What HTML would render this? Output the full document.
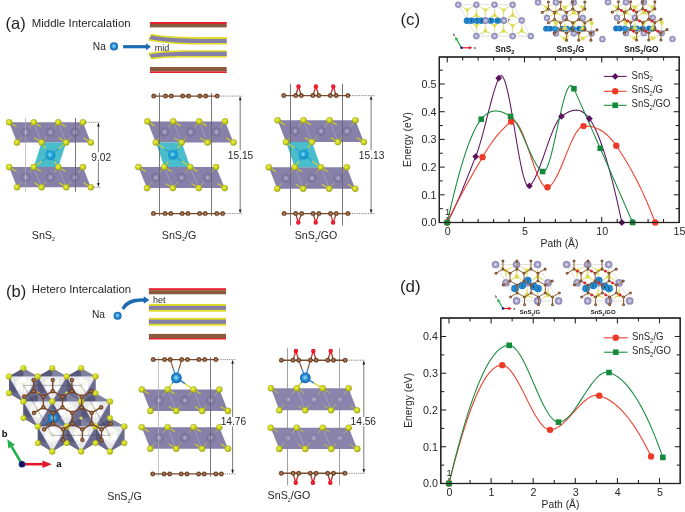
<!DOCTYPE html>
<html><head><meta charset="utf-8"><title>Na intercalation in SnS2 heterostructures</title>
<style>
html,body{margin:0;padding:0;background:#fff;}
svg{display:block;font-family:"Liberation Sans", sans-serif;}
</style></head>
<body>
<svg width="685" height="512" viewBox="0 0 685 512">
<rect x="0" y="0" width="685" height="512" fill="#ffffff"/>

<defs>
<radialGradient id="gS" cx="40%" cy="38%" r="65%"><stop offset="0" stop-color="#e8ee48"/><stop offset="0.55" stop-color="#d0d81e"/><stop offset="1" stop-color="#98a010"/></radialGradient>
<radialGradient id="gSn" cx="50%" cy="50%" r="50%"><stop offset="0" stop-color="#cdcadf"/><stop offset="0.22" stop-color="#a09bbd"/><stop offset="0.75" stop-color="#7a749c"/><stop offset="1" stop-color="#757097"/></radialGradient>
<radialGradient id="gSn2" cx="50%" cy="50%" r="50%"><stop offset="0" stop-color="#d2cfe2"/><stop offset="0.22" stop-color="#a5a0c2"/><stop offset="0.75" stop-color="#857fa8"/><stop offset="1" stop-color="#827ca5"/></radialGradient>
<radialGradient id="gNa" cx="48%" cy="48%" r="55%"><stop offset="0" stop-color="#a5e4f6"/><stop offset="0.22" stop-color="#62bfe8"/><stop offset="0.55" stop-color="#2385cc"/><stop offset="1" stop-color="#155fae"/></radialGradient>
<radialGradient id="gNaC" cx="45%" cy="45%" r="60%"><stop offset="0" stop-color="#9fe6f7"/><stop offset="0.4" stop-color="#22a6d8"/><stop offset="1" stop-color="#1489c4"/></radialGradient>
<radialGradient id="gC" cx="50%" cy="50%" r="50%"><stop offset="0" stop-color="#c9a080"/><stop offset="0.4" stop-color="#9a6844"/><stop offset="0.75" stop-color="#6e4022"/><stop offset="1" stop-color="#683a1e"/></radialGradient>
<radialGradient id="gO" cx="50%" cy="50%" r="50%"><stop offset="0" stop-color="#ff6a72"/><stop offset="0.35" stop-color="#f01c2c"/><stop offset="1" stop-color="#d80a1c"/></radialGradient>
<radialGradient id="gSnT" cx="50%" cy="50%" r="50%"><stop offset="0" stop-color="#ececf6"/><stop offset="0.5" stop-color="#aaa7cc"/><stop offset="1" stop-color="#8481b0"/></radialGradient>
</defs>

<text x="5.5" y="29.4" font-size="16.5" text-anchor="start" font-weight="normal" fill="#231f20" >(a)</text>
<text x="31.8" y="27.4" font-size="11.4" text-anchor="start" font-weight="normal" fill="#231f20" >Middle Intercalation</text>
<text x="92.8" y="49.7" font-size="10.2" text-anchor="start" font-weight="normal" fill="#231f20" >Na</text>
<text x="154.8" y="50.8" font-size="9" text-anchor="start" font-weight="normal" fill="#231f20" >mid</text>
<text x="6" y="296.8" font-size="16.5" text-anchor="start" font-weight="normal" fill="#231f20" >(b)</text>
<text x="31.8" y="293.2" font-size="11.4" text-anchor="start" font-weight="normal" fill="#231f20" >Hetero Intercalation</text>
<text x="91.9" y="318" font-size="10.2" text-anchor="start" font-weight="normal" fill="#231f20" >Na</text>
<text x="152.9" y="302.7" font-size="9" text-anchor="start" font-weight="normal" fill="#231f20" >het</text>
<text x="400.4" y="25.4" font-size="16.9" text-anchor="start" font-weight="normal" fill="#231f20" >(c)</text>
<text x="399.9" y="292.3" font-size="16.9" text-anchor="start" font-weight="normal" fill="#231f20" >(d)</text>
<text x="31.8" y="238.7" font-size="10.7" text-anchor="start" font-weight="normal" fill="#231f20" >SnS<tspan font-size="5.35" dy="2.67">2</tspan><tspan dy="-2.67"></tspan></text>
<text x="161.8" y="238.8" font-size="10.7" text-anchor="start" font-weight="normal" fill="#231f20" >SnS<tspan font-size="5.35" dy="2.67">2</tspan><tspan dy="-2.67">/G</tspan></text>
<text x="294.8" y="239" font-size="10.6" text-anchor="start" font-weight="normal" fill="#231f20" >SnS<tspan font-size="5.3" dy="2.65">2</tspan><tspan dy="-2.65">/GO</tspan></text>
<text x="107.3" y="499.9" font-size="10.7" text-anchor="start" font-weight="normal" fill="#231f20" >SnS<tspan font-size="5.35" dy="2.67">2</tspan><tspan dy="-2.67">/G</tspan></text>
<text x="267.6" y="499.3" font-size="10.7" text-anchor="start" font-weight="normal" fill="#231f20" >SnS<tspan font-size="5.35" dy="2.67">2</tspan><tspan dy="-2.67">/GO</tspan></text>
<rect x="149.9" y="22" width="76.8" height="2" fill="#e8202e" />
<rect x="149.9" y="23.9" width="76.8" height="3.5" fill="#8a5a3c" />
<rect x="149.9" y="67" width="76.8" height="4.5" fill="#8a5a3c" />
<rect x="149.9" y="71.4" width="76.8" height="1.6" fill="#e8202e" />
<path d="M226.7,37.1 L197.5,37.1 C179.5,37.1 161.5,36 150.9,33.8 L148.3,40.5 C161.5,43.1 179.5,44.6 197.5,44.6 L226.7,44.6 Z" fill="#e0dc28"/>
<path d="M226.7,38.9 L198.3,38.9 C180.3,38.9 162.3,37.8 151.7,35.6 L149.1,38.9 C162.3,41.5 180.3,43 198.3,43 L226.7,43 Z" fill="#8480aa"/>
<path d="M226.7,50.2 L197.5,50.2 C179.5,50.2 161.5,50.3 148.3,52.9 L150.9,59.6 C161.5,57.4 179.5,57.5 197.5,57.5 L226.7,57.5 Z" fill="#e0dc28"/>
<path d="M226.7,51.8 L198.3,51.8 C180.3,51.8 162.3,51.9 149.1,54.5 L151.7,57.8 C162.3,55.6 180.3,55.9 198.3,55.9 L226.7,55.9 Z" fill="#8480aa"/>
<line x1="123.1" y1="46.7" x2="147" y2="46.7" stroke="#1b6ab3" stroke-width="3.2" />
<polygon points="146,43.2 151,46.7 146,50.2" fill="#1b6ab3" />
<circle cx="114" cy="46.4" r="4.1" fill="url(#gNa)" />
<rect x="148.9" y="288.2" width="77.1" height="2.1" fill="#e8202e" />
<rect x="148.9" y="290.2" width="77.1" height="4.1" fill="#8a5a3c" />
<rect x="148.9" y="303.9" width="77.1" height="7.8" fill="#e0dc28" />
<rect x="148.9" y="305.9" width="77.1" height="3.9" fill="#8480aa" />
<rect x="148.9" y="317.8" width="77.1" height="7.9" fill="#e0dc28" />
<rect x="148.9" y="319.7" width="77.1" height="4.1" fill="#8480aa" />
<rect x="148.9" y="333.9" width="77.1" height="4.2" fill="#8a5a3c" />
<rect x="148.9" y="338" width="77.1" height="1.5" fill="#e8202e" />
<path d="M121.6,308.0 C125,300.6 132.5,297.8 144.5,298.2 L144.5,301.8 C134.5,301.5 128,303.8 124.0,310.0 Z" fill="#1b6ab3"/>
<polygon points="143.8,296.2 149.4,299.9 143.8,303.7" fill="#1b6ab3" />
<circle cx="117.6" cy="315.7" r="4" fill="url(#gNa)" />
<line x1="25.5" y1="117.9" x2="25.5" y2="191.7" stroke="#b5b5b5" stroke-width="0.55" />
<line x1="75.5" y1="117.9" x2="75.5" y2="191.7" stroke="#555" stroke-width="0.55" />
<polygon points="9.1,122.3 82.9,122.3 90.8,142.5 17,142.5" fill="#8780a8" />
<line x1="33.7" y1="122.3" x2="41.6" y2="142.5" stroke="#b9b6d2" stroke-width="0.5" />
<line x1="58.3" y1="122.3" x2="66.2" y2="142.5" stroke="#b9b6d2" stroke-width="0.5" />
<line x1="17" y1="142.5" x2="21.4" y2="137.4" stroke="#c9cc3a" stroke-width="0.7" />
<line x1="21.4" y1="137.4" x2="25.8" y2="132.3" stroke="#9d99bb" stroke-width="0.7" />
<line x1="33.7" y1="122.3" x2="29.75" y2="127.3" stroke="#c9cc3a" stroke-width="0.7" />
<line x1="29.75" y1="127.3" x2="25.8" y2="132.3" stroke="#9d99bb" stroke-width="0.7" />
<line x1="41.6" y1="142.5" x2="46" y2="137.4" stroke="#c9cc3a" stroke-width="0.7" />
<line x1="46" y1="137.4" x2="50.4" y2="132.3" stroke="#9d99bb" stroke-width="0.7" />
<line x1="58.3" y1="122.3" x2="54.35" y2="127.3" stroke="#c9cc3a" stroke-width="0.7" />
<line x1="54.35" y1="127.3" x2="50.4" y2="132.3" stroke="#9d99bb" stroke-width="0.7" />
<line x1="66.2" y1="142.5" x2="70.6" y2="137.4" stroke="#c9cc3a" stroke-width="0.7" />
<line x1="70.6" y1="137.4" x2="75" y2="132.3" stroke="#9d99bb" stroke-width="0.7" />
<line x1="82.9" y1="122.3" x2="78.95" y2="127.3" stroke="#c9cc3a" stroke-width="0.7" />
<line x1="78.95" y1="127.3" x2="75" y2="132.3" stroke="#9d99bb" stroke-width="0.7" />
<line x1="9.1" y1="122.3" x2="16.48" y2="126.72" stroke="#cccc30" stroke-width="1.2" />
<line x1="41.6" y1="142.5" x2="34.37" y2="137.84" stroke="#cccc30" stroke-width="1.2" />
<line x1="33.7" y1="122.3" x2="41.08" y2="126.72" stroke="#cccc30" stroke-width="1.2" />
<line x1="66.2" y1="142.5" x2="58.97" y2="137.84" stroke="#cccc30" stroke-width="1.2" />
<line x1="58.3" y1="122.3" x2="65.68" y2="126.72" stroke="#cccc30" stroke-width="1.2" />
<line x1="90.8" y1="142.5" x2="83.57" y2="137.84" stroke="#cccc30" stroke-width="1.2" />
<circle cx="25.8" cy="132.3" r="4.6" fill="url(#gSn)" opacity="0.95"/>
<circle cx="50.4" cy="132.3" r="4.6" fill="url(#gSn)" opacity="0.95"/>
<circle cx="75" cy="132.3" r="4.6" fill="url(#gSn)" opacity="0.95"/>
<polygon points="9.1,167.1 82.9,167.1 90.8,187.3 17,187.3" fill="#8780a8" />
<line x1="33.7" y1="167.1" x2="41.6" y2="187.3" stroke="#b9b6d2" stroke-width="0.5" />
<line x1="58.3" y1="167.1" x2="66.2" y2="187.3" stroke="#b9b6d2" stroke-width="0.5" />
<line x1="17" y1="187.3" x2="21.4" y2="182.3" stroke="#c9cc3a" stroke-width="0.7" />
<line x1="21.4" y1="182.3" x2="25.8" y2="177.3" stroke="#9d99bb" stroke-width="0.7" />
<line x1="33.7" y1="167.1" x2="29.75" y2="172.2" stroke="#c9cc3a" stroke-width="0.7" />
<line x1="29.75" y1="172.2" x2="25.8" y2="177.3" stroke="#9d99bb" stroke-width="0.7" />
<line x1="41.6" y1="187.3" x2="46" y2="182.3" stroke="#c9cc3a" stroke-width="0.7" />
<line x1="46" y1="182.3" x2="50.4" y2="177.3" stroke="#9d99bb" stroke-width="0.7" />
<line x1="58.3" y1="167.1" x2="54.35" y2="172.2" stroke="#c9cc3a" stroke-width="0.7" />
<line x1="54.35" y1="172.2" x2="50.4" y2="177.3" stroke="#9d99bb" stroke-width="0.7" />
<line x1="66.2" y1="187.3" x2="70.6" y2="182.3" stroke="#c9cc3a" stroke-width="0.7" />
<line x1="70.6" y1="182.3" x2="75" y2="177.3" stroke="#9d99bb" stroke-width="0.7" />
<line x1="82.9" y1="167.1" x2="78.95" y2="172.2" stroke="#c9cc3a" stroke-width="0.7" />
<line x1="78.95" y1="172.2" x2="75" y2="177.3" stroke="#9d99bb" stroke-width="0.7" />
<line x1="9.1" y1="167.1" x2="16.44" y2="171.58" stroke="#cccc30" stroke-width="1.2" />
<line x1="41.6" y1="187.3" x2="34.33" y2="182.7" stroke="#cccc30" stroke-width="1.2" />
<line x1="33.7" y1="167.1" x2="41.04" y2="171.58" stroke="#cccc30" stroke-width="1.2" />
<line x1="66.2" y1="187.3" x2="58.93" y2="182.7" stroke="#cccc30" stroke-width="1.2" />
<line x1="58.3" y1="167.1" x2="65.64" y2="171.58" stroke="#cccc30" stroke-width="1.2" />
<line x1="90.8" y1="187.3" x2="83.53" y2="182.7" stroke="#cccc30" stroke-width="1.2" />
<circle cx="25.8" cy="177.3" r="4.6" fill="url(#gSn)" opacity="0.95"/>
<circle cx="50.4" cy="177.3" r="4.6" fill="url(#gSn)" opacity="0.95"/>
<circle cx="75" cy="177.3" r="4.6" fill="url(#gSn)" opacity="0.95"/>
<polygon points="41.6,142.5 66.2,142.5 58.3,167.1 33.7,167.1" fill="#3fb9c9" opacity="0.95"/>
<line x1="25.5" y1="117.9" x2="25.5" y2="191.7" stroke="#b5b5b5" stroke-width="0.55" />
<line x1="75.5" y1="117.9" x2="75.5" y2="191.7" stroke="#555" stroke-width="0.55" />
<line x1="41.6" y1="142.5" x2="46" y2="148.85" stroke="#c9d040" stroke-width="1.2" />
<line x1="46" y1="148.85" x2="50.4" y2="155.2" stroke="#2aa0d0" stroke-width="1.2" />
<line x1="66.2" y1="142.5" x2="58.3" y2="148.85" stroke="#c9d040" stroke-width="1.2" />
<line x1="58.3" y1="148.85" x2="50.4" y2="155.2" stroke="#2aa0d0" stroke-width="1.2" />
<line x1="33.7" y1="167.1" x2="42.05" y2="161.15" stroke="#c9d040" stroke-width="1.2" />
<line x1="42.05" y1="161.15" x2="50.4" y2="155.2" stroke="#2aa0d0" stroke-width="1.2" />
<line x1="58.3" y1="167.1" x2="54.35" y2="161.15" stroke="#c9d040" stroke-width="1.2" />
<line x1="54.35" y1="161.15" x2="50.4" y2="155.2" stroke="#2aa0d0" stroke-width="1.2" />
<circle cx="50.4" cy="155.2" r="5" fill="url(#gNaC)" />
<circle cx="9.1" cy="122.3" r="3.05" fill="url(#gS)" stroke="#8f9310" stroke-width="0.4" />
<circle cx="33.7" cy="122.3" r="3.05" fill="url(#gS)" stroke="#8f9310" stroke-width="0.4" />
<circle cx="58.3" cy="122.3" r="3.05" fill="url(#gS)" stroke="#8f9310" stroke-width="0.4" />
<circle cx="82.9" cy="122.3" r="3.05" fill="url(#gS)" stroke="#8f9310" stroke-width="0.4" />
<circle cx="17" cy="142.5" r="3.05" fill="url(#gS)" stroke="#8f9310" stroke-width="0.4" />
<circle cx="41.6" cy="142.5" r="3.05" fill="url(#gS)" stroke="#8f9310" stroke-width="0.4" />
<circle cx="66.2" cy="142.5" r="3.05" fill="url(#gS)" stroke="#8f9310" stroke-width="0.4" />
<circle cx="90.8" cy="142.5" r="3.05" fill="url(#gS)" stroke="#8f9310" stroke-width="0.4" />
<circle cx="9.1" cy="167.1" r="3.05" fill="url(#gS)" stroke="#8f9310" stroke-width="0.4" />
<circle cx="33.7" cy="167.1" r="3.05" fill="url(#gS)" stroke="#8f9310" stroke-width="0.4" />
<circle cx="58.3" cy="167.1" r="3.05" fill="url(#gS)" stroke="#8f9310" stroke-width="0.4" />
<circle cx="82.9" cy="167.1" r="3.05" fill="url(#gS)" stroke="#8f9310" stroke-width="0.4" />
<circle cx="17" cy="187.3" r="3.05" fill="url(#gS)" stroke="#8f9310" stroke-width="0.4" />
<circle cx="41.6" cy="187.3" r="3.05" fill="url(#gS)" stroke="#8f9310" stroke-width="0.4" />
<circle cx="66.2" cy="187.3" r="3.05" fill="url(#gS)" stroke="#8f9310" stroke-width="0.4" />
<circle cx="90.8" cy="187.3" r="3.05" fill="url(#gS)" stroke="#8f9310" stroke-width="0.4" />
<line x1="85.9" y1="122.3" x2="100.4" y2="122.3" stroke="#231f20" stroke-width="0.6" stroke-dasharray="0.9 0.9"/>
<line x1="93.8" y1="187.3" x2="100.4" y2="187.3" stroke="#231f20" stroke-width="0.6" stroke-dasharray="0.9 0.9"/>
<line x1="98.4" y1="123.8" x2="98.4" y2="185.8" stroke="#231f20" stroke-width="0.6" />
<polygon points="98.4,122.5 97.1,126.5 99.7,126.5" fill="#231f20" />
<polygon points="98.4,187.1 97.1,183.1 99.7,183.1" fill="#231f20" />
<rect x="88.9" y="152.2" width="24.6" height="9.4" fill="#fff" />
<text x="101.2" y="160.6" font-size="10.2" text-anchor="middle" font-weight="normal" fill="#231f20" >9.02</text>
<line x1="159.5" y1="92.9" x2="159.5" y2="215.9" stroke="#555" stroke-width="0.55" />
<line x1="211.5" y1="92.9" x2="211.5" y2="215.9" stroke="#555" stroke-width="0.55" />
<polygon points="147.4,121.4 225.1,121.4 233.5,142.5 155.8,142.5" fill="#8780a8" />
<line x1="173.3" y1="121.4" x2="181.7" y2="142.5" stroke="#b9b6d2" stroke-width="0.5" />
<line x1="199.2" y1="121.4" x2="207.6" y2="142.5" stroke="#b9b6d2" stroke-width="0.5" />
<line x1="155.8" y1="142.5" x2="160.2" y2="137.2" stroke="#c9cc3a" stroke-width="0.7" />
<line x1="160.2" y1="137.2" x2="164.6" y2="131.9" stroke="#9d99bb" stroke-width="0.7" />
<line x1="173.3" y1="121.4" x2="168.95" y2="126.65" stroke="#c9cc3a" stroke-width="0.7" />
<line x1="168.95" y1="126.65" x2="164.6" y2="131.9" stroke="#9d99bb" stroke-width="0.7" />
<line x1="181.7" y1="142.5" x2="186.1" y2="137.2" stroke="#c9cc3a" stroke-width="0.7" />
<line x1="186.1" y1="137.2" x2="190.5" y2="131.9" stroke="#9d99bb" stroke-width="0.7" />
<line x1="199.2" y1="121.4" x2="194.85" y2="126.65" stroke="#c9cc3a" stroke-width="0.7" />
<line x1="194.85" y1="126.65" x2="190.5" y2="131.9" stroke="#9d99bb" stroke-width="0.7" />
<line x1="207.6" y1="142.5" x2="212" y2="137.2" stroke="#c9cc3a" stroke-width="0.7" />
<line x1="212" y1="137.2" x2="216.4" y2="131.9" stroke="#9d99bb" stroke-width="0.7" />
<line x1="225.1" y1="121.4" x2="220.75" y2="126.65" stroke="#c9cc3a" stroke-width="0.7" />
<line x1="220.75" y1="126.65" x2="216.4" y2="131.9" stroke="#9d99bb" stroke-width="0.7" />
<line x1="147.4" y1="121.4" x2="154.74" y2="125.88" stroke="#cccc30" stroke-width="1.2" />
<line x1="181.7" y1="142.5" x2="174.39" y2="137.97" stroke="#cccc30" stroke-width="1.2" />
<line x1="173.3" y1="121.4" x2="180.64" y2="125.88" stroke="#cccc30" stroke-width="1.2" />
<line x1="207.6" y1="142.5" x2="200.29" y2="137.97" stroke="#cccc30" stroke-width="1.2" />
<line x1="199.2" y1="121.4" x2="206.54" y2="125.88" stroke="#cccc30" stroke-width="1.2" />
<line x1="233.5" y1="142.5" x2="226.19" y2="137.97" stroke="#cccc30" stroke-width="1.2" />
<circle cx="164.6" cy="131.9" r="4.6" fill="url(#gSn)" opacity="0.95"/>
<circle cx="190.5" cy="131.9" r="4.6" fill="url(#gSn)" opacity="0.95"/>
<circle cx="216.4" cy="131.9" r="4.6" fill="url(#gSn)" opacity="0.95"/>
<polygon points="138.4,167 216.1,167 224.7,188.1 147,188.1" fill="#8780a8" />
<line x1="164.3" y1="167" x2="172.9" y2="188.1" stroke="#b9b6d2" stroke-width="0.5" />
<line x1="190.2" y1="167" x2="198.8" y2="188.1" stroke="#b9b6d2" stroke-width="0.5" />
<line x1="147" y1="188.1" x2="151.4" y2="182.85" stroke="#c9cc3a" stroke-width="0.7" />
<line x1="151.4" y1="182.85" x2="155.8" y2="177.6" stroke="#9d99bb" stroke-width="0.7" />
<line x1="164.3" y1="167" x2="160.05" y2="172.3" stroke="#c9cc3a" stroke-width="0.7" />
<line x1="160.05" y1="172.3" x2="155.8" y2="177.6" stroke="#9d99bb" stroke-width="0.7" />
<line x1="172.9" y1="188.1" x2="177.3" y2="182.85" stroke="#c9cc3a" stroke-width="0.7" />
<line x1="177.3" y1="182.85" x2="181.7" y2="177.6" stroke="#9d99bb" stroke-width="0.7" />
<line x1="190.2" y1="167" x2="185.95" y2="172.3" stroke="#c9cc3a" stroke-width="0.7" />
<line x1="185.95" y1="172.3" x2="181.7" y2="177.6" stroke="#9d99bb" stroke-width="0.7" />
<line x1="198.8" y1="188.1" x2="203.2" y2="182.85" stroke="#c9cc3a" stroke-width="0.7" />
<line x1="203.2" y1="182.85" x2="207.6" y2="177.6" stroke="#9d99bb" stroke-width="0.7" />
<line x1="216.1" y1="167" x2="211.85" y2="172.3" stroke="#c9cc3a" stroke-width="0.7" />
<line x1="211.85" y1="172.3" x2="207.6" y2="177.6" stroke="#9d99bb" stroke-width="0.7" />
<line x1="138.4" y1="167" x2="145.74" y2="171.47" stroke="#cccc30" stroke-width="1.2" />
<line x1="172.9" y1="188.1" x2="165.57" y2="183.6" stroke="#cccc30" stroke-width="1.2" />
<line x1="164.3" y1="167" x2="171.64" y2="171.47" stroke="#cccc30" stroke-width="1.2" />
<line x1="198.8" y1="188.1" x2="191.47" y2="183.6" stroke="#cccc30" stroke-width="1.2" />
<line x1="190.2" y1="167" x2="197.54" y2="171.47" stroke="#cccc30" stroke-width="1.2" />
<line x1="224.7" y1="188.1" x2="217.37" y2="183.6" stroke="#cccc30" stroke-width="1.2" />
<circle cx="155.8" cy="177.6" r="4.6" fill="url(#gSn)" opacity="0.95"/>
<circle cx="181.7" cy="177.6" r="4.6" fill="url(#gSn)" opacity="0.95"/>
<circle cx="207.6" cy="177.6" r="4.6" fill="url(#gSn)" opacity="0.95"/>
<polygon points="155.8,142.5 181.7,142.5 190.2,167 164.3,167" fill="#3fb9c9" opacity="0.95"/>
<line x1="159.5" y1="92.9" x2="159.5" y2="215.9" stroke="#555" stroke-width="0.55" />
<line x1="211.5" y1="92.9" x2="211.5" y2="215.9" stroke="#555" stroke-width="0.55" />
<line x1="155.8" y1="142.5" x2="164.4" y2="148.65" stroke="#c9d040" stroke-width="1.2" />
<line x1="164.4" y1="148.65" x2="173" y2="154.8" stroke="#2aa0d0" stroke-width="1.2" />
<line x1="181.7" y1="142.5" x2="177.35" y2="148.65" stroke="#c9d040" stroke-width="1.2" />
<line x1="177.35" y1="148.65" x2="173" y2="154.8" stroke="#2aa0d0" stroke-width="1.2" />
<line x1="164.3" y1="167" x2="168.65" y2="160.9" stroke="#c9d040" stroke-width="1.2" />
<line x1="168.65" y1="160.9" x2="173" y2="154.8" stroke="#2aa0d0" stroke-width="1.2" />
<line x1="190.2" y1="167" x2="181.6" y2="160.9" stroke="#c9d040" stroke-width="1.2" />
<line x1="181.6" y1="160.9" x2="173" y2="154.8" stroke="#2aa0d0" stroke-width="1.2" />
<circle cx="173" cy="154.8" r="5" fill="url(#gNaC)" />
<circle cx="147.4" cy="121.4" r="3.05" fill="url(#gS)" stroke="#8f9310" stroke-width="0.4" />
<circle cx="173.3" cy="121.4" r="3.05" fill="url(#gS)" stroke="#8f9310" stroke-width="0.4" />
<circle cx="199.2" cy="121.4" r="3.05" fill="url(#gS)" stroke="#8f9310" stroke-width="0.4" />
<circle cx="225.1" cy="121.4" r="3.05" fill="url(#gS)" stroke="#8f9310" stroke-width="0.4" />
<circle cx="155.8" cy="142.5" r="3.05" fill="url(#gS)" stroke="#8f9310" stroke-width="0.4" />
<circle cx="181.7" cy="142.5" r="3.05" fill="url(#gS)" stroke="#8f9310" stroke-width="0.4" />
<circle cx="207.6" cy="142.5" r="3.05" fill="url(#gS)" stroke="#8f9310" stroke-width="0.4" />
<circle cx="233.5" cy="142.5" r="3.05" fill="url(#gS)" stroke="#8f9310" stroke-width="0.4" />
<circle cx="138.4" cy="167" r="3.05" fill="url(#gS)" stroke="#8f9310" stroke-width="0.4" />
<circle cx="164.3" cy="167" r="3.05" fill="url(#gS)" stroke="#8f9310" stroke-width="0.4" />
<circle cx="190.2" cy="167" r="3.05" fill="url(#gS)" stroke="#8f9310" stroke-width="0.4" />
<circle cx="216.1" cy="167" r="3.05" fill="url(#gS)" stroke="#8f9310" stroke-width="0.4" />
<circle cx="147" cy="188.1" r="3.05" fill="url(#gS)" stroke="#8f9310" stroke-width="0.4" />
<circle cx="172.9" cy="188.1" r="3.05" fill="url(#gS)" stroke="#8f9310" stroke-width="0.4" />
<circle cx="198.8" cy="188.1" r="3.05" fill="url(#gS)" stroke="#8f9310" stroke-width="0.4" />
<circle cx="224.7" cy="188.1" r="3.05" fill="url(#gS)" stroke="#8f9310" stroke-width="0.4" />
<line x1="153.7" y1="96.1" x2="217.2" y2="96.1" stroke="#7a4a2c" stroke-width="1.4" />
<circle cx="153.7" cy="96.1" r="2.25" fill="url(#gC)" stroke="#5e3418" stroke-width="0.35" />
<circle cx="165.5" cy="96.1" r="2.25" fill="url(#gC)" stroke="#5e3418" stroke-width="0.35" />
<circle cx="171.3" cy="96.1" r="2.25" fill="url(#gC)" stroke="#5e3418" stroke-width="0.35" />
<circle cx="182.7" cy="96.1" r="2.25" fill="url(#gC)" stroke="#5e3418" stroke-width="0.35" />
<circle cx="188.5" cy="96.1" r="2.25" fill="url(#gC)" stroke="#5e3418" stroke-width="0.35" />
<circle cx="199.9" cy="96.1" r="2.25" fill="url(#gC)" stroke="#5e3418" stroke-width="0.35" />
<circle cx="205.7" cy="96.1" r="2.25" fill="url(#gC)" stroke="#5e3418" stroke-width="0.35" />
<circle cx="217.2" cy="96.1" r="2.25" fill="url(#gC)" stroke="#5e3418" stroke-width="0.35" />
<line x1="153.4" y1="213.6" x2="222.6" y2="213.6" stroke="#7a4a2c" stroke-width="1.4" />
<circle cx="153.4" cy="213.6" r="2.25" fill="url(#gC)" stroke="#5e3418" stroke-width="0.35" />
<circle cx="165.1" cy="213.6" r="2.25" fill="url(#gC)" stroke="#5e3418" stroke-width="0.35" />
<circle cx="170.8" cy="213.6" r="2.25" fill="url(#gC)" stroke="#5e3418" stroke-width="0.35" />
<circle cx="182.2" cy="213.6" r="2.25" fill="url(#gC)" stroke="#5e3418" stroke-width="0.35" />
<circle cx="188" cy="213.6" r="2.25" fill="url(#gC)" stroke="#5e3418" stroke-width="0.35" />
<circle cx="199.6" cy="213.6" r="2.25" fill="url(#gC)" stroke="#5e3418" stroke-width="0.35" />
<circle cx="205.2" cy="213.6" r="2.25" fill="url(#gC)" stroke="#5e3418" stroke-width="0.35" />
<circle cx="216.8" cy="213.6" r="2.25" fill="url(#gC)" stroke="#5e3418" stroke-width="0.35" />
<circle cx="222.6" cy="213.6" r="2.25" fill="url(#gC)" stroke="#5e3418" stroke-width="0.35" />
<line x1="219.4" y1="96.1" x2="241.8" y2="96.1" stroke="#231f20" stroke-width="0.6" stroke-dasharray="0.9 0.9"/>
<line x1="224.8" y1="213.6" x2="241.8" y2="213.6" stroke="#231f20" stroke-width="0.6" stroke-dasharray="0.9 0.9"/>
<line x1="240.2" y1="97.6" x2="240.2" y2="212.1" stroke="#231f20" stroke-width="0.6" />
<polygon points="240.2,96.3 238.9,100.3 241.5,100.3" fill="#231f20" />
<polygon points="240.2,213.4 238.9,209.4 241.5,209.4" fill="#231f20" />
<rect x="228.2" y="150.2" width="24.6" height="9.4" fill="#fff" />
<text x="240.5" y="158.6" font-size="10.2" text-anchor="middle" font-weight="normal" fill="#231f20" >15.15</text>
<line x1="290.5" y1="83.8" x2="290.5" y2="225.6" stroke="#555" stroke-width="0.55" />
<line x1="342.5" y1="83.8" x2="342.5" y2="225.6" stroke="#555" stroke-width="0.55" />
<polygon points="277.6,120.3 355.45,120.3 363.85,142.1 286,142.1" fill="#8780a8" />
<line x1="303.55" y1="120.3" x2="311.95" y2="142.1" stroke="#b9b6d2" stroke-width="0.5" />
<line x1="329.5" y1="120.3" x2="337.9" y2="142.1" stroke="#b9b6d2" stroke-width="0.5" />
<line x1="286" y1="142.1" x2="290.5" y2="136.65" stroke="#c9cc3a" stroke-width="0.7" />
<line x1="290.5" y1="136.65" x2="295" y2="131.2" stroke="#9d99bb" stroke-width="0.7" />
<line x1="303.55" y1="120.3" x2="299.27" y2="125.75" stroke="#c9cc3a" stroke-width="0.7" />
<line x1="299.27" y1="125.75" x2="295" y2="131.2" stroke="#9d99bb" stroke-width="0.7" />
<line x1="311.95" y1="142.1" x2="316.45" y2="136.65" stroke="#c9cc3a" stroke-width="0.7" />
<line x1="316.45" y1="136.65" x2="320.95" y2="131.2" stroke="#9d99bb" stroke-width="0.7" />
<line x1="329.5" y1="120.3" x2="325.23" y2="125.75" stroke="#c9cc3a" stroke-width="0.7" />
<line x1="325.23" y1="125.75" x2="320.95" y2="131.2" stroke="#9d99bb" stroke-width="0.7" />
<line x1="337.9" y1="142.1" x2="342.4" y2="136.65" stroke="#c9cc3a" stroke-width="0.7" />
<line x1="342.4" y1="136.65" x2="346.9" y2="131.2" stroke="#9d99bb" stroke-width="0.7" />
<line x1="355.45" y1="120.3" x2="351.18" y2="125.75" stroke="#c9cc3a" stroke-width="0.7" />
<line x1="351.18" y1="125.75" x2="346.9" y2="131.2" stroke="#9d99bb" stroke-width="0.7" />
<line x1="277.6" y1="120.3" x2="284.89" y2="124.87" stroke="#cccc30" stroke-width="1.2" />
<line x1="311.95" y1="142.1" x2="304.72" y2="137.45" stroke="#cccc30" stroke-width="1.2" />
<line x1="303.55" y1="120.3" x2="310.84" y2="124.87" stroke="#cccc30" stroke-width="1.2" />
<line x1="337.9" y1="142.1" x2="330.67" y2="137.45" stroke="#cccc30" stroke-width="1.2" />
<line x1="329.5" y1="120.3" x2="336.79" y2="124.87" stroke="#cccc30" stroke-width="1.2" />
<line x1="363.85" y1="142.1" x2="356.62" y2="137.45" stroke="#cccc30" stroke-width="1.2" />
<circle cx="295" cy="131.2" r="4.6" fill="url(#gSn)" opacity="0.95"/>
<circle cx="320.95" cy="131.2" r="4.6" fill="url(#gSn)" opacity="0.95"/>
<circle cx="346.9" cy="131.2" r="4.6" fill="url(#gSn)" opacity="0.95"/>
<polygon points="268.8,167.2 346.8,167.2 355.2,188.7 277.2,188.7" fill="#8780a8" />
<line x1="294.8" y1="167.2" x2="303.2" y2="188.7" stroke="#b9b6d2" stroke-width="0.5" />
<line x1="320.8" y1="167.2" x2="329.2" y2="188.7" stroke="#b9b6d2" stroke-width="0.5" />
<line x1="277.2" y1="188.7" x2="281.6" y2="183.4" stroke="#c9cc3a" stroke-width="0.7" />
<line x1="281.6" y1="183.4" x2="286" y2="178.1" stroke="#9d99bb" stroke-width="0.7" />
<line x1="294.8" y1="167.2" x2="290.4" y2="172.65" stroke="#c9cc3a" stroke-width="0.7" />
<line x1="290.4" y1="172.65" x2="286" y2="178.1" stroke="#9d99bb" stroke-width="0.7" />
<line x1="303.2" y1="188.7" x2="307.6" y2="183.4" stroke="#c9cc3a" stroke-width="0.7" />
<line x1="307.6" y1="183.4" x2="312" y2="178.1" stroke="#9d99bb" stroke-width="0.7" />
<line x1="320.8" y1="167.2" x2="316.4" y2="172.65" stroke="#c9cc3a" stroke-width="0.7" />
<line x1="316.4" y1="172.65" x2="312" y2="178.1" stroke="#9d99bb" stroke-width="0.7" />
<line x1="329.2" y1="188.7" x2="333.6" y2="183.4" stroke="#c9cc3a" stroke-width="0.7" />
<line x1="333.6" y1="183.4" x2="338" y2="178.1" stroke="#9d99bb" stroke-width="0.7" />
<line x1="346.8" y1="167.2" x2="342.4" y2="172.65" stroke="#c9cc3a" stroke-width="0.7" />
<line x1="342.4" y1="172.65" x2="338" y2="178.1" stroke="#9d99bb" stroke-width="0.7" />
<line x1="268.8" y1="167.2" x2="276.06" y2="171.8" stroke="#cccc30" stroke-width="1.2" />
<line x1="303.2" y1="188.7" x2="295.88" y2="184.19" stroke="#cccc30" stroke-width="1.2" />
<line x1="294.8" y1="167.2" x2="302.06" y2="171.8" stroke="#cccc30" stroke-width="1.2" />
<line x1="329.2" y1="188.7" x2="321.88" y2="184.19" stroke="#cccc30" stroke-width="1.2" />
<line x1="320.8" y1="167.2" x2="328.06" y2="171.8" stroke="#cccc30" stroke-width="1.2" />
<line x1="355.2" y1="188.7" x2="347.88" y2="184.19" stroke="#cccc30" stroke-width="1.2" />
<circle cx="286" cy="178.1" r="4.6" fill="url(#gSn)" opacity="0.95"/>
<circle cx="312" cy="178.1" r="4.6" fill="url(#gSn)" opacity="0.95"/>
<circle cx="338" cy="178.1" r="4.6" fill="url(#gSn)" opacity="0.95"/>
<polygon points="286,142.1 311.95,142.1 320.8,167.2 294.8,167.2" fill="#3fb9c9" opacity="0.95"/>
<line x1="290.5" y1="83.8" x2="290.5" y2="225.6" stroke="#555" stroke-width="0.55" />
<line x1="342.5" y1="83.8" x2="342.5" y2="225.6" stroke="#555" stroke-width="0.55" />
<line x1="286" y1="142.1" x2="294.8" y2="148.35" stroke="#c9d040" stroke-width="1.2" />
<line x1="294.8" y1="148.35" x2="303.6" y2="154.6" stroke="#2aa0d0" stroke-width="1.2" />
<line x1="311.95" y1="142.1" x2="307.77" y2="148.35" stroke="#c9d040" stroke-width="1.2" />
<line x1="307.77" y1="148.35" x2="303.6" y2="154.6" stroke="#2aa0d0" stroke-width="1.2" />
<line x1="294.8" y1="167.2" x2="299.2" y2="160.9" stroke="#c9d040" stroke-width="1.2" />
<line x1="299.2" y1="160.9" x2="303.6" y2="154.6" stroke="#2aa0d0" stroke-width="1.2" />
<line x1="320.8" y1="167.2" x2="312.2" y2="160.9" stroke="#c9d040" stroke-width="1.2" />
<line x1="312.2" y1="160.9" x2="303.6" y2="154.6" stroke="#2aa0d0" stroke-width="1.2" />
<circle cx="303.6" cy="154.6" r="5" fill="url(#gNaC)" />
<circle cx="277.6" cy="120.3" r="3.05" fill="url(#gS)" stroke="#8f9310" stroke-width="0.4" />
<circle cx="303.55" cy="120.3" r="3.05" fill="url(#gS)" stroke="#8f9310" stroke-width="0.4" />
<circle cx="329.5" cy="120.3" r="3.05" fill="url(#gS)" stroke="#8f9310" stroke-width="0.4" />
<circle cx="355.45" cy="120.3" r="3.05" fill="url(#gS)" stroke="#8f9310" stroke-width="0.4" />
<circle cx="286" cy="142.1" r="3.05" fill="url(#gS)" stroke="#8f9310" stroke-width="0.4" />
<circle cx="311.95" cy="142.1" r="3.05" fill="url(#gS)" stroke="#8f9310" stroke-width="0.4" />
<circle cx="337.9" cy="142.1" r="3.05" fill="url(#gS)" stroke="#8f9310" stroke-width="0.4" />
<circle cx="363.85" cy="142.1" r="3.05" fill="url(#gS)" stroke="#8f9310" stroke-width="0.4" />
<circle cx="268.8" cy="167.2" r="3.05" fill="url(#gS)" stroke="#8f9310" stroke-width="0.4" />
<circle cx="294.8" cy="167.2" r="3.05" fill="url(#gS)" stroke="#8f9310" stroke-width="0.4" />
<circle cx="320.8" cy="167.2" r="3.05" fill="url(#gS)" stroke="#8f9310" stroke-width="0.4" />
<circle cx="346.8" cy="167.2" r="3.05" fill="url(#gS)" stroke="#8f9310" stroke-width="0.4" />
<circle cx="277.2" cy="188.7" r="3.05" fill="url(#gS)" stroke="#8f9310" stroke-width="0.4" />
<circle cx="303.2" cy="188.7" r="3.05" fill="url(#gS)" stroke="#8f9310" stroke-width="0.4" />
<circle cx="329.2" cy="188.7" r="3.05" fill="url(#gS)" stroke="#8f9310" stroke-width="0.4" />
<circle cx="355.2" cy="188.7" r="3.05" fill="url(#gS)" stroke="#8f9310" stroke-width="0.4" />
<line x1="283.7" y1="95.6" x2="347.9" y2="95.6" stroke="#7a4a2c" stroke-width="1.4" />
<line x1="295.7" y1="95.6" x2="297.1" y2="91" stroke="#7a4a2c" stroke-width="1.3" />
<line x1="297.1" y1="91" x2="298.5" y2="86.4" stroke="#e81828" stroke-width="1.3" />
<line x1="301.3" y1="95.6" x2="299.9" y2="91" stroke="#7a4a2c" stroke-width="1.3" />
<line x1="299.9" y1="91" x2="298.5" y2="86.4" stroke="#e81828" stroke-width="1.3" />
<line x1="312.9" y1="95.6" x2="314.4" y2="91" stroke="#7a4a2c" stroke-width="1.3" />
<line x1="314.4" y1="91" x2="315.9" y2="86.4" stroke="#e81828" stroke-width="1.3" />
<line x1="318.7" y1="95.6" x2="317.3" y2="91" stroke="#7a4a2c" stroke-width="1.3" />
<line x1="317.3" y1="91" x2="315.9" y2="86.4" stroke="#e81828" stroke-width="1.3" />
<line x1="330.3" y1="95.6" x2="331.8" y2="91" stroke="#7a4a2c" stroke-width="1.3" />
<line x1="331.8" y1="91" x2="333.3" y2="86.4" stroke="#e81828" stroke-width="1.3" />
<line x1="336.1" y1="95.6" x2="334.7" y2="91" stroke="#7a4a2c" stroke-width="1.3" />
<line x1="334.7" y1="91" x2="333.3" y2="86.4" stroke="#e81828" stroke-width="1.3" />
<circle cx="283.7" cy="95.6" r="2.25" fill="url(#gC)" stroke="#5e3418" stroke-width="0.35" />
<circle cx="295.7" cy="95.6" r="2.25" fill="url(#gC)" stroke="#5e3418" stroke-width="0.35" />
<circle cx="301.3" cy="95.6" r="2.25" fill="url(#gC)" stroke="#5e3418" stroke-width="0.35" />
<circle cx="312.9" cy="95.6" r="2.25" fill="url(#gC)" stroke="#5e3418" stroke-width="0.35" />
<circle cx="318.7" cy="95.6" r="2.25" fill="url(#gC)" stroke="#5e3418" stroke-width="0.35" />
<circle cx="330.3" cy="95.6" r="2.25" fill="url(#gC)" stroke="#5e3418" stroke-width="0.35" />
<circle cx="336.1" cy="95.6" r="2.25" fill="url(#gC)" stroke="#5e3418" stroke-width="0.35" />
<circle cx="347.9" cy="95.6" r="2.25" fill="url(#gC)" stroke="#5e3418" stroke-width="0.35" />
<circle cx="298.5" cy="86.4" r="2.2" fill="url(#gO)" />
<circle cx="315.9" cy="86.4" r="2.2" fill="url(#gO)" />
<circle cx="333.3" cy="86.4" r="2.2" fill="url(#gO)" />
<line x1="284.1" y1="213.6" x2="347.9" y2="213.6" stroke="#7a4a2c" stroke-width="1.4" />
<line x1="295.7" y1="213.6" x2="297" y2="218.1" stroke="#7a4a2c" stroke-width="1.3" />
<line x1="297" y1="218.1" x2="298.3" y2="222.6" stroke="#e81828" stroke-width="1.3" />
<line x1="301.7" y1="213.6" x2="300" y2="218.1" stroke="#7a4a2c" stroke-width="1.3" />
<line x1="300" y1="218.1" x2="298.3" y2="222.6" stroke="#e81828" stroke-width="1.3" />
<line x1="313.1" y1="213.6" x2="314.4" y2="218.1" stroke="#7a4a2c" stroke-width="1.3" />
<line x1="314.4" y1="218.1" x2="315.7" y2="222.6" stroke="#e81828" stroke-width="1.3" />
<line x1="318.9" y1="213.6" x2="317.3" y2="218.1" stroke="#7a4a2c" stroke-width="1.3" />
<line x1="317.3" y1="218.1" x2="315.7" y2="222.6" stroke="#e81828" stroke-width="1.3" />
<line x1="330.5" y1="213.6" x2="331.8" y2="218.1" stroke="#7a4a2c" stroke-width="1.3" />
<line x1="331.8" y1="218.1" x2="333.1" y2="222.6" stroke="#e81828" stroke-width="1.3" />
<line x1="336.3" y1="213.6" x2="334.7" y2="218.1" stroke="#7a4a2c" stroke-width="1.3" />
<line x1="334.7" y1="218.1" x2="333.1" y2="222.6" stroke="#e81828" stroke-width="1.3" />
<circle cx="284.1" cy="213.6" r="2.25" fill="url(#gC)" stroke="#5e3418" stroke-width="0.35" />
<circle cx="295.7" cy="213.6" r="2.25" fill="url(#gC)" stroke="#5e3418" stroke-width="0.35" />
<circle cx="301.7" cy="213.6" r="2.25" fill="url(#gC)" stroke="#5e3418" stroke-width="0.35" />
<circle cx="313.1" cy="213.6" r="2.25" fill="url(#gC)" stroke="#5e3418" stroke-width="0.35" />
<circle cx="318.9" cy="213.6" r="2.25" fill="url(#gC)" stroke="#5e3418" stroke-width="0.35" />
<circle cx="330.5" cy="213.6" r="2.25" fill="url(#gC)" stroke="#5e3418" stroke-width="0.35" />
<circle cx="336.3" cy="213.6" r="2.25" fill="url(#gC)" stroke="#5e3418" stroke-width="0.35" />
<circle cx="347.9" cy="213.6" r="2.25" fill="url(#gC)" stroke="#5e3418" stroke-width="0.35" />
<circle cx="298.3" cy="222.6" r="2.2" fill="url(#gO)" />
<circle cx="315.7" cy="222.6" r="2.2" fill="url(#gO)" />
<circle cx="333.1" cy="222.6" r="2.2" fill="url(#gO)" />
<line x1="350.1" y1="95.6" x2="375.1" y2="95.6" stroke="#231f20" stroke-width="0.6" stroke-dasharray="0.9 0.9"/>
<line x1="350.1" y1="213.6" x2="375.1" y2="213.6" stroke="#231f20" stroke-width="0.6" stroke-dasharray="0.9 0.9"/>
<line x1="371.1" y1="97.1" x2="371.1" y2="212.1" stroke="#231f20" stroke-width="0.6" />
<polygon points="371.1,95.8 369.8,99.8 372.4,99.8" fill="#231f20" />
<polygon points="371.1,213.4 369.8,209.4 372.4,209.4" fill="#231f20" />
<rect x="359.3" y="150.4" width="24.6" height="9.4" fill="#fff" />
<text x="371.6" y="158.8" font-size="10.2" text-anchor="middle" font-weight="normal" fill="#231f20" >15.13</text>
<line x1="158.5" y1="357" x2="158.5" y2="476.5" stroke="#b5b5b5" stroke-width="0.55" />
<line x1="210.5" y1="357" x2="210.5" y2="476.5" stroke="#555" stroke-width="0.55" />
<polygon points="141.8,389.5 219.35,389.5 227.95,410.9 150.4,410.9" fill="#8780a8" />
<line x1="167.65" y1="389.5" x2="176.25" y2="410.9" stroke="#b9b6d2" stroke-width="0.5" />
<line x1="193.5" y1="389.5" x2="202.1" y2="410.9" stroke="#b9b6d2" stroke-width="0.5" />
<line x1="150.4" y1="410.9" x2="154.7" y2="405.65" stroke="#c9cc3a" stroke-width="0.7" />
<line x1="154.7" y1="405.65" x2="159" y2="400.4" stroke="#9d99bb" stroke-width="0.7" />
<line x1="167.65" y1="389.5" x2="163.32" y2="394.95" stroke="#c9cc3a" stroke-width="0.7" />
<line x1="163.32" y1="394.95" x2="159" y2="400.4" stroke="#9d99bb" stroke-width="0.7" />
<line x1="176.25" y1="410.9" x2="180.55" y2="405.65" stroke="#c9cc3a" stroke-width="0.7" />
<line x1="180.55" y1="405.65" x2="184.85" y2="400.4" stroke="#9d99bb" stroke-width="0.7" />
<line x1="193.5" y1="389.5" x2="189.18" y2="394.95" stroke="#c9cc3a" stroke-width="0.7" />
<line x1="189.18" y1="394.95" x2="184.85" y2="400.4" stroke="#9d99bb" stroke-width="0.7" />
<line x1="202.1" y1="410.9" x2="206.4" y2="405.65" stroke="#c9cc3a" stroke-width="0.7" />
<line x1="206.4" y1="405.65" x2="210.7" y2="400.4" stroke="#9d99bb" stroke-width="0.7" />
<line x1="219.35" y1="389.5" x2="215.03" y2="394.95" stroke="#c9cc3a" stroke-width="0.7" />
<line x1="215.03" y1="394.95" x2="210.7" y2="400.4" stroke="#9d99bb" stroke-width="0.7" />
<line x1="141.8" y1="389.5" x2="149.06" y2="394.1" stroke="#cccc30" stroke-width="1.2" />
<line x1="176.25" y1="410.9" x2="168.9" y2="406.43" stroke="#cccc30" stroke-width="1.2" />
<line x1="167.65" y1="389.5" x2="174.91" y2="394.1" stroke="#cccc30" stroke-width="1.2" />
<line x1="202.1" y1="410.9" x2="194.75" y2="406.43" stroke="#cccc30" stroke-width="1.2" />
<line x1="193.5" y1="389.5" x2="200.76" y2="394.1" stroke="#cccc30" stroke-width="1.2" />
<line x1="227.95" y1="410.9" x2="220.6" y2="406.43" stroke="#cccc30" stroke-width="1.2" />
<circle cx="159" cy="400.4" r="4.6" fill="url(#gSn)" opacity="0.95"/>
<circle cx="184.85" cy="400.4" r="4.6" fill="url(#gSn)" opacity="0.95"/>
<circle cx="210.7" cy="400.4" r="4.6" fill="url(#gSn)" opacity="0.95"/>
<polygon points="141.7,427.2 219.4,427.2 228,448.7 150.3,448.7" fill="#8780a8" />
<line x1="167.6" y1="427.2" x2="176.2" y2="448.7" stroke="#b9b6d2" stroke-width="0.5" />
<line x1="193.5" y1="427.2" x2="202.1" y2="448.7" stroke="#b9b6d2" stroke-width="0.5" />
<line x1="150.3" y1="448.7" x2="154.65" y2="443.25" stroke="#c9cc3a" stroke-width="0.7" />
<line x1="154.65" y1="443.25" x2="159" y2="437.8" stroke="#9d99bb" stroke-width="0.7" />
<line x1="167.6" y1="427.2" x2="163.3" y2="432.5" stroke="#c9cc3a" stroke-width="0.7" />
<line x1="163.3" y1="432.5" x2="159" y2="437.8" stroke="#9d99bb" stroke-width="0.7" />
<line x1="176.2" y1="448.7" x2="180.55" y2="443.25" stroke="#c9cc3a" stroke-width="0.7" />
<line x1="180.55" y1="443.25" x2="184.9" y2="437.8" stroke="#9d99bb" stroke-width="0.7" />
<line x1="193.5" y1="427.2" x2="189.2" y2="432.5" stroke="#c9cc3a" stroke-width="0.7" />
<line x1="189.2" y1="432.5" x2="184.9" y2="437.8" stroke="#9d99bb" stroke-width="0.7" />
<line x1="202.1" y1="448.7" x2="206.45" y2="443.25" stroke="#c9cc3a" stroke-width="0.7" />
<line x1="206.45" y1="443.25" x2="210.8" y2="437.8" stroke="#9d99bb" stroke-width="0.7" />
<line x1="219.4" y1="427.2" x2="215.1" y2="432.5" stroke="#c9cc3a" stroke-width="0.7" />
<line x1="215.1" y1="432.5" x2="210.8" y2="437.8" stroke="#9d99bb" stroke-width="0.7" />
<line x1="141.7" y1="427.2" x2="149.03" y2="431.69" stroke="#cccc30" stroke-width="1.2" />
<line x1="176.2" y1="448.7" x2="168.94" y2="444.1" stroke="#cccc30" stroke-width="1.2" />
<line x1="167.6" y1="427.2" x2="174.93" y2="431.69" stroke="#cccc30" stroke-width="1.2" />
<line x1="202.1" y1="448.7" x2="194.84" y2="444.1" stroke="#cccc30" stroke-width="1.2" />
<line x1="193.5" y1="427.2" x2="200.83" y2="431.69" stroke="#cccc30" stroke-width="1.2" />
<line x1="228" y1="448.7" x2="220.74" y2="444.1" stroke="#cccc30" stroke-width="1.2" />
<circle cx="159" cy="437.8" r="4.6" fill="url(#gSn)" opacity="0.95"/>
<circle cx="184.9" cy="437.8" r="4.6" fill="url(#gSn)" opacity="0.95"/>
<circle cx="210.8" cy="437.8" r="4.6" fill="url(#gSn)" opacity="0.95"/>
<line x1="158.5" y1="357" x2="158.5" y2="476.5" stroke="#b5b5b5" stroke-width="0.55" />
<line x1="210.5" y1="357" x2="210.5" y2="476.5" stroke="#555" stroke-width="0.55" />
<line x1="170.2" y1="359.6" x2="173.3" y2="368.75" stroke="#8a5a3c" stroke-width="1.2" />
<line x1="173.3" y1="368.75" x2="176.4" y2="377.9" stroke="#2a7fc4" stroke-width="1.2" />
<line x1="181.7" y1="359.6" x2="179.05" y2="368.75" stroke="#8a5a3c" stroke-width="1.2" />
<line x1="179.05" y1="368.75" x2="176.4" y2="377.9" stroke="#2a7fc4" stroke-width="1.2" />
<line x1="167.65" y1="389.5" x2="172.03" y2="383.7" stroke="#d6d92a" stroke-width="1.4" />
<line x1="172.03" y1="383.7" x2="176.4" y2="377.9" stroke="#2a7fc4" stroke-width="1.4" />
<line x1="193.5" y1="389.5" x2="184.95" y2="383.7" stroke="#d6d92a" stroke-width="1.4" />
<line x1="184.95" y1="383.7" x2="176.4" y2="377.9" stroke="#2a7fc4" stroke-width="1.4" />
<circle cx="176.4" cy="377.9" r="5.4" fill="url(#gNa)" />
<line x1="153.2" y1="359.6" x2="215.9" y2="359.6" stroke="#7a4a2c" stroke-width="1.4" />
<circle cx="153.2" cy="359.6" r="2.25" fill="url(#gC)" stroke="#5e3418" stroke-width="0.35" />
<circle cx="164.6" cy="359.6" r="2.25" fill="url(#gC)" stroke="#5e3418" stroke-width="0.35" />
<circle cx="170.2" cy="359.6" r="2.25" fill="url(#gC)" stroke="#5e3418" stroke-width="0.35" />
<circle cx="181.7" cy="359.6" r="2.25" fill="url(#gC)" stroke="#5e3418" stroke-width="0.35" />
<circle cx="187.5" cy="359.6" r="2.25" fill="url(#gC)" stroke="#5e3418" stroke-width="0.35" />
<circle cx="198.9" cy="359.6" r="2.25" fill="url(#gC)" stroke="#5e3418" stroke-width="0.35" />
<circle cx="204.7" cy="359.6" r="2.25" fill="url(#gC)" stroke="#5e3418" stroke-width="0.35" />
<circle cx="215.9" cy="359.6" r="2.25" fill="url(#gC)" stroke="#5e3418" stroke-width="0.35" />
<circle cx="141.8" cy="389.5" r="3.05" fill="url(#gS)" stroke="#8f9310" stroke-width="0.4" />
<circle cx="167.65" cy="389.5" r="3.05" fill="url(#gS)" stroke="#8f9310" stroke-width="0.4" />
<circle cx="193.5" cy="389.5" r="3.05" fill="url(#gS)" stroke="#8f9310" stroke-width="0.4" />
<circle cx="219.35" cy="389.5" r="3.05" fill="url(#gS)" stroke="#8f9310" stroke-width="0.4" />
<circle cx="150.4" cy="410.9" r="3.05" fill="url(#gS)" stroke="#8f9310" stroke-width="0.4" />
<circle cx="176.25" cy="410.9" r="3.05" fill="url(#gS)" stroke="#8f9310" stroke-width="0.4" />
<circle cx="202.1" cy="410.9" r="3.05" fill="url(#gS)" stroke="#8f9310" stroke-width="0.4" />
<circle cx="227.95" cy="410.9" r="3.05" fill="url(#gS)" stroke="#8f9310" stroke-width="0.4" />
<circle cx="141.7" cy="427.2" r="3.05" fill="url(#gS)" stroke="#8f9310" stroke-width="0.4" />
<circle cx="167.6" cy="427.2" r="3.05" fill="url(#gS)" stroke="#8f9310" stroke-width="0.4" />
<circle cx="193.5" cy="427.2" r="3.05" fill="url(#gS)" stroke="#8f9310" stroke-width="0.4" />
<circle cx="219.4" cy="427.2" r="3.05" fill="url(#gS)" stroke="#8f9310" stroke-width="0.4" />
<circle cx="150.3" cy="448.7" r="3.05" fill="url(#gS)" stroke="#8f9310" stroke-width="0.4" />
<circle cx="176.2" cy="448.7" r="3.05" fill="url(#gS)" stroke="#8f9310" stroke-width="0.4" />
<circle cx="202.1" cy="448.7" r="3.05" fill="url(#gS)" stroke="#8f9310" stroke-width="0.4" />
<circle cx="228" cy="448.7" r="3.05" fill="url(#gS)" stroke="#8f9310" stroke-width="0.4" />
<line x1="152.7" y1="473.9" x2="221.4" y2="473.9" stroke="#7a4a2c" stroke-width="1.4" />
<circle cx="152.7" cy="473.9" r="2.25" fill="url(#gC)" stroke="#5e3418" stroke-width="0.35" />
<circle cx="164.1" cy="473.9" r="2.25" fill="url(#gC)" stroke="#5e3418" stroke-width="0.35" />
<circle cx="169.7" cy="473.9" r="2.25" fill="url(#gC)" stroke="#5e3418" stroke-width="0.35" />
<circle cx="181.2" cy="473.9" r="2.25" fill="url(#gC)" stroke="#5e3418" stroke-width="0.35" />
<circle cx="187" cy="473.9" r="2.25" fill="url(#gC)" stroke="#5e3418" stroke-width="0.35" />
<circle cx="198.6" cy="473.9" r="2.25" fill="url(#gC)" stroke="#5e3418" stroke-width="0.35" />
<circle cx="204.2" cy="473.9" r="2.25" fill="url(#gC)" stroke="#5e3418" stroke-width="0.35" />
<circle cx="215.8" cy="473.9" r="2.25" fill="url(#gC)" stroke="#5e3418" stroke-width="0.35" />
<circle cx="221.4" cy="473.9" r="2.25" fill="url(#gC)" stroke="#5e3418" stroke-width="0.35" />
<line x1="218.1" y1="359.6" x2="236" y2="359.6" stroke="#231f20" stroke-width="0.6" stroke-dasharray="0.9 0.9"/>
<line x1="223.6" y1="473.9" x2="236" y2="473.9" stroke="#231f20" stroke-width="0.6" stroke-dasharray="0.9 0.9"/>
<line x1="232.6" y1="361.1" x2="232.6" y2="472.4" stroke="#231f20" stroke-width="0.6" />
<polygon points="232.6,359.8 231.3,363.8 233.9,363.8" fill="#231f20" />
<polygon points="232.6,473.7 231.3,469.7 233.9,469.7" fill="#231f20" />
<rect x="221.1" y="417" width="24.6" height="9.4" fill="#fff" />
<text x="233.4" y="425.4" font-size="10.2" text-anchor="middle" font-weight="normal" fill="#231f20" >14.76</text>
<line x1="287.5" y1="347.9" x2="287.5" y2="485.3" stroke="#8a8a8a" stroke-width="0.55" />
<line x1="339.5" y1="347.9" x2="339.5" y2="485.3" stroke="#8a8a8a" stroke-width="0.55" />
<polygon points="270.9,388.3 348.6,388.3 357,410.3 279.3,410.3" fill="#8a84ac" />
<line x1="296.8" y1="388.3" x2="305.2" y2="410.3" stroke="#b9b6d2" stroke-width="0.5" />
<line x1="322.7" y1="388.3" x2="331.1" y2="410.3" stroke="#b9b6d2" stroke-width="0.5" />
<line x1="279.3" y1="410.3" x2="283.7" y2="404.85" stroke="#c9cc3a" stroke-width="0.7" />
<line x1="283.7" y1="404.85" x2="288.1" y2="399.4" stroke="#9d99bb" stroke-width="0.7" />
<line x1="296.8" y1="388.3" x2="292.45" y2="393.85" stroke="#c9cc3a" stroke-width="0.7" />
<line x1="292.45" y1="393.85" x2="288.1" y2="399.4" stroke="#9d99bb" stroke-width="0.7" />
<line x1="305.2" y1="410.3" x2="309.6" y2="404.85" stroke="#c9cc3a" stroke-width="0.7" />
<line x1="309.6" y1="404.85" x2="314" y2="399.4" stroke="#9d99bb" stroke-width="0.7" />
<line x1="322.7" y1="388.3" x2="318.35" y2="393.85" stroke="#c9cc3a" stroke-width="0.7" />
<line x1="318.35" y1="393.85" x2="314" y2="399.4" stroke="#9d99bb" stroke-width="0.7" />
<line x1="331.1" y1="410.3" x2="335.5" y2="404.85" stroke="#c9cc3a" stroke-width="0.7" />
<line x1="335.5" y1="404.85" x2="339.9" y2="399.4" stroke="#9d99bb" stroke-width="0.7" />
<line x1="348.6" y1="388.3" x2="344.25" y2="393.85" stroke="#c9cc3a" stroke-width="0.7" />
<line x1="344.25" y1="393.85" x2="339.9" y2="399.4" stroke="#9d99bb" stroke-width="0.7" />
<line x1="270.9" y1="388.3" x2="278.13" y2="392.96" stroke="#cccc30" stroke-width="0.8" />
<line x1="305.2" y1="410.3" x2="297.95" y2="405.68" stroke="#cccc30" stroke-width="0.8" />
<line x1="296.8" y1="388.3" x2="304.03" y2="392.96" stroke="#cccc30" stroke-width="0.8" />
<line x1="331.1" y1="410.3" x2="323.85" y2="405.68" stroke="#cccc30" stroke-width="0.8" />
<line x1="322.7" y1="388.3" x2="329.93" y2="392.96" stroke="#cccc30" stroke-width="0.8" />
<line x1="357" y1="410.3" x2="349.75" y2="405.68" stroke="#cccc30" stroke-width="0.8" />
<circle cx="288.1" cy="399.4" r="4.6" fill="url(#gSn2)" opacity="0.95"/>
<circle cx="314" cy="399.4" r="4.6" fill="url(#gSn2)" opacity="0.95"/>
<circle cx="339.9" cy="399.4" r="4.6" fill="url(#gSn2)" opacity="0.95"/>
<polygon points="270.7,427.7 348.7,427.7 357.3,448.9 279.3,448.9" fill="#8a84ac" />
<line x1="296.7" y1="427.7" x2="305.3" y2="448.9" stroke="#b9b6d2" stroke-width="0.5" />
<line x1="322.7" y1="427.7" x2="331.3" y2="448.9" stroke="#b9b6d2" stroke-width="0.5" />
<line x1="279.3" y1="448.9" x2="283.55" y2="443.55" stroke="#c9cc3a" stroke-width="0.7" />
<line x1="283.55" y1="443.55" x2="287.8" y2="438.2" stroke="#9d99bb" stroke-width="0.7" />
<line x1="296.7" y1="427.7" x2="292.25" y2="432.95" stroke="#c9cc3a" stroke-width="0.7" />
<line x1="292.25" y1="432.95" x2="287.8" y2="438.2" stroke="#9d99bb" stroke-width="0.7" />
<line x1="305.3" y1="448.9" x2="309.55" y2="443.55" stroke="#c9cc3a" stroke-width="0.7" />
<line x1="309.55" y1="443.55" x2="313.8" y2="438.2" stroke="#9d99bb" stroke-width="0.7" />
<line x1="322.7" y1="427.7" x2="318.25" y2="432.95" stroke="#c9cc3a" stroke-width="0.7" />
<line x1="318.25" y1="432.95" x2="313.8" y2="438.2" stroke="#9d99bb" stroke-width="0.7" />
<line x1="331.3" y1="448.9" x2="335.55" y2="443.55" stroke="#c9cc3a" stroke-width="0.7" />
<line x1="335.55" y1="443.55" x2="339.8" y2="438.2" stroke="#9d99bb" stroke-width="0.7" />
<line x1="348.7" y1="427.7" x2="344.25" y2="432.95" stroke="#c9cc3a" stroke-width="0.7" />
<line x1="344.25" y1="432.95" x2="339.8" y2="438.2" stroke="#9d99bb" stroke-width="0.7" />
<line x1="270.7" y1="427.7" x2="278.03" y2="432.2" stroke="#cccc30" stroke-width="0.8" />
<line x1="305.3" y1="448.9" x2="297.96" y2="444.41" stroke="#cccc30" stroke-width="0.8" />
<line x1="296.7" y1="427.7" x2="304.03" y2="432.2" stroke="#cccc30" stroke-width="0.8" />
<line x1="331.3" y1="448.9" x2="323.96" y2="444.41" stroke="#cccc30" stroke-width="0.8" />
<line x1="322.7" y1="427.7" x2="330.03" y2="432.2" stroke="#cccc30" stroke-width="0.8" />
<line x1="357.3" y1="448.9" x2="349.96" y2="444.41" stroke="#cccc30" stroke-width="0.8" />
<circle cx="287.8" cy="438.2" r="4.6" fill="url(#gSn2)" opacity="0.95"/>
<circle cx="313.8" cy="438.2" r="4.6" fill="url(#gSn2)" opacity="0.95"/>
<circle cx="339.8" cy="438.2" r="4.6" fill="url(#gSn2)" opacity="0.95"/>
<line x1="287.5" y1="347.9" x2="287.5" y2="485.3" stroke="#8a8a8a" stroke-width="0.55" />
<line x1="339.5" y1="347.9" x2="339.5" y2="485.3" stroke="#8a8a8a" stroke-width="0.55" />
<line x1="298.7" y1="360.2" x2="302" y2="369" stroke="#8a5a3c" stroke-width="1.2" />
<line x1="302" y1="369" x2="305.3" y2="377.8" stroke="#2a7fc4" stroke-width="1.2" />
<line x1="310.4" y1="360.2" x2="307.85" y2="369" stroke="#8a5a3c" stroke-width="1.2" />
<line x1="307.85" y1="369" x2="305.3" y2="377.8" stroke="#2a7fc4" stroke-width="1.2" />
<line x1="296.8" y1="388.3" x2="301.05" y2="383.05" stroke="#d6d92a" stroke-width="1.4" />
<line x1="301.05" y1="383.05" x2="305.3" y2="377.8" stroke="#2a7fc4" stroke-width="1.4" />
<line x1="322.7" y1="388.3" x2="314" y2="383.05" stroke="#d6d92a" stroke-width="1.4" />
<line x1="314" y1="383.05" x2="305.3" y2="377.8" stroke="#2a7fc4" stroke-width="1.4" />
<circle cx="305.3" cy="377.8" r="5.4" fill="url(#gNa)" />
<line x1="281.4" y1="360.2" x2="345.2" y2="360.2" stroke="#7a4a2c" stroke-width="1.4" />
<line x1="293" y1="360.2" x2="294.45" y2="355.55" stroke="#7a4a2c" stroke-width="1.3" />
<line x1="294.45" y1="355.55" x2="295.9" y2="350.9" stroke="#e81828" stroke-width="1.3" />
<line x1="298.7" y1="360.2" x2="297.3" y2="355.55" stroke="#7a4a2c" stroke-width="1.3" />
<line x1="297.3" y1="355.55" x2="295.9" y2="350.9" stroke="#e81828" stroke-width="1.3" />
<line x1="310.4" y1="360.2" x2="311.85" y2="355.55" stroke="#7a4a2c" stroke-width="1.3" />
<line x1="311.85" y1="355.55" x2="313.3" y2="350.9" stroke="#e81828" stroke-width="1.3" />
<line x1="316.2" y1="360.2" x2="314.75" y2="355.55" stroke="#7a4a2c" stroke-width="1.3" />
<line x1="314.75" y1="355.55" x2="313.3" y2="350.9" stroke="#e81828" stroke-width="1.3" />
<line x1="327.8" y1="360.2" x2="329.25" y2="355.55" stroke="#7a4a2c" stroke-width="1.3" />
<line x1="329.25" y1="355.55" x2="330.7" y2="350.9" stroke="#e81828" stroke-width="1.3" />
<line x1="333.5" y1="360.2" x2="332.1" y2="355.55" stroke="#7a4a2c" stroke-width="1.3" />
<line x1="332.1" y1="355.55" x2="330.7" y2="350.9" stroke="#e81828" stroke-width="1.3" />
<circle cx="281.4" cy="360.2" r="2.25" fill="url(#gC)" stroke="#5e3418" stroke-width="0.35" />
<circle cx="293" cy="360.2" r="2.25" fill="url(#gC)" stroke="#5e3418" stroke-width="0.35" />
<circle cx="298.7" cy="360.2" r="2.25" fill="url(#gC)" stroke="#5e3418" stroke-width="0.35" />
<circle cx="310.4" cy="360.2" r="2.25" fill="url(#gC)" stroke="#5e3418" stroke-width="0.35" />
<circle cx="316.2" cy="360.2" r="2.25" fill="url(#gC)" stroke="#5e3418" stroke-width="0.35" />
<circle cx="327.8" cy="360.2" r="2.25" fill="url(#gC)" stroke="#5e3418" stroke-width="0.35" />
<circle cx="333.5" cy="360.2" r="2.25" fill="url(#gC)" stroke="#5e3418" stroke-width="0.35" />
<circle cx="345.2" cy="360.2" r="2.25" fill="url(#gC)" stroke="#5e3418" stroke-width="0.35" />
<circle cx="295.9" cy="350.9" r="2.2" fill="url(#gO)" />
<circle cx="313.3" cy="350.9" r="2.2" fill="url(#gO)" />
<circle cx="330.7" cy="350.9" r="2.2" fill="url(#gO)" />
<circle cx="270.9" cy="388.3" r="3.05" fill="url(#gS)" stroke="#8f9310" stroke-width="0.4" />
<circle cx="296.8" cy="388.3" r="3.05" fill="url(#gS)" stroke="#8f9310" stroke-width="0.4" />
<circle cx="322.7" cy="388.3" r="3.05" fill="url(#gS)" stroke="#8f9310" stroke-width="0.4" />
<circle cx="348.6" cy="388.3" r="3.05" fill="url(#gS)" stroke="#8f9310" stroke-width="0.4" />
<circle cx="279.3" cy="410.3" r="3.05" fill="url(#gS)" stroke="#8f9310" stroke-width="0.4" />
<circle cx="305.2" cy="410.3" r="3.05" fill="url(#gS)" stroke="#8f9310" stroke-width="0.4" />
<circle cx="331.1" cy="410.3" r="3.05" fill="url(#gS)" stroke="#8f9310" stroke-width="0.4" />
<circle cx="357" cy="410.3" r="3.05" fill="url(#gS)" stroke="#8f9310" stroke-width="0.4" />
<circle cx="270.7" cy="427.7" r="3.05" fill="url(#gS)" stroke="#8f9310" stroke-width="0.4" />
<circle cx="296.7" cy="427.7" r="3.05" fill="url(#gS)" stroke="#8f9310" stroke-width="0.4" />
<circle cx="322.7" cy="427.7" r="3.05" fill="url(#gS)" stroke="#8f9310" stroke-width="0.4" />
<circle cx="348.7" cy="427.7" r="3.05" fill="url(#gS)" stroke="#8f9310" stroke-width="0.4" />
<circle cx="279.3" cy="448.9" r="3.05" fill="url(#gS)" stroke="#8f9310" stroke-width="0.4" />
<circle cx="305.3" cy="448.9" r="3.05" fill="url(#gS)" stroke="#8f9310" stroke-width="0.4" />
<circle cx="331.3" cy="448.9" r="3.05" fill="url(#gS)" stroke="#8f9310" stroke-width="0.4" />
<circle cx="357.3" cy="448.9" r="3.05" fill="url(#gS)" stroke="#8f9310" stroke-width="0.4" />
<line x1="281.3" y1="473.3" x2="344.9" y2="473.3" stroke="#7a4a2c" stroke-width="1.4" />
<line x1="293.1" y1="473.3" x2="294.4" y2="478" stroke="#7a4a2c" stroke-width="1.3" />
<line x1="294.4" y1="478" x2="295.7" y2="482.7" stroke="#e81828" stroke-width="1.3" />
<line x1="298.7" y1="473.3" x2="297.2" y2="478" stroke="#7a4a2c" stroke-width="1.3" />
<line x1="297.2" y1="478" x2="295.7" y2="482.7" stroke="#e81828" stroke-width="1.3" />
<line x1="310.3" y1="473.3" x2="311.6" y2="478" stroke="#7a4a2c" stroke-width="1.3" />
<line x1="311.6" y1="478" x2="312.9" y2="482.7" stroke="#e81828" stroke-width="1.3" />
<line x1="316.1" y1="473.3" x2="314.5" y2="478" stroke="#7a4a2c" stroke-width="1.3" />
<line x1="314.5" y1="478" x2="312.9" y2="482.7" stroke="#e81828" stroke-width="1.3" />
<line x1="327.7" y1="473.3" x2="329" y2="478" stroke="#7a4a2c" stroke-width="1.3" />
<line x1="329" y1="478" x2="330.3" y2="482.7" stroke="#e81828" stroke-width="1.3" />
<line x1="333.5" y1="473.3" x2="331.9" y2="478" stroke="#7a4a2c" stroke-width="1.3" />
<line x1="331.9" y1="478" x2="330.3" y2="482.7" stroke="#e81828" stroke-width="1.3" />
<circle cx="281.3" cy="473.3" r="2.25" fill="url(#gC)" stroke="#5e3418" stroke-width="0.35" />
<circle cx="293.1" cy="473.3" r="2.25" fill="url(#gC)" stroke="#5e3418" stroke-width="0.35" />
<circle cx="298.7" cy="473.3" r="2.25" fill="url(#gC)" stroke="#5e3418" stroke-width="0.35" />
<circle cx="310.3" cy="473.3" r="2.25" fill="url(#gC)" stroke="#5e3418" stroke-width="0.35" />
<circle cx="316.1" cy="473.3" r="2.25" fill="url(#gC)" stroke="#5e3418" stroke-width="0.35" />
<circle cx="327.7" cy="473.3" r="2.25" fill="url(#gC)" stroke="#5e3418" stroke-width="0.35" />
<circle cx="333.5" cy="473.3" r="2.25" fill="url(#gC)" stroke="#5e3418" stroke-width="0.35" />
<circle cx="344.9" cy="473.3" r="2.25" fill="url(#gC)" stroke="#5e3418" stroke-width="0.35" />
<circle cx="295.7" cy="482.7" r="2.2" fill="url(#gO)" />
<circle cx="312.9" cy="482.7" r="2.2" fill="url(#gO)" />
<circle cx="330.3" cy="482.7" r="2.2" fill="url(#gO)" />
<line x1="347.4" y1="360.2" x2="365.4" y2="360.2" stroke="#231f20" stroke-width="0.6" stroke-dasharray="0.9 0.9"/>
<line x1="347.2" y1="473.3" x2="365.4" y2="473.3" stroke="#231f20" stroke-width="0.6" stroke-dasharray="0.9 0.9"/>
<line x1="363.8" y1="361.7" x2="363.8" y2="471.8" stroke="#231f20" stroke-width="0.6" />
<polygon points="363.8,360.4 362.5,364.4 365.1,364.4" fill="#231f20" />
<polygon points="363.8,473.1 362.5,469.1 365.1,469.1" fill="#231f20" />
<rect x="351" y="416.9" width="24.6" height="9.4" fill="#fff" />
<text x="363.3" y="425.3" font-size="10.2" text-anchor="middle" font-weight="normal" fill="#231f20" >14.56</text>
<g>
<polygon points="23.4,368.14 37.83,376.47 37.83,393.13 23.4,401.46 8.98,393.13 8.97,376.47" fill="#6c6c8f" />
<polygon points="52.25,368.14 66.67,376.47 66.67,393.13 52.25,401.46 37.83,393.13 37.83,376.47" fill="#6c6c8f" />
<polygon points="81.1,368.14 95.52,376.47 95.52,393.13 81.1,401.46 66.67,393.13 66.67,376.47" fill="#6c6c8f" />
<polygon points="37.83,393.13 52.25,401.46 52.25,418.11 37.83,426.44 23.4,418.11 23.4,401.46" fill="#6c6c8f" />
<polygon points="66.67,393.13 81.1,401.46 81.1,418.11 66.67,426.44 52.25,418.11 52.25,401.46" fill="#6c6c8f" />
<polygon points="95.52,393.13 109.95,401.46 109.95,418.11 95.52,426.44 81.1,418.11 81.1,401.46" fill="#6c6c8f" />
<polygon points="52.25,418.11 66.67,426.44 66.67,443.1 52.25,451.43 37.83,443.1 37.83,426.44" fill="#6c6c8f" />
<polygon points="81.1,418.11 95.52,426.44 95.52,443.1 81.1,451.43 66.67,443.1 66.67,426.44" fill="#6c6c8f" />
<polygon points="109.95,418.11 124.37,426.44 124.37,443.1 109.95,451.43 95.52,443.1 95.52,426.44" fill="#6c6c8f" />
<polygon points="8.97,376.47 23.4,368.14 23.4,384.8" fill="#58587a" />
<polygon points="23.4,368.14 37.83,376.47 23.4,384.8" fill="#8080a0" />
<polygon points="37.83,376.47 37.83,393.13 23.4,401.46" fill="#6c6c8f" />
<polygon points="8.97,376.47 8.98,393.13 23.4,401.46" fill="#58587a" />
<polygon points="8.98,393.13 23.4,401.46 18.19,392.29" fill="#6c6c8f" />
<polygon points="37.83,376.47 52.25,368.14 52.25,384.8" fill="#58587a" />
<polygon points="52.25,368.14 66.67,376.47 52.25,384.8" fill="#8080a0" />
<polygon points="66.67,376.47 66.67,393.13 52.25,401.46" fill="#6c6c8f" />
<polygon points="37.83,376.47 37.83,393.13 52.25,401.46" fill="#58587a" />
<polygon points="37.83,393.13 52.25,401.46 47.04,392.29" fill="#6c6c8f" />
<polygon points="66.67,376.47 81.1,368.14 81.1,384.8" fill="#58587a" />
<polygon points="81.1,368.14 95.52,376.47 81.1,384.8" fill="#8080a0" />
<polygon points="95.52,376.47 95.52,393.13 81.1,401.46" fill="#6c6c8f" />
<polygon points="66.67,376.47 66.67,393.13 81.1,401.46" fill="#58587a" />
<polygon points="66.67,393.13 81.1,401.46 75.89,392.29" fill="#6c6c8f" />
<polygon points="23.4,401.46 37.83,393.13 37.83,409.78" fill="#58587a" />
<polygon points="37.83,393.13 52.25,401.46 37.83,409.78" fill="#8080a0" />
<polygon points="52.25,401.46 52.25,418.11 37.83,426.44" fill="#6c6c8f" />
<polygon points="23.4,401.46 23.4,418.11 37.83,426.44" fill="#58587a" />
<polygon points="23.4,418.11 37.83,426.44 32.61,417.28" fill="#6c6c8f" />
<polygon points="52.25,401.46 66.67,393.13 66.67,409.78" fill="#58587a" />
<polygon points="66.67,393.13 81.1,401.46 66.67,409.78" fill="#8080a0" />
<polygon points="81.1,401.46 81.1,418.11 66.67,426.44" fill="#6c6c8f" />
<polygon points="52.25,401.46 52.25,418.11 66.67,426.44" fill="#58587a" />
<polygon points="52.25,418.11 66.67,426.44 61.46,417.28" fill="#6c6c8f" />
<polygon points="81.1,401.46 95.52,393.13 95.52,409.78" fill="#58587a" />
<polygon points="95.52,393.13 109.95,401.46 95.52,409.78" fill="#8080a0" />
<polygon points="109.95,401.46 109.95,418.11 95.52,426.44" fill="#6c6c8f" />
<polygon points="81.1,401.46 81.1,418.11 95.52,426.44" fill="#58587a" />
<polygon points="81.1,418.11 95.52,426.44 90.31,417.28" fill="#6c6c8f" />
<polygon points="37.83,426.44 52.25,418.11 52.25,434.77" fill="#58587a" />
<polygon points="52.25,418.11 66.67,426.44 52.25,434.77" fill="#8080a0" />
<polygon points="66.67,426.44 66.67,443.1 52.25,451.43" fill="#6c6c8f" />
<polygon points="37.83,426.44 37.83,443.1 52.25,451.43" fill="#58587a" />
<polygon points="37.83,443.1 52.25,451.43 47.04,442.26" fill="#6c6c8f" />
<polygon points="66.67,426.44 81.1,418.11 81.1,434.77" fill="#58587a" />
<polygon points="81.1,418.11 95.52,426.44 81.1,434.77" fill="#8080a0" />
<polygon points="95.52,426.44 95.52,443.1 81.1,451.43" fill="#6c6c8f" />
<polygon points="66.67,426.44 66.67,443.1 81.1,451.43" fill="#58587a" />
<polygon points="66.67,443.1 81.1,451.43 75.89,442.26" fill="#6c6c8f" />
<polygon points="95.52,426.44 109.95,418.11 109.95,434.77" fill="#58587a" />
<polygon points="109.95,418.11 124.37,426.44 109.95,434.77" fill="#8080a0" />
<polygon points="124.37,426.44 124.37,443.1 109.95,451.43" fill="#6c6c8f" />
<polygon points="95.52,426.44 95.52,443.1 109.95,451.43" fill="#58587a" />
<polygon points="95.52,443.1 109.95,451.43 104.74,442.26" fill="#6c6c8f" />
<polygon points="8.97,376.47 37.83,376.47 23.4,401.46" fill="#e9e9f2" stroke="#c8c8dc" stroke-width="0.3" />
<circle cx="27.73" cy="387.3" r="2.9" fill="#ffffff" opacity="0.9"/>
<circle cx="23.4" cy="389.8" r="2.9" fill="#ffffff" opacity="0.9"/>
<circle cx="19.07" cy="387.3" r="2.9" fill="#ffffff" opacity="0.9"/>
<circle cx="19.07" cy="382.3" r="2.9" fill="#ffffff" opacity="0.9"/>
<circle cx="23.4" cy="379.8" r="2.9" fill="#ffffff" opacity="0.9"/>
<circle cx="27.73" cy="382.3" r="2.9" fill="#ffffff" opacity="0.9"/>
<circle cx="23.4" cy="384.8" r="2.6" fill="#f4f4fa" />
<line x1="23.4" y1="384.8" x2="34.94" y2="378.14" stroke="#e8eab0" stroke-width="0.7" />
<line x1="23.4" y1="384.8" x2="23.4" y2="398.13" stroke="#e8eab0" stroke-width="0.7" />
<line x1="23.4" y1="384.8" x2="11.86" y2="378.14" stroke="#e8eab0" stroke-width="0.7" />
<polygon points="37.83,376.47 66.67,376.47 52.25,401.46" fill="#e9e9f2" stroke="#c8c8dc" stroke-width="0.3" />
<circle cx="56.58" cy="387.3" r="2.9" fill="#ffffff" opacity="0.9"/>
<circle cx="52.25" cy="389.8" r="2.9" fill="#ffffff" opacity="0.9"/>
<circle cx="47.92" cy="387.3" r="2.9" fill="#ffffff" opacity="0.9"/>
<circle cx="47.92" cy="382.3" r="2.9" fill="#ffffff" opacity="0.9"/>
<circle cx="52.25" cy="379.8" r="2.9" fill="#ffffff" opacity="0.9"/>
<circle cx="56.58" cy="382.3" r="2.9" fill="#ffffff" opacity="0.9"/>
<circle cx="52.25" cy="384.8" r="2.6" fill="#f4f4fa" />
<line x1="52.25" y1="384.8" x2="63.79" y2="378.14" stroke="#e8eab0" stroke-width="0.7" />
<line x1="52.25" y1="384.8" x2="52.25" y2="398.13" stroke="#e8eab0" stroke-width="0.7" />
<line x1="52.25" y1="384.8" x2="40.71" y2="378.14" stroke="#e8eab0" stroke-width="0.7" />
<polygon points="66.67,376.47 95.52,376.47 81.1,401.46" fill="#e9e9f2" stroke="#c8c8dc" stroke-width="0.3" />
<circle cx="85.43" cy="387.3" r="2.9" fill="#ffffff" opacity="0.9"/>
<circle cx="81.1" cy="389.8" r="2.9" fill="#ffffff" opacity="0.9"/>
<circle cx="76.77" cy="387.3" r="2.9" fill="#ffffff" opacity="0.9"/>
<circle cx="76.77" cy="382.3" r="2.9" fill="#ffffff" opacity="0.9"/>
<circle cx="81.1" cy="379.8" r="2.9" fill="#ffffff" opacity="0.9"/>
<circle cx="85.43" cy="382.3" r="2.9" fill="#ffffff" opacity="0.9"/>
<circle cx="81.1" cy="384.8" r="2.6" fill="#f4f4fa" />
<line x1="81.1" y1="384.8" x2="92.64" y2="378.14" stroke="#e8eab0" stroke-width="0.7" />
<line x1="81.1" y1="384.8" x2="81.1" y2="398.13" stroke="#e8eab0" stroke-width="0.7" />
<line x1="81.1" y1="384.8" x2="69.56" y2="378.14" stroke="#e8eab0" stroke-width="0.7" />
<polygon points="23.4,401.46 52.25,401.46 37.83,426.44" fill="#e9e9f2" stroke="#c8c8dc" stroke-width="0.3" />
<circle cx="42.16" cy="412.28" r="2.9" fill="#ffffff" opacity="0.9"/>
<circle cx="37.83" cy="414.78" r="2.9" fill="#ffffff" opacity="0.9"/>
<circle cx="33.49" cy="412.28" r="2.9" fill="#ffffff" opacity="0.9"/>
<circle cx="33.49" cy="407.28" r="2.9" fill="#ffffff" opacity="0.9"/>
<circle cx="37.83" cy="404.78" r="2.9" fill="#ffffff" opacity="0.9"/>
<circle cx="42.16" cy="407.28" r="2.9" fill="#ffffff" opacity="0.9"/>
<circle cx="37.83" cy="409.78" r="2.6" fill="#f4f4fa" />
<line x1="37.83" y1="409.78" x2="49.37" y2="403.12" stroke="#e8eab0" stroke-width="0.7" />
<line x1="37.83" y1="409.78" x2="37.83" y2="423.11" stroke="#e8eab0" stroke-width="0.7" />
<line x1="37.83" y1="409.78" x2="26.29" y2="403.12" stroke="#e8eab0" stroke-width="0.7" />
<polygon points="52.25,401.46 81.1,401.46 66.67,426.44" fill="#e9e9f2" stroke="#c8c8dc" stroke-width="0.3" />
<circle cx="71.01" cy="412.28" r="2.9" fill="#ffffff" opacity="0.9"/>
<circle cx="66.67" cy="414.78" r="2.9" fill="#ffffff" opacity="0.9"/>
<circle cx="62.34" cy="412.28" r="2.9" fill="#ffffff" opacity="0.9"/>
<circle cx="62.34" cy="407.28" r="2.9" fill="#ffffff" opacity="0.9"/>
<circle cx="66.67" cy="404.78" r="2.9" fill="#ffffff" opacity="0.9"/>
<circle cx="71.01" cy="407.28" r="2.9" fill="#ffffff" opacity="0.9"/>
<circle cx="66.67" cy="409.78" r="2.6" fill="#f4f4fa" />
<line x1="66.67" y1="409.78" x2="78.22" y2="403.12" stroke="#e8eab0" stroke-width="0.7" />
<line x1="66.67" y1="409.78" x2="66.67" y2="423.11" stroke="#e8eab0" stroke-width="0.7" />
<line x1="66.67" y1="409.78" x2="55.13" y2="403.12" stroke="#e8eab0" stroke-width="0.7" />
<polygon points="81.1,401.46 109.95,401.46 95.52,426.44" fill="#e9e9f2" stroke="#c8c8dc" stroke-width="0.3" />
<circle cx="99.86" cy="412.28" r="2.9" fill="#ffffff" opacity="0.9"/>
<circle cx="95.52" cy="414.78" r="2.9" fill="#ffffff" opacity="0.9"/>
<circle cx="91.19" cy="412.28" r="2.9" fill="#ffffff" opacity="0.9"/>
<circle cx="91.19" cy="407.28" r="2.9" fill="#ffffff" opacity="0.9"/>
<circle cx="95.52" cy="404.78" r="2.9" fill="#ffffff" opacity="0.9"/>
<circle cx="99.86" cy="407.28" r="2.9" fill="#ffffff" opacity="0.9"/>
<circle cx="95.52" cy="409.78" r="2.6" fill="#f4f4fa" />
<line x1="95.52" y1="409.78" x2="107.06" y2="403.12" stroke="#e8eab0" stroke-width="0.7" />
<line x1="95.52" y1="409.78" x2="95.52" y2="423.11" stroke="#e8eab0" stroke-width="0.7" />
<line x1="95.52" y1="409.78" x2="83.98" y2="403.12" stroke="#e8eab0" stroke-width="0.7" />
<polygon points="37.83,426.44 66.67,426.44 52.25,451.43" fill="#e9e9f2" stroke="#c8c8dc" stroke-width="0.3" />
<circle cx="56.58" cy="437.27" r="2.9" fill="#ffffff" opacity="0.9"/>
<circle cx="52.25" cy="439.77" r="2.9" fill="#ffffff" opacity="0.9"/>
<circle cx="47.92" cy="437.27" r="2.9" fill="#ffffff" opacity="0.9"/>
<circle cx="47.92" cy="432.27" r="2.9" fill="#ffffff" opacity="0.9"/>
<circle cx="52.25" cy="429.77" r="2.9" fill="#ffffff" opacity="0.9"/>
<circle cx="56.58" cy="432.27" r="2.9" fill="#ffffff" opacity="0.9"/>
<circle cx="52.25" cy="434.77" r="2.6" fill="#f4f4fa" />
<line x1="52.25" y1="434.77" x2="63.79" y2="428.11" stroke="#e8eab0" stroke-width="0.7" />
<line x1="52.25" y1="434.77" x2="52.25" y2="448.09" stroke="#e8eab0" stroke-width="0.7" />
<line x1="52.25" y1="434.77" x2="40.71" y2="428.11" stroke="#e8eab0" stroke-width="0.7" />
<polygon points="66.67,426.44 95.52,426.44 81.1,451.43" fill="#e9e9f2" stroke="#c8c8dc" stroke-width="0.3" />
<circle cx="85.43" cy="437.27" r="2.9" fill="#ffffff" opacity="0.9"/>
<circle cx="81.1" cy="439.77" r="2.9" fill="#ffffff" opacity="0.9"/>
<circle cx="76.77" cy="437.27" r="2.9" fill="#ffffff" opacity="0.9"/>
<circle cx="76.77" cy="432.27" r="2.9" fill="#ffffff" opacity="0.9"/>
<circle cx="81.1" cy="429.77" r="2.9" fill="#ffffff" opacity="0.9"/>
<circle cx="85.43" cy="432.27" r="2.9" fill="#ffffff" opacity="0.9"/>
<circle cx="81.1" cy="434.77" r="2.6" fill="#f4f4fa" />
<line x1="81.1" y1="434.77" x2="92.64" y2="428.11" stroke="#e8eab0" stroke-width="0.7" />
<line x1="81.1" y1="434.77" x2="81.1" y2="448.09" stroke="#e8eab0" stroke-width="0.7" />
<line x1="81.1" y1="434.77" x2="69.56" y2="428.11" stroke="#e8eab0" stroke-width="0.7" />
<polygon points="95.52,426.44 124.37,426.44 109.95,451.43" fill="#e9e9f2" stroke="#c8c8dc" stroke-width="0.3" />
<circle cx="114.28" cy="437.27" r="2.9" fill="#ffffff" opacity="0.9"/>
<circle cx="109.95" cy="439.77" r="2.9" fill="#ffffff" opacity="0.9"/>
<circle cx="105.62" cy="437.27" r="2.9" fill="#ffffff" opacity="0.9"/>
<circle cx="105.62" cy="432.27" r="2.9" fill="#ffffff" opacity="0.9"/>
<circle cx="109.95" cy="429.77" r="2.9" fill="#ffffff" opacity="0.9"/>
<circle cx="114.28" cy="432.27" r="2.9" fill="#ffffff" opacity="0.9"/>
<circle cx="109.95" cy="434.77" r="2.6" fill="#f4f4fa" />
<line x1="109.95" y1="434.77" x2="121.49" y2="428.11" stroke="#e8eab0" stroke-width="0.7" />
<line x1="109.95" y1="434.77" x2="109.95" y2="448.09" stroke="#e8eab0" stroke-width="0.7" />
<line x1="109.95" y1="434.77" x2="98.41" y2="428.11" stroke="#e8eab0" stroke-width="0.7" />
<circle cx="23.4" cy="368.14" r="2.8" fill="url(#gS)" stroke="#a8ac18" stroke-width="0.3" />
<circle cx="37.83" cy="393.13" r="1.7" fill="#dfe26a" opacity="0.9"/>
<circle cx="8.98" cy="393.13" r="2.8" fill="url(#gS)" stroke="#a8ac18" stroke-width="0.3" />
<circle cx="52.25" cy="368.14" r="2.8" fill="url(#gS)" stroke="#a8ac18" stroke-width="0.3" />
<circle cx="66.67" cy="393.13" r="1.7" fill="#dfe26a" opacity="0.9"/>
<circle cx="81.1" cy="368.14" r="2.8" fill="url(#gS)" stroke="#a8ac18" stroke-width="0.3" />
<circle cx="95.52" cy="393.13" r="2.8" fill="url(#gS)" stroke="#a8ac18" stroke-width="0.3" />
<circle cx="52.25" cy="418.11" r="1.7" fill="#dfe26a" opacity="0.9"/>
<circle cx="23.4" cy="418.11" r="2.8" fill="url(#gS)" stroke="#a8ac18" stroke-width="0.3" />
<circle cx="81.1" cy="418.11" r="1.7" fill="#dfe26a" opacity="0.9"/>
<circle cx="109.95" cy="418.11" r="2.8" fill="url(#gS)" stroke="#a8ac18" stroke-width="0.3" />
<circle cx="66.67" cy="443.1" r="2.8" fill="url(#gS)" stroke="#a8ac18" stroke-width="0.3" />
<circle cx="37.83" cy="443.1" r="2.8" fill="url(#gS)" stroke="#a8ac18" stroke-width="0.3" />
<circle cx="95.52" cy="443.1" r="2.8" fill="url(#gS)" stroke="#a8ac18" stroke-width="0.3" />
<circle cx="124.37" cy="443.1" r="2.8" fill="url(#gS)" stroke="#a8ac18" stroke-width="0.3" />
<circle cx="37.83" cy="376.47" r="3" fill="url(#gS)" stroke="#a8ac18" stroke-width="0.3" />
<circle cx="23.4" cy="401.46" r="3" fill="url(#gS)" stroke="#a8ac18" stroke-width="0.3" />
<circle cx="8.97" cy="376.47" r="3" fill="url(#gS)" stroke="#a8ac18" stroke-width="0.3" />
<circle cx="66.67" cy="376.47" r="3" fill="url(#gS)" stroke="#a8ac18" stroke-width="0.3" />
<circle cx="52.25" cy="401.46" r="3" fill="url(#gS)" stroke="#a8ac18" stroke-width="0.3" />
<circle cx="95.52" cy="376.47" r="3" fill="url(#gS)" stroke="#a8ac18" stroke-width="0.3" />
<circle cx="81.1" cy="401.46" r="3" fill="url(#gS)" stroke="#a8ac18" stroke-width="0.3" />
<circle cx="37.83" cy="426.44" r="3" fill="url(#gS)" stroke="#a8ac18" stroke-width="0.3" />
<circle cx="66.67" cy="426.44" r="3" fill="url(#gS)" stroke="#a8ac18" stroke-width="0.3" />
<circle cx="109.95" cy="401.46" r="3" fill="url(#gS)" stroke="#a8ac18" stroke-width="0.3" />
<circle cx="95.52" cy="426.44" r="3" fill="url(#gS)" stroke="#a8ac18" stroke-width="0.3" />
<circle cx="52.25" cy="451.43" r="3" fill="url(#gS)" stroke="#a8ac18" stroke-width="0.3" />
<circle cx="81.1" cy="451.43" r="3" fill="url(#gS)" stroke="#a8ac18" stroke-width="0.3" />
<circle cx="124.37" cy="426.44" r="3" fill="url(#gS)" stroke="#a8ac18" stroke-width="0.3" />
<circle cx="109.95" cy="451.43" r="3" fill="url(#gS)" stroke="#a8ac18" stroke-width="0.3" />
<polygon points="23.4,385.4 81.1,385.4 109.95,435.37 52.25,435.37" fill="none" stroke="#333" stroke-width="0.35" />
<line x1="33.6" y1="380.1" x2="33.6" y2="391.2" stroke="#7a4526" stroke-width="1.35" />
<line x1="52.75" y1="380.1" x2="52.75" y2="391.2" stroke="#7a4526" stroke-width="1.35" />
<line x1="71.9" y1="380.1" x2="71.9" y2="391.2" stroke="#7a4526" stroke-width="1.35" />
<line x1="33.6" y1="391.2" x2="24.2" y2="396.7" stroke="#7a4526" stroke-width="1.35" />
<line x1="33.6" y1="391.2" x2="43.3" y2="396.7" stroke="#7a4526" stroke-width="1.35" />
<line x1="52.75" y1="391.2" x2="43.3" y2="396.7" stroke="#7a4526" stroke-width="1.35" />
<line x1="52.75" y1="391.2" x2="62.5" y2="396.7" stroke="#7a4526" stroke-width="1.35" />
<line x1="71.9" y1="391.2" x2="62.5" y2="396.7" stroke="#7a4526" stroke-width="1.35" />
<line x1="71.9" y1="391.2" x2="81.6" y2="396.7" stroke="#7a4526" stroke-width="1.35" />
<line x1="91.4" y1="391.2" x2="81.6" y2="396.7" stroke="#7a4526" stroke-width="1.35" />
<line x1="43.3" y1="396.7" x2="43.3" y2="407.4" stroke="#7a4526" stroke-width="1.35" />
<line x1="62.5" y1="396.7" x2="62.5" y2="407.4" stroke="#7a4526" stroke-width="1.35" />
<line x1="81.6" y1="396.7" x2="81.6" y2="407.4" stroke="#7a4526" stroke-width="1.35" />
<line x1="43.3" y1="407.4" x2="34" y2="412.9" stroke="#7a4526" stroke-width="1.35" />
<line x1="43.3" y1="407.4" x2="53.1" y2="412.9" stroke="#7a4526" stroke-width="1.35" />
<line x1="62.5" y1="407.4" x2="53.1" y2="412.9" stroke="#7a4526" stroke-width="1.35" />
<line x1="62.5" y1="407.4" x2="72.2" y2="412.9" stroke="#7a4526" stroke-width="1.35" />
<line x1="81.6" y1="407.4" x2="72.2" y2="412.9" stroke="#7a4526" stroke-width="1.35" />
<line x1="81.6" y1="407.4" x2="91.7" y2="412.9" stroke="#7a4526" stroke-width="1.35" />
<line x1="101.1" y1="407.4" x2="91.7" y2="412.9" stroke="#7a4526" stroke-width="1.35" />
<line x1="53.1" y1="412.9" x2="53.1" y2="423.8" stroke="#7a4526" stroke-width="1.35" />
<line x1="72.2" y1="412.9" x2="72.2" y2="423.8" stroke="#7a4526" stroke-width="1.35" />
<line x1="91.7" y1="412.9" x2="91.7" y2="423.8" stroke="#7a4526" stroke-width="1.35" />
<line x1="53.1" y1="423.8" x2="44.1" y2="429.3" stroke="#7a4526" stroke-width="1.35" />
<line x1="53.1" y1="423.8" x2="63.2" y2="429.3" stroke="#7a4526" stroke-width="1.35" />
<line x1="72.2" y1="423.8" x2="63.2" y2="429.3" stroke="#7a4526" stroke-width="1.35" />
<line x1="72.2" y1="423.8" x2="82.4" y2="429.3" stroke="#7a4526" stroke-width="1.35" />
<line x1="91.7" y1="423.8" x2="82.4" y2="429.3" stroke="#7a4526" stroke-width="1.35" />
<line x1="91.7" y1="423.8" x2="101.5" y2="429.3" stroke="#7a4526" stroke-width="1.35" />
<line x1="110.9" y1="423.8" x2="101.5" y2="429.3" stroke="#7a4526" stroke-width="1.35" />
<line x1="63.2" y1="429.3" x2="63.2" y2="440" stroke="#7a4526" stroke-width="1.35" />
<line x1="82.4" y1="429.3" x2="82.4" y2="440" stroke="#7a4526" stroke-width="1.35" />
<line x1="101.5" y1="429.3" x2="101.5" y2="440" stroke="#7a4526" stroke-width="1.35" />
<line x1="53.4" y1="417.9" x2="43" y2="424.5" stroke="#2a7fc4" stroke-width="1.3" />
<line x1="53.4" y1="417.9" x2="63.5" y2="424.5" stroke="#2a7fc4" stroke-width="1.3" />
<line x1="53.4" y1="417.9" x2="53.4" y2="409" stroke="#2a9fd0" stroke-width="1.3" />
<ellipse cx="53.4" cy="417.9" rx="5.6" ry="5.0" fill="url(#gNa)"/>
<line x1="53.4" y1="411.5" x2="53.4" y2="424" stroke="#7a4526" stroke-width="1.35" />
<circle cx="33.6" cy="380.1" r="2.1" fill="url(#gC)" stroke="#5e3418" stroke-width="0.3" />
<circle cx="52.75" cy="380.1" r="2.1" fill="url(#gC)" stroke="#5e3418" stroke-width="0.3" />
<circle cx="71.9" cy="380.1" r="2.1" fill="url(#gC)" stroke="#5e3418" stroke-width="0.3" />
<circle cx="33.6" cy="391.2" r="2.1" fill="url(#gC)" stroke="#5e3418" stroke-width="0.3" />
<circle cx="52.75" cy="391.2" r="2.1" fill="url(#gC)" stroke="#5e3418" stroke-width="0.3" />
<circle cx="71.9" cy="391.2" r="2.1" fill="url(#gC)" stroke="#5e3418" stroke-width="0.3" />
<circle cx="91.4" cy="391.2" r="2.1" fill="url(#gC)" stroke="#5e3418" stroke-width="0.3" />
<circle cx="24.2" cy="396.7" r="2.1" fill="url(#gC)" stroke="#5e3418" stroke-width="0.3" />
<circle cx="43.3" cy="396.7" r="2.1" fill="url(#gC)" stroke="#5e3418" stroke-width="0.3" />
<circle cx="62.5" cy="396.7" r="2.1" fill="url(#gC)" stroke="#5e3418" stroke-width="0.3" />
<circle cx="81.6" cy="396.7" r="2.1" fill="url(#gC)" stroke="#5e3418" stroke-width="0.3" />
<circle cx="43.3" cy="407.4" r="2.1" fill="url(#gC)" stroke="#5e3418" stroke-width="0.3" />
<circle cx="62.5" cy="407.4" r="2.1" fill="url(#gC)" stroke="#5e3418" stroke-width="0.3" />
<circle cx="81.6" cy="407.4" r="2.1" fill="url(#gC)" stroke="#5e3418" stroke-width="0.3" />
<circle cx="101.1" cy="407.4" r="2.1" fill="url(#gC)" stroke="#5e3418" stroke-width="0.3" />
<circle cx="34" cy="412.9" r="2.1" fill="url(#gC)" stroke="#5e3418" stroke-width="0.3" />
<circle cx="53.1" cy="412.9" r="2.1" fill="url(#gC)" stroke="#5e3418" stroke-width="0.3" />
<circle cx="72.2" cy="412.9" r="2.1" fill="url(#gC)" stroke="#5e3418" stroke-width="0.3" />
<circle cx="91.7" cy="412.9" r="2.1" fill="url(#gC)" stroke="#5e3418" stroke-width="0.3" />
<circle cx="53.1" cy="423.8" r="2.1" fill="url(#gC)" stroke="#5e3418" stroke-width="0.3" />
<circle cx="72.2" cy="423.8" r="2.1" fill="url(#gC)" stroke="#5e3418" stroke-width="0.3" />
<circle cx="91.7" cy="423.8" r="2.1" fill="url(#gC)" stroke="#5e3418" stroke-width="0.3" />
<circle cx="110.9" cy="423.8" r="2.1" fill="url(#gC)" stroke="#5e3418" stroke-width="0.3" />
<circle cx="44.1" cy="429.3" r="2.1" fill="url(#gC)" stroke="#5e3418" stroke-width="0.3" />
<circle cx="63.2" cy="429.3" r="2.1" fill="url(#gC)" stroke="#5e3418" stroke-width="0.3" />
<circle cx="82.4" cy="429.3" r="2.1" fill="url(#gC)" stroke="#5e3418" stroke-width="0.3" />
<circle cx="101.5" cy="429.3" r="2.1" fill="url(#gC)" stroke="#5e3418" stroke-width="0.3" />
<circle cx="63.2" cy="440" r="2.1" fill="url(#gC)" stroke="#5e3418" stroke-width="0.3" />
<circle cx="82.4" cy="440" r="2.1" fill="url(#gC)" stroke="#5e3418" stroke-width="0.3" />
<circle cx="101.5" cy="440" r="2.1" fill="url(#gC)" stroke="#5e3418" stroke-width="0.3" />
</g>
<line x1="22" y1="464.2" x2="44.5" y2="464.2" stroke="#e0182a" stroke-width="2.6" />
<polygon points="42.5,460.4 51.8,464.2 42.5,468" fill="#e0182a" />
<line x1="22" y1="464.2" x2="11.62" y2="446.62" stroke="#22b04a" stroke-width="2.6" />
<polygon points="7.3,439.3 14.89,444.69 8.35,448.55" fill="#22b04a" />
<circle cx="22" cy="464.2" r="3.3" fill="#1a1a8c" />
<text x="22.1" y="466.4" font-size="6.5" text-anchor="middle" font-weight="bold" fill="#000" >c</text>
<text x="56.3" y="467.3" font-size="9.5" text-anchor="start" font-weight="bold" fill="#000" >a</text>
<text x="1.7" y="436.6" font-size="9.5" text-anchor="start" font-weight="bold" fill="#000" >b</text>
<rect x="439.3" y="57" width="239.9" height="165.5" fill="none" stroke="#231f20" stroke-width="1.15"/>
<line x1="447.25" y1="222.5" x2="447.25" y2="217.1" stroke="#231f20" stroke-width="1.05" />
<line x1="447.25" y1="57" x2="447.25" y2="62.4" stroke="#231f20" stroke-width="1.05" />
<line x1="524.5" y1="222.5" x2="524.5" y2="217.1" stroke="#231f20" stroke-width="1.05" />
<line x1="524.5" y1="57" x2="524.5" y2="62.4" stroke="#231f20" stroke-width="1.05" />
<line x1="601.75" y1="222.5" x2="601.75" y2="217.1" stroke="#231f20" stroke-width="1.05" />
<line x1="601.75" y1="57" x2="601.75" y2="62.4" stroke="#231f20" stroke-width="1.05" />
<line x1="462.7" y1="222.5" x2="462.7" y2="219" stroke="#231f20" stroke-width="1.05" />
<line x1="462.7" y1="57" x2="462.7" y2="60.5" stroke="#231f20" stroke-width="1.05" />
<line x1="478.15" y1="222.5" x2="478.15" y2="219" stroke="#231f20" stroke-width="1.05" />
<line x1="478.15" y1="57" x2="478.15" y2="60.5" stroke="#231f20" stroke-width="1.05" />
<line x1="493.6" y1="222.5" x2="493.6" y2="219" stroke="#231f20" stroke-width="1.05" />
<line x1="493.6" y1="57" x2="493.6" y2="60.5" stroke="#231f20" stroke-width="1.05" />
<line x1="509.05" y1="222.5" x2="509.05" y2="219" stroke="#231f20" stroke-width="1.05" />
<line x1="509.05" y1="57" x2="509.05" y2="60.5" stroke="#231f20" stroke-width="1.05" />
<line x1="539.95" y1="222.5" x2="539.95" y2="219" stroke="#231f20" stroke-width="1.05" />
<line x1="539.95" y1="57" x2="539.95" y2="60.5" stroke="#231f20" stroke-width="1.05" />
<line x1="555.4" y1="222.5" x2="555.4" y2="219" stroke="#231f20" stroke-width="1.05" />
<line x1="555.4" y1="57" x2="555.4" y2="60.5" stroke="#231f20" stroke-width="1.05" />
<line x1="570.85" y1="222.5" x2="570.85" y2="219" stroke="#231f20" stroke-width="1.05" />
<line x1="570.85" y1="57" x2="570.85" y2="60.5" stroke="#231f20" stroke-width="1.05" />
<line x1="586.3" y1="222.5" x2="586.3" y2="219" stroke="#231f20" stroke-width="1.05" />
<line x1="586.3" y1="57" x2="586.3" y2="60.5" stroke="#231f20" stroke-width="1.05" />
<line x1="617.2" y1="222.5" x2="617.2" y2="219" stroke="#231f20" stroke-width="1.05" />
<line x1="617.2" y1="57" x2="617.2" y2="60.5" stroke="#231f20" stroke-width="1.05" />
<line x1="632.65" y1="222.5" x2="632.65" y2="219" stroke="#231f20" stroke-width="1.05" />
<line x1="632.65" y1="57" x2="632.65" y2="60.5" stroke="#231f20" stroke-width="1.05" />
<line x1="648.1" y1="222.5" x2="648.1" y2="219" stroke="#231f20" stroke-width="1.05" />
<line x1="648.1" y1="57" x2="648.1" y2="60.5" stroke="#231f20" stroke-width="1.05" />
<line x1="663.55" y1="222.5" x2="663.55" y2="219" stroke="#231f20" stroke-width="1.05" />
<line x1="663.55" y1="57" x2="663.55" y2="60.5" stroke="#231f20" stroke-width="1.05" />
<line x1="439.3" y1="194.8" x2="444.7" y2="194.8" stroke="#231f20" stroke-width="1.05" />
<line x1="679.2" y1="194.8" x2="673.8" y2="194.8" stroke="#231f20" stroke-width="1.05" />
<line x1="439.3" y1="167.1" x2="444.7" y2="167.1" stroke="#231f20" stroke-width="1.05" />
<line x1="679.2" y1="167.1" x2="673.8" y2="167.1" stroke="#231f20" stroke-width="1.05" />
<line x1="439.3" y1="139.4" x2="444.7" y2="139.4" stroke="#231f20" stroke-width="1.05" />
<line x1="679.2" y1="139.4" x2="673.8" y2="139.4" stroke="#231f20" stroke-width="1.05" />
<line x1="439.3" y1="111.7" x2="444.7" y2="111.7" stroke="#231f20" stroke-width="1.05" />
<line x1="679.2" y1="111.7" x2="673.8" y2="111.7" stroke="#231f20" stroke-width="1.05" />
<line x1="439.3" y1="84" x2="444.7" y2="84" stroke="#231f20" stroke-width="1.05" />
<line x1="679.2" y1="84" x2="673.8" y2="84" stroke="#231f20" stroke-width="1.05" />
<line x1="439.3" y1="208.65" x2="442.8" y2="208.65" stroke="#231f20" stroke-width="1.05" />
<line x1="679.2" y1="208.65" x2="675.7" y2="208.65" stroke="#231f20" stroke-width="1.05" />
<line x1="439.3" y1="180.95" x2="442.8" y2="180.95" stroke="#231f20" stroke-width="1.05" />
<line x1="679.2" y1="180.95" x2="675.7" y2="180.95" stroke="#231f20" stroke-width="1.05" />
<line x1="439.3" y1="153.25" x2="442.8" y2="153.25" stroke="#231f20" stroke-width="1.05" />
<line x1="679.2" y1="153.25" x2="675.7" y2="153.25" stroke="#231f20" stroke-width="1.05" />
<line x1="439.3" y1="125.55" x2="442.8" y2="125.55" stroke="#231f20" stroke-width="1.05" />
<line x1="679.2" y1="125.55" x2="675.7" y2="125.55" stroke="#231f20" stroke-width="1.05" />
<line x1="439.3" y1="97.85" x2="442.8" y2="97.85" stroke="#231f20" stroke-width="1.05" />
<line x1="679.2" y1="97.85" x2="675.7" y2="97.85" stroke="#231f20" stroke-width="1.05" />
<line x1="439.3" y1="70.15" x2="442.8" y2="70.15" stroke="#231f20" stroke-width="1.05" />
<line x1="679.2" y1="70.15" x2="675.7" y2="70.15" stroke="#231f20" stroke-width="1.05" />
<text x="447.65" y="235.1" font-size="10.7" text-anchor="middle" font-weight="normal" fill="#2a2628" >0</text>
<text x="524.9" y="235.1" font-size="10.7" text-anchor="middle" font-weight="normal" fill="#2a2628" >5</text>
<text x="602.15" y="235.1" font-size="10.7" text-anchor="middle" font-weight="normal" fill="#2a2628" >10</text>
<text x="679.4" y="235.1" font-size="10.7" text-anchor="middle" font-weight="normal" fill="#2a2628" >15</text>
<text x="436.4" y="226.4" font-size="10.7" text-anchor="end" font-weight="normal" fill="#2a2628" >0.0</text>
<text x="436.4" y="198.7" font-size="10.7" text-anchor="end" font-weight="normal" fill="#2a2628" >0.1</text>
<text x="436.4" y="171" font-size="10.7" text-anchor="end" font-weight="normal" fill="#2a2628" >0.2</text>
<text x="436.4" y="143.3" font-size="10.7" text-anchor="end" font-weight="normal" fill="#2a2628" >0.3</text>
<text x="436.4" y="115.6" font-size="10.7" text-anchor="end" font-weight="normal" fill="#2a2628" >0.4</text>
<text x="436.4" y="87.9" font-size="10.7" text-anchor="end" font-weight="normal" fill="#2a2628" >0.5</text>
<path d="M447.25,222.5 L448.72,219.82 L450.18,217.02 L451.65,214.09 L453.12,211.04 L454.59,207.89 L456.05,204.64 L457.52,201.31 L458.99,197.9 L460.45,194.42 L461.92,190.88 L463.39,187.3 L464.86,183.67 L466.32,180.01 L467.79,176.33 L469.26,172.64 L470.72,168.95 L472.19,165.26 L473.66,161.59 L475.12,157.94 L476.59,154.21 L478.06,150.02 L479.53,145.38 L480.99,140.38 L482.46,135.08 L483.93,129.57 L485.39,123.9 L486.86,118.17 L488.33,112.43 L489.8,106.77 L491.26,101.25 L492.73,95.95 L494.2,90.94 L495.66,86.3 L497.13,82.1 L498.6,78.41 L500.07,75.98 L501.53,75.58 L503,77.02 L504.47,80.08 L505.93,84.58 L507.4,90.3 L508.87,97.05 L510.34,104.62 L511.8,112.81 L513.27,121.42 L514.74,130.24 L516.2,139.08 L517.67,147.74 L519.14,156 L520.61,163.67 L522.07,170.55 L523.54,176.43 L525.01,181.12 L526.47,184.4 L527.94,186.09 L529.41,185.96 L530.87,184.56 L532.34,182.64 L533.81,180.24 L535.28,177.44 L536.74,174.27 L538.21,170.79 L539.68,167.06 L541.14,163.12 L542.61,159.04 L544.08,154.85 L545.55,150.62 L547.01,146.4 L548.48,142.24 L549.95,138.19 L551.41,134.31 L552.88,130.65 L554.35,127.26 L555.82,124.19 L557.28,121.5 L558.75,119.25 L560.22,117.47 L561.68,116.22 L563.15,115.2 L564.62,114.24 L566.09,113.34 L567.55,112.54 L569.02,111.82 L570.49,111.22 L571.95,110.74 L573.42,110.39 L574.89,110.18 L576.35,110.14 L577.82,110.26 L579.29,110.57 L580.76,111.07 L582.22,111.78 L583.69,112.71 L585.16,113.87 L586.62,115.27 L588.09,116.93 L589.56,118.86 L591.03,121.06 L592.49,123.54 L593.96,126.28 L595.43,129.27 L596.89,132.53 L598.36,136.03 L599.83,139.78 L601.3,143.77 L602.76,148 L604.23,152.46 L605.7,157.15 L607.16,162.07 L608.63,167.2 L610.1,172.54 L611.57,178.1 L613.03,183.86 L614.5,189.83 L615.97,195.99 L617.43,202.34 L618.9,208.88 L620.37,215.6 L621.84,222.5" fill="none" stroke="#5c1460" stroke-width="1.05"/>
<path d="M447.25,222.5 L449,218.76 L450.75,215.11 L452.49,211.53 L454.24,208.03 L455.99,204.6 L457.74,201.22 L459.48,197.91 L461.23,194.64 L462.98,191.43 L464.73,188.25 L466.47,185.11 L468.22,182 L469.97,178.92 L471.72,175.86 L473.46,172.81 L475.21,169.77 L476.96,166.74 L478.71,163.7 L480.45,160.66 L482.2,157.61 L483.95,154.59 L485.7,151.69 L487.44,148.91 L489.19,146.24 L490.94,143.68 L492.69,141.24 L494.43,138.9 L496.18,136.67 L497.93,134.55 L499.68,132.52 L501.42,130.6 L503.17,128.77 L504.92,127.04 L506.67,125.4 L508.41,123.85 L510.16,122.39 L511.91,121.14 L513.66,120.9 L515.4,121.69 L517.15,123.4 L518.9,125.93 L520.65,129.17 L522.39,133 L524.14,137.32 L525.89,142.01 L527.64,146.96 L529.38,152.07 L531.13,157.22 L532.88,162.31 L534.63,167.22 L536.37,171.84 L538.12,176.07 L539.87,179.79 L541.62,182.88 L543.36,185.26 L545.11,186.79 L546.86,187.37 L548.61,186.96 L550.35,185.79 L552.1,183.95 L553.85,181.52 L555.6,178.59 L557.34,175.22 L559.09,171.5 L560.84,167.51 L562.59,163.32 L564.34,159.01 L566.08,154.66 L567.83,150.34 L569.58,146.15 L571.33,142.14 L573.07,138.41 L574.82,135.03 L576.57,132.07 L578.32,129.63 L580.06,127.76 L581.81,126.56 L583.56,126.1 L585.31,126.06 L587.05,126.11 L588.8,126.26 L590.55,126.5 L592.3,126.85 L594.04,127.31 L595.79,127.9 L597.54,128.61 L599.29,129.45 L601.03,130.42 L602.78,131.55 L604.53,132.82 L606.28,134.25 L608.02,135.85 L609.77,137.61 L611.52,139.55 L613.27,141.67 L615.01,143.98 L616.76,146.49 L618.51,149.08 L620.26,151.73 L622,154.44 L623.75,157.22 L625.5,160.06 L627.25,162.98 L628.99,165.97 L630.74,169.05 L632.49,172.2 L634.24,175.45 L635.98,178.78 L637.73,182.21 L639.48,185.74 L641.23,189.37 L642.97,193.1 L644.72,196.95 L646.47,200.9 L648.22,204.97 L649.96,209.17 L651.71,213.48 L653.46,217.93 L655.21,222.5" fill="none" stroke="#ee3a28" stroke-width="1.05"/>
<path d="M447.25,222.5 L448.81,215.55 L450.37,208.77 L451.92,202.16 L453.48,195.74 L455.04,189.5 L456.6,183.45 L458.16,177.61 L459.71,171.98 L461.27,166.56 L462.83,161.37 L464.39,156.4 L465.95,151.67 L467.5,147.18 L469.06,142.94 L470.62,138.96 L472.18,135.24 L473.74,131.79 L475.29,128.62 L476.85,125.73 L478.41,123.13 L479.97,120.83 L481.53,118.84 L483.08,117.11 L484.64,115.61 L486.2,114.35 L487.76,113.3 L489.32,112.47 L490.87,111.83 L492.43,111.37 L493.99,111.1 L495.55,110.98 L497.11,111.03 L498.66,111.22 L500.22,111.55 L501.78,112 L503.34,112.56 L504.9,113.23 L506.45,114 L508.01,114.85 L509.57,115.77 L511.13,116.78 L512.69,118.18 L514.24,120.02 L515.8,122.26 L517.36,124.83 L518.92,127.7 L520.48,130.81 L522.03,134.1 L523.59,137.54 L525.15,141.06 L526.71,144.62 L528.27,148.18 L529.82,151.67 L531.38,155.05 L532.94,158.27 L534.5,161.27 L536.06,164.02 L537.61,166.45 L539.17,168.52 L540.73,170.17 L542.29,171.37 L543.84,171.66 L545.4,170.39 L546.96,167.71 L548.52,163.81 L550.08,158.89 L551.63,153.11 L553.19,146.68 L554.75,139.77 L556.31,132.58 L557.87,125.28 L559.42,118.07 L560.98,111.13 L562.54,104.65 L564.1,98.81 L565.66,93.8 L567.21,89.8 L568.77,87.01 L570.33,85.6 L571.89,85.77 L573.45,87.7 L575,91.1 L576.56,94.6 L578.12,98.11 L579.68,101.62 L581.24,105.14 L582.79,108.66 L584.35,112.18 L585.91,115.71 L587.47,119.24 L589.03,122.78 L590.58,126.32 L592.14,129.86 L593.7,133.41 L595.26,136.96 L596.82,140.52 L598.37,144.08 L599.93,147.64 L601.49,151.2 L603.05,154.77 L604.61,158.33 L606.16,161.89 L607.72,165.45 L609.28,169.01 L610.84,172.57 L612.4,176.13 L613.95,179.69 L615.51,183.25 L617.07,186.81 L618.63,190.37 L620.19,193.93 L621.74,197.5 L623.3,201.06 L624.86,204.63 L626.42,208.2 L627.98,211.77 L629.53,215.34 L631.09,218.92 L632.65,222.5" fill="none" stroke="#148a3c" stroke-width="1.05"/>
<polygon points="447.25,219.1 450.65,222.5 447.25,225.9 443.85,222.5" fill="#5c1460" />
<polygon points="475.68,153.17 479.08,156.57 475.68,159.97 472.28,156.57" fill="#5c1460" />
<polygon points="498.7,74.78 502.1,78.18 498.7,81.58 495.3,78.18" fill="#5c1460" />
<polygon points="529.44,182.54 532.84,185.94 529.44,189.34 526.04,185.94" fill="#5c1460" />
<polygon points="561.43,113.01 564.83,116.41 561.43,119.81 558.03,116.41" fill="#5c1460" />
<polygon points="589.39,115.22 592.79,118.62 589.39,122.03 585.99,118.62" fill="#5c1460" />
<polygon points="621.84,219.1 625.24,222.5 621.84,225.9 618.44,222.5" fill="#5c1460" />
<circle cx="447.25" cy="222.5" r="3.2" fill="#ee3a28" />
<circle cx="482.48" cy="157.13" r="3.2" fill="#ee3a28" />
<circle cx="511.06" cy="121.67" r="3.2" fill="#ee3a28" />
<circle cx="547.52" cy="187.32" r="3.2" fill="#ee3a28" />
<circle cx="583.52" cy="126.1" r="3.2" fill="#ee3a28" />
<circle cx="616.27" cy="145.77" r="3.2" fill="#ee3a28" />
<circle cx="655.21" cy="222.5" r="3.2" fill="#ee3a28" />
<rect x="444.45" y="219.7" width="5.6" height="5.6" fill="#148a3c" />
<rect x="478.44" y="116.38" width="5.6" height="5.6" fill="#148a3c" />
<rect x="507.79" y="113.61" width="5.6" height="5.6" fill="#148a3c" />
<rect x="539.78" y="168.73" width="5.6" height="5.6" fill="#148a3c" />
<rect x="571.14" y="85.91" width="5.6" height="5.6" fill="#148a3c" />
<rect x="597.41" y="145.46" width="5.6" height="5.6" fill="#148a3c" />
<rect x="629.85" y="219.7" width="5.6" height="5.6" fill="#148a3c" />
<text x="444.9" y="214.7" font-size="9.3" text-anchor="start" font-weight="normal" fill="#2a2628" >1</text>
<rect x="439.3" y="57" width="239.9" height="165.5" fill="none" stroke="#231f20" stroke-width="1.15"/>
<line x1="603.8" y1="76.4" x2="626.6" y2="76.4" stroke="#5c1460" stroke-width="1.05" />
<polygon points="615.2,73 618.6,76.4 615.2,79.8 611.8,76.4" fill="#5c1460" />
<g transform="translate(631.5,78.5) scale(0.93,1)">
<text x="0" y="0" font-size="10.3" text-anchor="start" font-weight="normal" fill="#2a2628" >SnS<tspan font-size="6.39" dy="2.78">2</tspan><tspan dy="-2.78"></tspan></text>
</g>
<line x1="603.8" y1="91.3" x2="626.6" y2="91.3" stroke="#ee3a28" stroke-width="1.05" />
<circle cx="615.2" cy="91.3" r="3.2" fill="#ee3a28" />
<g transform="translate(631.5,93.4) scale(0.93,1)">
<text x="0" y="0" font-size="10.3" text-anchor="start" font-weight="normal" fill="#2a2628" >SnS<tspan font-size="6.39" dy="2.78">2</tspan><tspan dy="-2.78">/G</tspan></text>
</g>
<line x1="603.8" y1="105.3" x2="626.6" y2="105.3" stroke="#148a3c" stroke-width="1.05" />
<rect x="612.4" y="102.5" width="5.6" height="5.6" fill="#148a3c" />
<g transform="translate(631.5,107.4) scale(0.93,1)">
<text x="0" y="0" font-size="10.3" text-anchor="start" font-weight="normal" fill="#2a2628" >SnS<tspan font-size="6.39" dy="2.78">2</tspan><tspan dy="-2.78">/GO</tspan></text>
</g>
<text x="559.5" y="247" font-size="10.3" text-anchor="middle" font-weight="normal" fill="#2a2628" >Path (Å)</text>
<text transform="translate(411.2,139.5) rotate(-90)" font-size="10.3" text-anchor="middle" fill="#2a2628">Energy (eV)</text>
<rect x="440.8" y="318" width="239.4" height="165.5" fill="none" stroke="#231f20" stroke-width="1.15"/>
<line x1="449" y1="483.5" x2="449" y2="478.1" stroke="#231f20" stroke-width="1.05" />
<line x1="449" y1="318" x2="449" y2="323.4" stroke="#231f20" stroke-width="1.05" />
<line x1="491.1" y1="483.5" x2="491.1" y2="478.1" stroke="#231f20" stroke-width="1.05" />
<line x1="491.1" y1="318" x2="491.1" y2="323.4" stroke="#231f20" stroke-width="1.05" />
<line x1="533.2" y1="483.5" x2="533.2" y2="478.1" stroke="#231f20" stroke-width="1.05" />
<line x1="533.2" y1="318" x2="533.2" y2="323.4" stroke="#231f20" stroke-width="1.05" />
<line x1="575.3" y1="483.5" x2="575.3" y2="478.1" stroke="#231f20" stroke-width="1.05" />
<line x1="575.3" y1="318" x2="575.3" y2="323.4" stroke="#231f20" stroke-width="1.05" />
<line x1="617.4" y1="483.5" x2="617.4" y2="478.1" stroke="#231f20" stroke-width="1.05" />
<line x1="617.4" y1="318" x2="617.4" y2="323.4" stroke="#231f20" stroke-width="1.05" />
<line x1="659.5" y1="483.5" x2="659.5" y2="478.1" stroke="#231f20" stroke-width="1.05" />
<line x1="659.5" y1="318" x2="659.5" y2="323.4" stroke="#231f20" stroke-width="1.05" />
<line x1="470.05" y1="483.5" x2="470.05" y2="480" stroke="#231f20" stroke-width="1.05" />
<line x1="470.05" y1="318" x2="470.05" y2="321.5" stroke="#231f20" stroke-width="1.05" />
<line x1="512.15" y1="483.5" x2="512.15" y2="480" stroke="#231f20" stroke-width="1.05" />
<line x1="512.15" y1="318" x2="512.15" y2="321.5" stroke="#231f20" stroke-width="1.05" />
<line x1="554.25" y1="483.5" x2="554.25" y2="480" stroke="#231f20" stroke-width="1.05" />
<line x1="554.25" y1="318" x2="554.25" y2="321.5" stroke="#231f20" stroke-width="1.05" />
<line x1="596.35" y1="483.5" x2="596.35" y2="480" stroke="#231f20" stroke-width="1.05" />
<line x1="596.35" y1="318" x2="596.35" y2="321.5" stroke="#231f20" stroke-width="1.05" />
<line x1="638.45" y1="483.5" x2="638.45" y2="480" stroke="#231f20" stroke-width="1.05" />
<line x1="638.45" y1="318" x2="638.45" y2="321.5" stroke="#231f20" stroke-width="1.05" />
<line x1="440.8" y1="446.75" x2="446.2" y2="446.75" stroke="#231f20" stroke-width="1.05" />
<line x1="680.2" y1="446.75" x2="674.8" y2="446.75" stroke="#231f20" stroke-width="1.05" />
<line x1="440.8" y1="410" x2="446.2" y2="410" stroke="#231f20" stroke-width="1.05" />
<line x1="680.2" y1="410" x2="674.8" y2="410" stroke="#231f20" stroke-width="1.05" />
<line x1="440.8" y1="373.25" x2="446.2" y2="373.25" stroke="#231f20" stroke-width="1.05" />
<line x1="680.2" y1="373.25" x2="674.8" y2="373.25" stroke="#231f20" stroke-width="1.05" />
<line x1="440.8" y1="336.5" x2="446.2" y2="336.5" stroke="#231f20" stroke-width="1.05" />
<line x1="680.2" y1="336.5" x2="674.8" y2="336.5" stroke="#231f20" stroke-width="1.05" />
<line x1="440.8" y1="465.12" x2="444.3" y2="465.12" stroke="#231f20" stroke-width="1.05" />
<line x1="680.2" y1="465.12" x2="676.7" y2="465.12" stroke="#231f20" stroke-width="1.05" />
<line x1="440.8" y1="428.38" x2="444.3" y2="428.38" stroke="#231f20" stroke-width="1.05" />
<line x1="680.2" y1="428.38" x2="676.7" y2="428.38" stroke="#231f20" stroke-width="1.05" />
<line x1="440.8" y1="391.62" x2="444.3" y2="391.62" stroke="#231f20" stroke-width="1.05" />
<line x1="680.2" y1="391.62" x2="676.7" y2="391.62" stroke="#231f20" stroke-width="1.05" />
<line x1="440.8" y1="354.88" x2="444.3" y2="354.88" stroke="#231f20" stroke-width="1.05" />
<line x1="680.2" y1="354.88" x2="676.7" y2="354.88" stroke="#231f20" stroke-width="1.05" />
<text x="449.4" y="496.1" font-size="10.7" text-anchor="middle" font-weight="normal" fill="#2a2628" >0</text>
<text x="491.5" y="496.1" font-size="10.7" text-anchor="middle" font-weight="normal" fill="#2a2628" >1</text>
<text x="533.6" y="496.1" font-size="10.7" text-anchor="middle" font-weight="normal" fill="#2a2628" >2</text>
<text x="575.7" y="496.1" font-size="10.7" text-anchor="middle" font-weight="normal" fill="#2a2628" >3</text>
<text x="617.8" y="496.1" font-size="10.7" text-anchor="middle" font-weight="normal" fill="#2a2628" >4</text>
<text x="659.9" y="496.1" font-size="10.7" text-anchor="middle" font-weight="normal" fill="#2a2628" >5</text>
<text x="437.9" y="487.4" font-size="10.7" text-anchor="end" font-weight="normal" fill="#2a2628" >0.0</text>
<text x="437.9" y="450.65" font-size="10.7" text-anchor="end" font-weight="normal" fill="#2a2628" >0.1</text>
<text x="437.9" y="413.9" font-size="10.7" text-anchor="end" font-weight="normal" fill="#2a2628" >0.2</text>
<text x="437.9" y="377.15" font-size="10.7" text-anchor="end" font-weight="normal" fill="#2a2628" >0.3</text>
<text x="437.9" y="340.4" font-size="10.7" text-anchor="end" font-weight="normal" fill="#2a2628" >0.4</text>
<path d="M449,483.5 L450.7,476.76 L452.4,470.17 L454.09,463.73 L455.79,457.44 L457.49,451.32 L459.19,445.36 L460.89,439.58 L462.59,433.97 L464.28,428.54 L465.98,423.3 L467.68,418.25 L469.38,413.39 L471.08,408.74 L472.77,404.29 L474.47,400.05 L476.17,396.04 L477.87,392.24 L479.57,388.67 L481.26,385.33 L482.96,382.23 L484.66,379.36 L486.36,376.75 L488.06,374.39 L489.76,372.28 L491.45,370.44 L493.15,368.86 L494.85,367.56 L496.55,366.53 L498.25,365.78 L499.94,365.32 L501.64,365.15 L503.34,365.32 L505.04,365.92 L506.74,366.95 L508.44,368.37 L510.13,370.13 L511.83,372.22 L513.53,374.59 L515.23,377.21 L516.93,380.05 L518.62,383.07 L520.32,386.23 L522.02,389.52 L523.72,392.88 L525.42,396.29 L527.11,399.71 L528.81,403.11 L530.51,406.45 L532.21,409.7 L533.91,412.83 L535.61,415.8 L537.3,418.58 L539,421.13 L540.7,423.42 L542.4,425.42 L544.1,427.09 L545.79,428.39 L547.49,429.3 L549.19,429.78 L550.89,429.82 L552.59,429.57 L554.29,429.06 L555.98,428.33 L557.68,427.4 L559.38,426.27 L561.08,424.98 L562.78,423.54 L564.47,421.98 L566.17,420.31 L567.87,418.55 L569.57,416.73 L571.27,414.86 L572.97,412.97 L574.66,411.07 L576.36,409.19 L578.06,407.35 L579.76,405.56 L581.46,403.85 L583.15,402.24 L584.85,400.75 L586.55,399.39 L588.25,398.19 L589.95,397.17 L591.64,396.35 L593.34,395.75 L595.04,395.39 L596.74,395.28 L598.44,395.46 L600.14,395.92 L601.83,396.49 L603.53,397.16 L605.23,397.93 L606.93,398.79 L608.63,399.75 L610.32,400.8 L612.02,401.96 L613.72,403.21 L615.42,404.56 L617.12,406.01 L618.82,407.55 L620.51,409.2 L622.21,410.95 L623.91,412.8 L625.61,414.75 L627.31,416.8 L629,418.96 L630.7,421.22 L632.4,423.58 L634.1,426.04 L635.8,428.61 L637.49,431.28 L639.19,434.06 L640.89,436.94 L642.59,439.93 L644.29,443.03 L645.99,446.23 L647.68,449.54 L649.38,452.96 L651.08,456.49" fill="none" stroke="#ee3a28" stroke-width="1.05"/>
<path d="M449,483.5 L450.8,475.99 L452.59,468.66 L454.39,461.49 L456.19,454.5 L457.99,447.69 L459.78,441.06 L461.58,434.62 L463.38,428.37 L465.17,422.32 L466.97,416.46 L468.77,410.81 L470.57,405.36 L472.36,400.13 L474.16,395.1 L475.96,390.3 L477.76,385.71 L479.55,381.35 L481.35,377.22 L483.15,373.32 L484.94,369.66 L486.74,366.24 L488.54,363.07 L490.34,360.14 L492.13,357.46 L493.93,355.04 L495.73,352.88 L497.52,350.98 L499.32,349.35 L501.12,347.99 L502.92,346.9 L504.71,346.1 L506.51,345.57 L508.31,345.33 L510.11,345.42 L511.9,346.05 L513.7,347.21 L515.5,348.87 L517.29,350.98 L519.09,353.49 L520.89,356.36 L522.69,359.55 L524.48,363.01 L526.28,366.69 L528.08,370.57 L529.87,374.58 L531.67,378.69 L533.47,382.86 L535.27,387.03 L537.06,391.17 L538.86,395.23 L540.66,399.17 L542.45,402.94 L544.25,406.5 L546.05,409.8 L547.85,412.81 L549.64,415.47 L551.44,417.75 L553.24,419.6 L555.04,420.98 L556.83,421.83 L558.63,422.13 L560.43,421.94 L562.22,421.37 L564.02,420.44 L565.82,419.18 L567.62,417.63 L569.41,415.81 L571.21,413.76 L573.01,411.52 L574.8,409.1 L576.6,406.54 L578.4,403.88 L580.2,401.14 L581.99,398.36 L583.79,395.56 L585.59,392.78 L587.39,390.06 L589.18,387.41 L590.98,384.87 L592.78,382.48 L594.57,380.26 L596.37,378.24 L598.17,376.46 L599.97,374.95 L601.76,373.74 L603.56,372.86 L605.36,372.34 L607.15,372.21 L608.95,372.51 L610.75,373.11 L612.55,373.86 L614.34,374.77 L616.14,375.83 L617.94,377.05 L619.73,378.42 L621.53,379.95 L623.33,381.63 L625.13,383.46 L626.92,385.45 L628.72,387.59 L630.52,389.88 L632.32,392.33 L634.11,394.93 L635.91,397.69 L637.71,400.59 L639.5,403.66 L641.3,406.87 L643.1,410.24 L644.9,413.76 L646.69,417.44 L648.49,421.27 L650.29,425.25 L652.08,429.38 L653.88,433.67 L655.68,438.11 L657.48,442.71 L659.27,447.45 L661.07,452.35 L662.87,457.41" fill="none" stroke="#148a3c" stroke-width="1.05"/>
<circle cx="449" cy="483.5" r="3.2" fill="#ee3a28" />
<circle cx="502.26" cy="365.16" r="3.2" fill="#ee3a28" />
<circle cx="550.04" cy="429.85" r="3.2" fill="#ee3a28" />
<circle cx="599.3" cy="395.67" r="3.2" fill="#ee3a28" />
<circle cx="651.08" cy="456.49" r="3.2" fill="#ee3a28" />
<rect x="446.2" y="480.7" width="5.6" height="5.6" fill="#148a3c" />
<rect x="506.4" y="342.52" width="5.6" height="5.6" fill="#148a3c" />
<rect x="555.66" y="419.33" width="5.6" height="5.6" fill="#148a3c" />
<rect x="606.18" y="369.71" width="5.6" height="5.6" fill="#148a3c" />
<rect x="660.07" y="454.61" width="5.6" height="5.6" fill="#148a3c" />
<text x="446.6" y="475.6" font-size="9.3" text-anchor="start" font-weight="normal" fill="#2a2628" >1</text>
<rect x="440.8" y="318" width="239.4" height="165.5" fill="none" stroke="#231f20" stroke-width="1.15"/>
<line x1="603.9" y1="337.8" x2="627.6" y2="337.8" stroke="#ee3a28" stroke-width="1.05" />
<circle cx="615.75" cy="337.8" r="3.2" fill="#ee3a28" />
<g transform="translate(632,339.9) scale(0.93,1)">
<text x="0" y="0" font-size="10.3" text-anchor="start" font-weight="normal" fill="#2a2628" >SnS<tspan font-size="6.39" dy="2.78">2</tspan><tspan dy="-2.78">/G</tspan></text>
</g>
<line x1="603.9" y1="352.2" x2="627.6" y2="352.2" stroke="#148a3c" stroke-width="1.05" />
<rect x="612.95" y="349.4" width="5.6" height="5.6" fill="#148a3c" />
<g transform="translate(632,354.3) scale(0.93,1)">
<text x="0" y="0" font-size="10.3" text-anchor="start" font-weight="normal" fill="#2a2628" >SnS<tspan font-size="6.39" dy="2.78">2</tspan><tspan dy="-2.78">/GO</tspan></text>
</g>
<text x="560.5" y="508.3" font-size="10.3" text-anchor="middle" font-weight="normal" fill="#2a2628" >Path (Å)</text>
<text transform="translate(412.2,400.3) rotate(-90)" font-size="10.3" text-anchor="middle" fill="#2a2628">Energy (eV)</text>
<g>
<polygon points="458.2,4.7 512.65,4.7 530.8,36.14 476.35,36.14" fill="none" stroke="#9a9a9a" stroke-width="0.3" />
<line x1="467.27" y1="9.94" x2="462.28" y2="7.06" stroke="#dede58" stroke-width="0.75" />
<line x1="462.28" y1="7.06" x2="458.2" y2="4.7" stroke="#b5b3d0" stroke-width="0.6" />
<line x1="467.27" y1="9.94" x2="472.27" y2="7.06" stroke="#dede58" stroke-width="0.75" />
<line x1="472.27" y1="7.06" x2="476.35" y2="4.7" stroke="#b5b3d0" stroke-width="0.6" />
<line x1="467.27" y1="9.94" x2="467.27" y2="15.7" stroke="#dede58" stroke-width="0.75" />
<line x1="467.27" y1="15.7" x2="467.27" y2="20.42" stroke="#b5b3d0" stroke-width="0.6" />
<line x1="476.35" y1="15.18" x2="476.35" y2="9.42" stroke="#dada4a" stroke-width="0.75" />
<line x1="476.35" y1="9.42" x2="476.35" y2="4.7" stroke="#b5b3d0" stroke-width="0.6" />
<line x1="476.35" y1="15.18" x2="471.36" y2="18.06" stroke="#dada4a" stroke-width="0.75" />
<line x1="471.36" y1="18.06" x2="467.27" y2="20.42" stroke="#b5b3d0" stroke-width="0.6" />
<line x1="476.35" y1="15.18" x2="481.34" y2="18.06" stroke="#dada4a" stroke-width="0.75" />
<line x1="481.34" y1="18.06" x2="485.42" y2="20.42" stroke="#b5b3d0" stroke-width="0.6" />
<line x1="485.42" y1="9.94" x2="480.43" y2="7.06" stroke="#dede58" stroke-width="0.75" />
<line x1="480.43" y1="7.06" x2="476.35" y2="4.7" stroke="#b5b3d0" stroke-width="0.6" />
<line x1="485.42" y1="9.94" x2="490.42" y2="7.06" stroke="#dede58" stroke-width="0.75" />
<line x1="490.42" y1="7.06" x2="494.5" y2="4.7" stroke="#b5b3d0" stroke-width="0.6" />
<line x1="485.42" y1="9.94" x2="485.42" y2="15.7" stroke="#dede58" stroke-width="0.75" />
<line x1="485.42" y1="15.7" x2="485.42" y2="20.42" stroke="#b5b3d0" stroke-width="0.6" />
<line x1="494.5" y1="15.18" x2="494.5" y2="9.42" stroke="#dada4a" stroke-width="0.75" />
<line x1="494.5" y1="9.42" x2="494.5" y2="4.7" stroke="#b5b3d0" stroke-width="0.6" />
<line x1="494.5" y1="15.18" x2="489.51" y2="18.06" stroke="#dada4a" stroke-width="0.75" />
<line x1="489.51" y1="18.06" x2="485.42" y2="20.42" stroke="#b5b3d0" stroke-width="0.6" />
<line x1="494.5" y1="15.18" x2="499.49" y2="18.06" stroke="#dada4a" stroke-width="0.75" />
<line x1="499.49" y1="18.06" x2="503.57" y2="20.42" stroke="#b5b3d0" stroke-width="0.6" />
<line x1="503.57" y1="9.94" x2="498.58" y2="7.06" stroke="#dede58" stroke-width="0.75" />
<line x1="498.58" y1="7.06" x2="494.5" y2="4.7" stroke="#b5b3d0" stroke-width="0.6" />
<line x1="503.57" y1="9.94" x2="508.57" y2="7.06" stroke="#dede58" stroke-width="0.75" />
<line x1="508.57" y1="7.06" x2="512.65" y2="4.7" stroke="#b5b3d0" stroke-width="0.6" />
<line x1="503.57" y1="9.94" x2="503.57" y2="15.7" stroke="#dede58" stroke-width="0.75" />
<line x1="503.57" y1="15.7" x2="503.57" y2="20.42" stroke="#b5b3d0" stroke-width="0.6" />
<line x1="512.65" y1="15.18" x2="512.65" y2="9.42" stroke="#dada4a" stroke-width="0.75" />
<line x1="512.65" y1="9.42" x2="512.65" y2="4.7" stroke="#b5b3d0" stroke-width="0.6" />
<line x1="512.65" y1="15.18" x2="507.66" y2="18.06" stroke="#dada4a" stroke-width="0.75" />
<line x1="507.66" y1="18.06" x2="503.57" y2="20.42" stroke="#b5b3d0" stroke-width="0.6" />
<line x1="512.65" y1="15.18" x2="517.64" y2="18.06" stroke="#dada4a" stroke-width="0.75" />
<line x1="517.64" y1="18.06" x2="521.73" y2="20.42" stroke="#b5b3d0" stroke-width="0.6" />
<line x1="476.35" y1="25.66" x2="471.36" y2="22.78" stroke="#dede58" stroke-width="0.75" />
<line x1="471.36" y1="22.78" x2="467.27" y2="20.42" stroke="#b5b3d0" stroke-width="0.6" />
<line x1="476.35" y1="25.66" x2="481.34" y2="22.78" stroke="#dede58" stroke-width="0.75" />
<line x1="481.34" y1="22.78" x2="485.42" y2="20.42" stroke="#b5b3d0" stroke-width="0.6" />
<line x1="476.35" y1="25.66" x2="476.35" y2="31.42" stroke="#dede58" stroke-width="0.75" />
<line x1="476.35" y1="31.42" x2="476.35" y2="36.14" stroke="#b5b3d0" stroke-width="0.6" />
<line x1="485.42" y1="30.9" x2="485.42" y2="25.13" stroke="#dada4a" stroke-width="0.75" />
<line x1="485.42" y1="25.13" x2="485.42" y2="20.42" stroke="#b5b3d0" stroke-width="0.6" />
<line x1="485.42" y1="30.9" x2="480.43" y2="33.78" stroke="#dada4a" stroke-width="0.75" />
<line x1="480.43" y1="33.78" x2="476.35" y2="36.14" stroke="#b5b3d0" stroke-width="0.6" />
<line x1="485.42" y1="30.9" x2="490.42" y2="33.78" stroke="#dada4a" stroke-width="0.75" />
<line x1="490.42" y1="33.78" x2="494.5" y2="36.14" stroke="#b5b3d0" stroke-width="0.6" />
<line x1="494.5" y1="25.66" x2="489.51" y2="22.78" stroke="#dede58" stroke-width="0.75" />
<line x1="489.51" y1="22.78" x2="485.42" y2="20.42" stroke="#b5b3d0" stroke-width="0.6" />
<line x1="494.5" y1="25.66" x2="499.49" y2="22.78" stroke="#dede58" stroke-width="0.75" />
<line x1="499.49" y1="22.78" x2="503.57" y2="20.42" stroke="#b5b3d0" stroke-width="0.6" />
<line x1="494.5" y1="25.66" x2="494.5" y2="31.42" stroke="#dede58" stroke-width="0.75" />
<line x1="494.5" y1="31.42" x2="494.5" y2="36.14" stroke="#b5b3d0" stroke-width="0.6" />
<line x1="503.57" y1="30.9" x2="503.57" y2="25.13" stroke="#dada4a" stroke-width="0.75" />
<line x1="503.57" y1="25.13" x2="503.57" y2="20.42" stroke="#b5b3d0" stroke-width="0.6" />
<line x1="503.57" y1="30.9" x2="498.58" y2="33.78" stroke="#dada4a" stroke-width="0.75" />
<line x1="498.58" y1="33.78" x2="494.5" y2="36.14" stroke="#b5b3d0" stroke-width="0.6" />
<line x1="503.57" y1="30.9" x2="508.57" y2="33.78" stroke="#dada4a" stroke-width="0.75" />
<line x1="508.57" y1="33.78" x2="512.65" y2="36.14" stroke="#b5b3d0" stroke-width="0.6" />
<line x1="512.65" y1="25.66" x2="507.66" y2="22.78" stroke="#dede58" stroke-width="0.75" />
<line x1="507.66" y1="22.78" x2="503.57" y2="20.42" stroke="#b5b3d0" stroke-width="0.6" />
<line x1="512.65" y1="25.66" x2="517.64" y2="22.78" stroke="#dede58" stroke-width="0.75" />
<line x1="517.64" y1="22.78" x2="521.73" y2="20.42" stroke="#b5b3d0" stroke-width="0.6" />
<line x1="512.65" y1="25.66" x2="512.65" y2="31.42" stroke="#dede58" stroke-width="0.75" />
<line x1="512.65" y1="31.42" x2="512.65" y2="36.14" stroke="#b5b3d0" stroke-width="0.6" />
<line x1="521.73" y1="30.9" x2="521.73" y2="25.13" stroke="#dada4a" stroke-width="0.75" />
<line x1="521.73" y1="25.13" x2="521.73" y2="20.42" stroke="#b5b3d0" stroke-width="0.6" />
<line x1="521.73" y1="30.9" x2="516.73" y2="33.78" stroke="#dada4a" stroke-width="0.75" />
<line x1="516.73" y1="33.78" x2="512.65" y2="36.14" stroke="#b5b3d0" stroke-width="0.6" />
<line x1="521.73" y1="30.9" x2="526.72" y2="33.78" stroke="#dada4a" stroke-width="0.75" />
<line x1="526.72" y1="33.78" x2="530.8" y2="36.14" stroke="#b5b3d0" stroke-width="0.6" />
<circle cx="458.2" cy="4.7" r="3.05" fill="url(#gSnT)" stroke="#7f7ca8" stroke-width="0.3" />
<circle cx="476.35" cy="4.7" r="3.05" fill="url(#gSnT)" stroke="#7f7ca8" stroke-width="0.3" />
<circle cx="494.5" cy="4.7" r="3.05" fill="url(#gSnT)" stroke="#7f7ca8" stroke-width="0.3" />
<circle cx="512.65" cy="4.7" r="3.05" fill="url(#gSnT)" stroke="#7f7ca8" stroke-width="0.3" />
<circle cx="485.42" cy="20.42" r="3.05" fill="url(#gSnT)" stroke="#7f7ca8" stroke-width="0.3" />
<circle cx="503.57" cy="20.42" r="3.05" fill="url(#gSnT)" stroke="#7f7ca8" stroke-width="0.3" />
<circle cx="521.73" cy="20.42" r="3.05" fill="url(#gSnT)" stroke="#7f7ca8" stroke-width="0.3" />
<circle cx="476.35" cy="36.14" r="3.05" fill="url(#gSnT)" stroke="#7f7ca8" stroke-width="0.3" />
<circle cx="494.5" cy="36.14" r="3.05" fill="url(#gSnT)" stroke="#7f7ca8" stroke-width="0.3" />
<circle cx="512.65" cy="36.14" r="3.05" fill="url(#gSnT)" stroke="#7f7ca8" stroke-width="0.3" />
<circle cx="530.8" cy="36.14" r="3.05" fill="url(#gSnT)" stroke="#7f7ca8" stroke-width="0.3" />
<circle cx="467" cy="20.7" r="3.3" fill="#1c7cc8" />
<circle cx="471.4" cy="20.7" r="3.3" fill="#1c7cc8" />
<circle cx="477" cy="20.7" r="3.3" fill="#1c7cc8" />
<circle cx="481.4" cy="20.7" r="3.3" fill="#1c7cc8" />
<circle cx="490.9" cy="20.7" r="3.3" fill="#1c7cc8" />
<circle cx="497.6" cy="20.7" r="3.3" fill="#1c7cc8" />
<circle cx="467" cy="20.7" r="1.98" fill="#2a9be0" />
<circle cx="471.4" cy="20.7" r="1.98" fill="#2a9be0" />
<circle cx="477" cy="20.7" r="1.98" fill="#2a9be0" />
<circle cx="481.4" cy="20.7" r="1.98" fill="#2a9be0" />
<circle cx="490.9" cy="20.7" r="1.98" fill="#2a9be0" />
<circle cx="497.6" cy="20.7" r="1.98" fill="#2a9be0" />
<text x="467" y="22" font-size="3.6" text-anchor="middle" font-weight="bold" fill="#0a2a4a" >1</text>
<text x="471.4" y="22" font-size="3.6" text-anchor="middle" font-weight="bold" fill="#0a2a4a" >2</text>
<text x="477" y="22" font-size="3.6" text-anchor="middle" font-weight="bold" fill="#0a2a4a" >3</text>
<text x="481.4" y="22" font-size="3.6" text-anchor="middle" font-weight="bold" fill="#0a2a4a" >4</text>
<text x="490.9" y="22" font-size="3.6" text-anchor="middle" font-weight="bold" fill="#0a2a4a" >5</text>
<text x="497.6" y="22" font-size="3.6" text-anchor="middle" font-weight="bold" fill="#0a2a4a" >6</text>
<circle cx="485.7" cy="20.7" r="3.05" fill="url(#gSnT)" stroke="#7f7ca8" stroke-width="0.3" />
<circle cx="503.9" cy="20.7" r="3.05" fill="url(#gSnT)" stroke="#7f7ca8" stroke-width="0.3" />
<line x1="467.27" y1="9.94" x2="463.46" y2="7.74" stroke="#dede58" stroke-width="0.75" />
<line x1="467.27" y1="9.94" x2="471.09" y2="7.74" stroke="#dede58" stroke-width="0.75" />
<line x1="467.27" y1="9.94" x2="467.27" y2="14.34" stroke="#dede58" stroke-width="0.75" />
<circle cx="467.27" cy="9.94" r="1.8" fill="#dede58" />
<line x1="476.35" y1="15.18" x2="476.35" y2="10.78" stroke="#dada4a" stroke-width="0.75" />
<line x1="476.35" y1="15.18" x2="472.54" y2="17.38" stroke="#dada4a" stroke-width="0.75" />
<line x1="476.35" y1="15.18" x2="480.16" y2="17.38" stroke="#dada4a" stroke-width="0.75" />
<circle cx="476.35" cy="15.18" r="1.8" fill="#dada4a" />
<line x1="485.42" y1="9.94" x2="481.61" y2="7.74" stroke="#dede58" stroke-width="0.75" />
<line x1="485.42" y1="9.94" x2="489.24" y2="7.74" stroke="#dede58" stroke-width="0.75" />
<line x1="485.42" y1="9.94" x2="485.42" y2="14.34" stroke="#dede58" stroke-width="0.75" />
<circle cx="485.42" cy="9.94" r="1.8" fill="#dede58" />
<line x1="494.5" y1="15.18" x2="494.5" y2="10.78" stroke="#dada4a" stroke-width="0.75" />
<line x1="494.5" y1="15.18" x2="490.69" y2="17.38" stroke="#dada4a" stroke-width="0.75" />
<line x1="494.5" y1="15.18" x2="498.31" y2="17.38" stroke="#dada4a" stroke-width="0.75" />
<circle cx="494.5" cy="15.18" r="1.8" fill="#dada4a" />
<line x1="503.57" y1="9.94" x2="499.76" y2="7.74" stroke="#dede58" stroke-width="0.75" />
<line x1="503.57" y1="9.94" x2="507.39" y2="7.74" stroke="#dede58" stroke-width="0.75" />
<line x1="503.57" y1="9.94" x2="503.57" y2="14.34" stroke="#dede58" stroke-width="0.75" />
<circle cx="503.57" cy="9.94" r="1.8" fill="#dede58" />
<line x1="512.65" y1="15.18" x2="512.65" y2="10.78" stroke="#dada4a" stroke-width="0.75" />
<line x1="512.65" y1="15.18" x2="508.84" y2="17.38" stroke="#dada4a" stroke-width="0.75" />
<line x1="512.65" y1="15.18" x2="516.46" y2="17.38" stroke="#dada4a" stroke-width="0.75" />
<circle cx="512.65" cy="15.18" r="1.8" fill="#dada4a" />
<line x1="476.35" y1="25.66" x2="472.54" y2="23.46" stroke="#dede58" stroke-width="0.75" />
<line x1="476.35" y1="25.66" x2="480.16" y2="23.46" stroke="#dede58" stroke-width="0.75" />
<line x1="476.35" y1="25.66" x2="476.35" y2="30.06" stroke="#dede58" stroke-width="0.75" />
<circle cx="476.35" cy="25.66" r="1.8" fill="#dede58" />
<line x1="485.42" y1="30.9" x2="485.42" y2="26.5" stroke="#dada4a" stroke-width="0.75" />
<line x1="485.42" y1="30.9" x2="481.61" y2="33.1" stroke="#dada4a" stroke-width="0.75" />
<line x1="485.42" y1="30.9" x2="489.24" y2="33.1" stroke="#dada4a" stroke-width="0.75" />
<circle cx="485.42" cy="30.9" r="1.8" fill="#dada4a" />
<line x1="494.5" y1="25.66" x2="490.69" y2="23.46" stroke="#dede58" stroke-width="0.75" />
<line x1="494.5" y1="25.66" x2="498.31" y2="23.46" stroke="#dede58" stroke-width="0.75" />
<line x1="494.5" y1="25.66" x2="494.5" y2="30.06" stroke="#dede58" stroke-width="0.75" />
<circle cx="494.5" cy="25.66" r="1.8" fill="#dede58" />
<line x1="503.57" y1="30.9" x2="503.57" y2="26.5" stroke="#dada4a" stroke-width="0.75" />
<line x1="503.57" y1="30.9" x2="499.76" y2="33.1" stroke="#dada4a" stroke-width="0.75" />
<line x1="503.57" y1="30.9" x2="507.39" y2="33.1" stroke="#dada4a" stroke-width="0.75" />
<circle cx="503.57" cy="30.9" r="1.8" fill="#dada4a" />
<line x1="512.65" y1="25.66" x2="508.84" y2="23.46" stroke="#dede58" stroke-width="0.75" />
<line x1="512.65" y1="25.66" x2="516.46" y2="23.46" stroke="#dede58" stroke-width="0.75" />
<line x1="512.65" y1="25.66" x2="512.65" y2="30.06" stroke="#dede58" stroke-width="0.75" />
<circle cx="512.65" cy="25.66" r="1.8" fill="#dede58" />
<line x1="521.73" y1="30.9" x2="521.73" y2="26.5" stroke="#dada4a" stroke-width="0.75" />
<line x1="521.73" y1="30.9" x2="517.91" y2="33.1" stroke="#dada4a" stroke-width="0.75" />
<line x1="521.73" y1="30.9" x2="525.54" y2="33.1" stroke="#dada4a" stroke-width="0.75" />
<circle cx="521.73" cy="30.9" r="1.8" fill="#dada4a" />
<text x="508.8" y="22.1" font-size="3.8" text-anchor="middle" font-weight="bold" fill="#222" >7</text>
<line x1="461.5" y1="47.8" x2="470" y2="47.8" stroke="#e0182a" stroke-width="1.2" />
<polygon points="468.9,46.1 472.5,47.8 468.9,49.5" fill="#e0182a" />
<line x1="461.5" y1="47.8" x2="456.9" y2="39.83" stroke="#22b04a" stroke-width="1.2" />
<polygon points="455.1,36.72 458.37,38.98 455.43,40.68" fill="#22b04a" />
<circle cx="461.5" cy="47.8" r="1.3" fill="#1a1a8c" />
<text x="474" y="48.8" font-size="3" text-anchor="start" font-weight="bold" fill="#222" >a</text>
<text x="454.1" y="35.92" font-size="3" text-anchor="middle" font-weight="bold" fill="#222" >b</text>
<text x="504.8" y="52.2" font-size="8.2" text-anchor="middle" font-weight="bold" fill="#111" >SnS<tspan font-size="5.74" dy="1.64">2</tspan><tspan dy="-1.64"></tspan></text>
</g>
<g>
<line x1="546.95" y1="7.57" x2="542.03" y2="4.73" stroke="#dede58" stroke-width="0.75" />
<line x1="542.03" y1="4.73" x2="538" y2="2.4" stroke="#b5b3d0" stroke-width="0.6" />
<line x1="546.95" y1="7.57" x2="551.87" y2="4.73" stroke="#dede58" stroke-width="0.75" />
<line x1="551.87" y1="4.73" x2="555.9" y2="2.4" stroke="#b5b3d0" stroke-width="0.6" />
<line x1="546.95" y1="7.57" x2="546.95" y2="13.25" stroke="#dede58" stroke-width="0.75" />
<line x1="546.95" y1="13.25" x2="546.95" y2="17.9" stroke="#b5b3d0" stroke-width="0.6" />
<line x1="555.9" y1="12.73" x2="555.9" y2="7.05" stroke="#dada4a" stroke-width="0.75" />
<line x1="555.9" y1="7.05" x2="555.9" y2="2.4" stroke="#b5b3d0" stroke-width="0.6" />
<line x1="555.9" y1="12.73" x2="550.98" y2="15.58" stroke="#dada4a" stroke-width="0.75" />
<line x1="550.98" y1="15.58" x2="546.95" y2="17.9" stroke="#b5b3d0" stroke-width="0.6" />
<line x1="555.9" y1="12.73" x2="560.82" y2="15.58" stroke="#dada4a" stroke-width="0.75" />
<line x1="560.82" y1="15.58" x2="564.85" y2="17.9" stroke="#b5b3d0" stroke-width="0.6" />
<line x1="564.85" y1="7.57" x2="559.93" y2="4.73" stroke="#dede58" stroke-width="0.75" />
<line x1="559.93" y1="4.73" x2="555.9" y2="2.4" stroke="#b5b3d0" stroke-width="0.6" />
<line x1="564.85" y1="7.57" x2="569.77" y2="4.73" stroke="#dede58" stroke-width="0.75" />
<line x1="569.77" y1="4.73" x2="573.8" y2="2.4" stroke="#b5b3d0" stroke-width="0.6" />
<line x1="564.85" y1="7.57" x2="564.85" y2="13.25" stroke="#dede58" stroke-width="0.75" />
<line x1="564.85" y1="13.25" x2="564.85" y2="17.9" stroke="#b5b3d0" stroke-width="0.6" />
<line x1="573.8" y1="12.73" x2="573.8" y2="7.05" stroke="#dada4a" stroke-width="0.75" />
<line x1="573.8" y1="7.05" x2="573.8" y2="2.4" stroke="#b5b3d0" stroke-width="0.6" />
<line x1="573.8" y1="12.73" x2="568.88" y2="15.58" stroke="#dada4a" stroke-width="0.75" />
<line x1="568.88" y1="15.58" x2="564.85" y2="17.9" stroke="#b5b3d0" stroke-width="0.6" />
<line x1="573.8" y1="12.73" x2="578.72" y2="15.58" stroke="#dada4a" stroke-width="0.75" />
<line x1="578.72" y1="15.58" x2="582.75" y2="17.9" stroke="#b5b3d0" stroke-width="0.6" />
<line x1="555.9" y1="23.07" x2="550.98" y2="20.23" stroke="#dede58" stroke-width="0.75" />
<line x1="550.98" y1="20.23" x2="546.95" y2="17.9" stroke="#b5b3d0" stroke-width="0.6" />
<line x1="555.9" y1="23.07" x2="560.82" y2="20.23" stroke="#dede58" stroke-width="0.75" />
<line x1="560.82" y1="20.23" x2="564.85" y2="17.9" stroke="#b5b3d0" stroke-width="0.6" />
<line x1="555.9" y1="23.07" x2="555.9" y2="28.75" stroke="#dede58" stroke-width="0.75" />
<line x1="555.9" y1="28.75" x2="555.9" y2="33.4" stroke="#b5b3d0" stroke-width="0.6" />
<line x1="564.85" y1="28.24" x2="564.85" y2="22.55" stroke="#dada4a" stroke-width="0.75" />
<line x1="564.85" y1="22.55" x2="564.85" y2="17.9" stroke="#b5b3d0" stroke-width="0.6" />
<line x1="564.85" y1="28.24" x2="559.93" y2="31.08" stroke="#dada4a" stroke-width="0.75" />
<line x1="559.93" y1="31.08" x2="555.9" y2="33.4" stroke="#b5b3d0" stroke-width="0.6" />
<line x1="564.85" y1="28.24" x2="569.77" y2="31.08" stroke="#dada4a" stroke-width="0.75" />
<line x1="569.77" y1="31.08" x2="573.8" y2="33.4" stroke="#b5b3d0" stroke-width="0.6" />
<line x1="573.8" y1="23.07" x2="568.88" y2="20.23" stroke="#dede58" stroke-width="0.75" />
<line x1="568.88" y1="20.23" x2="564.85" y2="17.9" stroke="#b5b3d0" stroke-width="0.6" />
<line x1="573.8" y1="23.07" x2="578.72" y2="20.23" stroke="#dede58" stroke-width="0.75" />
<line x1="578.72" y1="20.23" x2="582.75" y2="17.9" stroke="#b5b3d0" stroke-width="0.6" />
<line x1="573.8" y1="23.07" x2="573.8" y2="28.75" stroke="#dede58" stroke-width="0.75" />
<line x1="573.8" y1="28.75" x2="573.8" y2="33.4" stroke="#b5b3d0" stroke-width="0.6" />
<line x1="582.75" y1="28.24" x2="582.75" y2="22.55" stroke="#dada4a" stroke-width="0.75" />
<line x1="582.75" y1="22.55" x2="582.75" y2="17.9" stroke="#b5b3d0" stroke-width="0.6" />
<line x1="582.75" y1="28.24" x2="577.83" y2="31.08" stroke="#dada4a" stroke-width="0.75" />
<line x1="577.83" y1="31.08" x2="573.8" y2="33.4" stroke="#b5b3d0" stroke-width="0.6" />
<line x1="582.75" y1="28.24" x2="587.67" y2="31.08" stroke="#dada4a" stroke-width="0.75" />
<line x1="587.67" y1="31.08" x2="591.7" y2="33.4" stroke="#b5b3d0" stroke-width="0.6" />
<circle cx="538" cy="2.4" r="3.05" fill="url(#gSnT)" stroke="#7f7ca8" stroke-width="0.3" />
<circle cx="555.9" cy="2.4" r="3.05" fill="url(#gSnT)" stroke="#7f7ca8" stroke-width="0.3" />
<circle cx="573.8" cy="2.4" r="3.05" fill="url(#gSnT)" stroke="#7f7ca8" stroke-width="0.3" />
<circle cx="546.95" cy="17.9" r="3.05" fill="url(#gSnT)" stroke="#7f7ca8" stroke-width="0.3" />
<circle cx="564.85" cy="17.9" r="3.05" fill="url(#gSnT)" stroke="#7f7ca8" stroke-width="0.3" />
<circle cx="582.75" cy="17.9" r="3.05" fill="url(#gSnT)" stroke="#7f7ca8" stroke-width="0.3" />
<circle cx="555.9" cy="33.4" r="3.05" fill="url(#gSnT)" stroke="#7f7ca8" stroke-width="0.3" />
<circle cx="573.8" cy="33.4" r="3.05" fill="url(#gSnT)" stroke="#7f7ca8" stroke-width="0.3" />
<circle cx="591.7" cy="33.4" r="3.05" fill="url(#gSnT)" stroke="#7f7ca8" stroke-width="0.3" />
<circle cx="602.44" cy="39.14" r="3.05" fill="url(#gSnT)" stroke="#7f7ca8" stroke-width="0.3" />
<line x1="582.75" y1="7.57" x2="577.83" y2="4.73" stroke="#dede58" stroke-width="0.75" />
<line x1="577.83" y1="4.73" x2="573.8" y2="2.4" stroke="#b5b3d0" stroke-width="0.6" />
<line x1="582.75" y1="7.57" x2="582.75" y2="13.25" stroke="#dede58" stroke-width="0.75" />
<line x1="582.75" y1="13.25" x2="582.75" y2="17.9" stroke="#b5b3d0" stroke-width="0.6" />
<line x1="591.7" y1="23.07" x2="586.78" y2="20.23" stroke="#dede58" stroke-width="0.75" />
<line x1="586.78" y1="20.23" x2="582.75" y2="17.9" stroke="#b5b3d0" stroke-width="0.6" />
<line x1="591.7" y1="23.07" x2="591.7" y2="28.75" stroke="#dede58" stroke-width="0.75" />
<line x1="591.7" y1="28.75" x2="591.7" y2="33.4" stroke="#b5b3d0" stroke-width="0.6" />
<line x1="564.85" y1="38.57" x2="559.93" y2="35.73" stroke="#dede58" stroke-width="0.75" />
<line x1="559.93" y1="35.73" x2="555.9" y2="33.4" stroke="#b5b3d0" stroke-width="0.6" />
<line x1="564.85" y1="38.57" x2="569.77" y2="35.73" stroke="#dede58" stroke-width="0.75" />
<line x1="569.77" y1="35.73" x2="573.8" y2="33.4" stroke="#b5b3d0" stroke-width="0.6" />
<line x1="582.75" y1="38.57" x2="577.83" y2="35.73" stroke="#dede58" stroke-width="0.75" />
<line x1="577.83" y1="35.73" x2="573.8" y2="33.4" stroke="#b5b3d0" stroke-width="0.6" />
<line x1="582.75" y1="38.57" x2="587.67" y2="35.73" stroke="#dede58" stroke-width="0.75" />
<line x1="587.67" y1="35.73" x2="591.7" y2="33.4" stroke="#b5b3d0" stroke-width="0.6" />
<circle cx="546" cy="28.7" r="2.9" fill="#1c7cc8" />
<circle cx="550" cy="28.7" r="2.9" fill="#1c7cc8" />
<circle cx="555" cy="28.7" r="2.9" fill="#1c7cc8" />
<circle cx="562.5" cy="28.7" r="2.9" fill="#1c7cc8" />
<circle cx="567" cy="28.7" r="2.9" fill="#1c7cc8" />
<circle cx="573" cy="28.7" r="2.9" fill="#1c7cc8" />
<circle cx="579" cy="28.7" r="2.9" fill="#1c7cc8" />
<circle cx="583.5" cy="28.7" r="2.9" fill="#1c7cc8" />
<circle cx="546" cy="28.7" r="1.74" fill="#2a9be0" />
<circle cx="550" cy="28.7" r="1.74" fill="#2a9be0" />
<circle cx="555" cy="28.7" r="1.74" fill="#2a9be0" />
<circle cx="562.5" cy="28.7" r="1.74" fill="#2a9be0" />
<circle cx="567" cy="28.7" r="1.74" fill="#2a9be0" />
<circle cx="573" cy="28.7" r="1.74" fill="#2a9be0" />
<circle cx="579" cy="28.7" r="1.74" fill="#2a9be0" />
<circle cx="583.5" cy="28.7" r="1.74" fill="#2a9be0" />
<text x="546" y="30" font-size="3.5" text-anchor="middle" font-weight="bold" fill="#0a2a4a" >1</text>
<text x="550.5" y="30" font-size="3.5" text-anchor="middle" font-weight="bold" fill="#0a2a4a" >2</text>
<text x="558.5" y="30" font-size="3.5" text-anchor="middle" font-weight="bold" fill="#0a2a4a" >3</text>
<text x="563.5" y="30" font-size="3.5" text-anchor="middle" font-weight="bold" fill="#0a2a4a" >4</text>
<text x="570.5" y="30" font-size="3.5" text-anchor="middle" font-weight="bold" fill="#0a2a4a" >5</text>
<text x="578.5" y="30" font-size="3.5" text-anchor="middle" font-weight="bold" fill="#0a2a4a" >6</text>
<text x="583.5" y="30" font-size="3.5" text-anchor="middle" font-weight="bold" fill="#0a2a4a" >7</text>
<line x1="546.95" y1="7.57" x2="543.19" y2="5.4" stroke="#dede58" stroke-width="0.75" />
<line x1="546.95" y1="7.57" x2="550.71" y2="5.4" stroke="#dede58" stroke-width="0.75" />
<line x1="546.95" y1="7.57" x2="546.95" y2="11.91" stroke="#dede58" stroke-width="0.75" />
<circle cx="546.95" cy="7.57" r="2.1" fill="#dede58" />
<line x1="555.9" y1="12.73" x2="555.9" y2="8.39" stroke="#dada4a" stroke-width="0.75" />
<line x1="555.9" y1="12.73" x2="552.14" y2="14.9" stroke="#dada4a" stroke-width="0.75" />
<line x1="555.9" y1="12.73" x2="559.66" y2="14.9" stroke="#dada4a" stroke-width="0.75" />
<circle cx="555.9" cy="12.73" r="2.1" fill="#dada4a" />
<line x1="564.85" y1="7.57" x2="561.09" y2="5.4" stroke="#dede58" stroke-width="0.75" />
<line x1="564.85" y1="7.57" x2="568.61" y2="5.4" stroke="#dede58" stroke-width="0.75" />
<line x1="564.85" y1="7.57" x2="564.85" y2="11.91" stroke="#dede58" stroke-width="0.75" />
<circle cx="564.85" cy="7.57" r="2.1" fill="#dede58" />
<line x1="573.8" y1="12.73" x2="573.8" y2="8.39" stroke="#dada4a" stroke-width="0.75" />
<line x1="573.8" y1="12.73" x2="570.04" y2="14.9" stroke="#dada4a" stroke-width="0.75" />
<line x1="573.8" y1="12.73" x2="577.56" y2="14.9" stroke="#dada4a" stroke-width="0.75" />
<circle cx="573.8" cy="12.73" r="2.1" fill="#dada4a" />
<line x1="555.9" y1="23.07" x2="552.14" y2="20.9" stroke="#dede58" stroke-width="0.75" />
<line x1="555.9" y1="23.07" x2="559.66" y2="20.9" stroke="#dede58" stroke-width="0.75" />
<line x1="555.9" y1="23.07" x2="555.9" y2="27.41" stroke="#dede58" stroke-width="0.75" />
<circle cx="555.9" cy="23.07" r="2.1" fill="#dede58" />
<line x1="564.85" y1="28.24" x2="564.85" y2="23.9" stroke="#dada4a" stroke-width="0.75" />
<line x1="564.85" y1="28.24" x2="561.09" y2="30.41" stroke="#dada4a" stroke-width="0.75" />
<line x1="564.85" y1="28.24" x2="568.61" y2="30.41" stroke="#dada4a" stroke-width="0.75" />
<circle cx="564.85" cy="28.24" r="2.1" fill="#dada4a" />
<line x1="573.8" y1="23.07" x2="570.04" y2="20.9" stroke="#dede58" stroke-width="0.75" />
<line x1="573.8" y1="23.07" x2="577.56" y2="20.9" stroke="#dede58" stroke-width="0.75" />
<line x1="573.8" y1="23.07" x2="573.8" y2="27.41" stroke="#dede58" stroke-width="0.75" />
<circle cx="573.8" cy="23.07" r="2.1" fill="#dede58" />
<line x1="582.75" y1="28.24" x2="582.75" y2="23.9" stroke="#dada4a" stroke-width="0.75" />
<line x1="582.75" y1="28.24" x2="578.99" y2="30.41" stroke="#dada4a" stroke-width="0.75" />
<line x1="582.75" y1="28.24" x2="586.51" y2="30.41" stroke="#dada4a" stroke-width="0.75" />
<circle cx="582.75" cy="28.24" r="2.1" fill="#dada4a" />
<line x1="582.75" y1="7.57" x2="578.99" y2="5.4" stroke="#dede58" stroke-width="0.75" />
<line x1="582.75" y1="7.57" x2="582.75" y2="11.91" stroke="#dede58" stroke-width="0.75" />
<circle cx="582.75" cy="7.57" r="2.1" fill="#dede58" />
<line x1="591.7" y1="23.07" x2="587.94" y2="20.9" stroke="#dede58" stroke-width="0.75" />
<line x1="591.7" y1="23.07" x2="591.7" y2="27.41" stroke="#dede58" stroke-width="0.75" />
<circle cx="591.7" cy="23.07" r="2.1" fill="#dede58" />
<line x1="564.85" y1="38.57" x2="561.09" y2="36.4" stroke="#dede58" stroke-width="0.75" />
<line x1="564.85" y1="38.57" x2="568.61" y2="36.4" stroke="#dede58" stroke-width="0.75" />
<circle cx="564.85" cy="38.57" r="2.1" fill="#dede58" />
<line x1="582.75" y1="38.57" x2="578.99" y2="36.4" stroke="#dede58" stroke-width="0.75" />
<line x1="582.75" y1="38.57" x2="586.51" y2="36.4" stroke="#dede58" stroke-width="0.75" />
<circle cx="582.75" cy="38.57" r="2.1" fill="#dede58" />
<line x1="548.4" y1="2" x2="548.4" y2="9.1" stroke="#94603a" stroke-width="0.95" />
<line x1="560.55" y1="2" x2="560.55" y2="9.1" stroke="#94603a" stroke-width="0.95" />
<line x1="572.7" y1="2" x2="572.7" y2="9.1" stroke="#94603a" stroke-width="0.95" />
<line x1="584.85" y1="2" x2="584.85" y2="9.1" stroke="#94603a" stroke-width="0.95" />
<line x1="548.4" y1="9.1" x2="542.32" y2="12.4" stroke="#94603a" stroke-width="0.95" />
<line x1="548.4" y1="9.1" x2="554.48" y2="12.4" stroke="#94603a" stroke-width="0.95" />
<line x1="560.55" y1="9.1" x2="554.48" y2="12.4" stroke="#94603a" stroke-width="0.95" />
<line x1="560.55" y1="9.1" x2="566.62" y2="12.4" stroke="#94603a" stroke-width="0.95" />
<line x1="572.7" y1="9.1" x2="566.62" y2="12.4" stroke="#94603a" stroke-width="0.95" />
<line x1="572.7" y1="9.1" x2="578.77" y2="12.4" stroke="#94603a" stroke-width="0.95" />
<line x1="584.85" y1="9.1" x2="578.77" y2="12.4" stroke="#94603a" stroke-width="0.95" />
<line x1="554.48" y1="12.4" x2="554.48" y2="19.5" stroke="#94603a" stroke-width="0.95" />
<line x1="566.62" y1="12.4" x2="566.62" y2="19.5" stroke="#94603a" stroke-width="0.95" />
<line x1="578.77" y1="12.4" x2="578.77" y2="19.5" stroke="#94603a" stroke-width="0.95" />
<line x1="554.48" y1="19.5" x2="548.4" y2="22.8" stroke="#94603a" stroke-width="0.95" />
<line x1="554.48" y1="19.5" x2="560.55" y2="22.8" stroke="#94603a" stroke-width="0.95" />
<line x1="566.62" y1="19.5" x2="560.55" y2="22.8" stroke="#94603a" stroke-width="0.95" />
<line x1="566.62" y1="19.5" x2="572.7" y2="22.8" stroke="#94603a" stroke-width="0.95" />
<line x1="578.77" y1="19.5" x2="572.7" y2="22.8" stroke="#94603a" stroke-width="0.95" />
<line x1="578.77" y1="19.5" x2="584.85" y2="22.8" stroke="#94603a" stroke-width="0.95" />
<line x1="590.92" y1="19.5" x2="584.85" y2="22.8" stroke="#94603a" stroke-width="0.95" />
<line x1="560.55" y1="22.8" x2="560.55" y2="29.9" stroke="#94603a" stroke-width="0.95" />
<line x1="572.7" y1="22.8" x2="572.7" y2="29.9" stroke="#94603a" stroke-width="0.95" />
<line x1="584.85" y1="22.8" x2="584.85" y2="29.9" stroke="#94603a" stroke-width="0.95" />
<line x1="560.55" y1="29.9" x2="554.48" y2="33.2" stroke="#94603a" stroke-width="0.95" />
<line x1="560.55" y1="29.9" x2="566.62" y2="33.2" stroke="#94603a" stroke-width="0.95" />
<line x1="572.7" y1="29.9" x2="566.62" y2="33.2" stroke="#94603a" stroke-width="0.95" />
<line x1="572.7" y1="29.9" x2="578.77" y2="33.2" stroke="#94603a" stroke-width="0.95" />
<line x1="584.85" y1="29.9" x2="578.77" y2="33.2" stroke="#94603a" stroke-width="0.95" />
<line x1="584.85" y1="29.9" x2="590.92" y2="33.2" stroke="#94603a" stroke-width="0.95" />
<line x1="597" y1="29.9" x2="590.92" y2="33.2" stroke="#94603a" stroke-width="0.95" />
<line x1="566.62" y1="33.2" x2="566.62" y2="40.3" stroke="#94603a" stroke-width="0.95" />
<line x1="578.77" y1="33.2" x2="578.77" y2="40.3" stroke="#94603a" stroke-width="0.95" />
<line x1="590.92" y1="33.2" x2="590.92" y2="40.3" stroke="#94603a" stroke-width="0.95" />
<circle cx="548.4" cy="2" r="1.35" fill="url(#gC)" stroke="#6a3c1e" stroke-width="0.25" />
<circle cx="560.55" cy="2" r="1.35" fill="url(#gC)" stroke="#6a3c1e" stroke-width="0.25" />
<circle cx="572.7" cy="2" r="1.35" fill="url(#gC)" stroke="#6a3c1e" stroke-width="0.25" />
<circle cx="584.85" cy="2" r="1.35" fill="url(#gC)" stroke="#6a3c1e" stroke-width="0.25" />
<circle cx="548.4" cy="9.1" r="1.35" fill="url(#gC)" stroke="#6a3c1e" stroke-width="0.25" />
<circle cx="560.55" cy="9.1" r="1.35" fill="url(#gC)" stroke="#6a3c1e" stroke-width="0.25" />
<circle cx="572.7" cy="9.1" r="1.35" fill="url(#gC)" stroke="#6a3c1e" stroke-width="0.25" />
<circle cx="584.85" cy="9.1" r="1.35" fill="url(#gC)" stroke="#6a3c1e" stroke-width="0.25" />
<circle cx="542.32" cy="12.4" r="1.35" fill="url(#gC)" stroke="#6a3c1e" stroke-width="0.25" />
<circle cx="554.48" cy="12.4" r="1.35" fill="url(#gC)" stroke="#6a3c1e" stroke-width="0.25" />
<circle cx="566.62" cy="12.4" r="1.35" fill="url(#gC)" stroke="#6a3c1e" stroke-width="0.25" />
<circle cx="578.77" cy="12.4" r="1.35" fill="url(#gC)" stroke="#6a3c1e" stroke-width="0.25" />
<circle cx="554.48" cy="19.5" r="1.35" fill="url(#gC)" stroke="#6a3c1e" stroke-width="0.25" />
<circle cx="566.62" cy="19.5" r="1.35" fill="url(#gC)" stroke="#6a3c1e" stroke-width="0.25" />
<circle cx="578.77" cy="19.5" r="1.35" fill="url(#gC)" stroke="#6a3c1e" stroke-width="0.25" />
<circle cx="590.92" cy="19.5" r="1.35" fill="url(#gC)" stroke="#6a3c1e" stroke-width="0.25" />
<circle cx="548.4" cy="22.8" r="1.35" fill="url(#gC)" stroke="#6a3c1e" stroke-width="0.25" />
<circle cx="560.55" cy="22.8" r="1.35" fill="url(#gC)" stroke="#6a3c1e" stroke-width="0.25" />
<circle cx="572.7" cy="22.8" r="1.35" fill="url(#gC)" stroke="#6a3c1e" stroke-width="0.25" />
<circle cx="584.85" cy="22.8" r="1.35" fill="url(#gC)" stroke="#6a3c1e" stroke-width="0.25" />
<circle cx="560.55" cy="29.9" r="1.35" fill="url(#gC)" stroke="#6a3c1e" stroke-width="0.25" />
<circle cx="572.7" cy="29.9" r="1.35" fill="url(#gC)" stroke="#6a3c1e" stroke-width="0.25" />
<circle cx="584.85" cy="29.9" r="1.35" fill="url(#gC)" stroke="#6a3c1e" stroke-width="0.25" />
<circle cx="597" cy="29.9" r="1.35" fill="url(#gC)" stroke="#6a3c1e" stroke-width="0.25" />
<circle cx="554.48" cy="33.2" r="1.35" fill="url(#gC)" stroke="#6a3c1e" stroke-width="0.25" />
<circle cx="566.62" cy="33.2" r="1.35" fill="url(#gC)" stroke="#6a3c1e" stroke-width="0.25" />
<circle cx="578.77" cy="33.2" r="1.35" fill="url(#gC)" stroke="#6a3c1e" stroke-width="0.25" />
<circle cx="590.92" cy="33.2" r="1.35" fill="url(#gC)" stroke="#6a3c1e" stroke-width="0.25" />
<circle cx="566.62" cy="40.3" r="1.35" fill="url(#gC)" stroke="#6a3c1e" stroke-width="0.25" />
<circle cx="578.77" cy="40.3" r="1.35" fill="url(#gC)" stroke="#6a3c1e" stroke-width="0.25" />
<circle cx="590.92" cy="40.3" r="1.35" fill="url(#gC)" stroke="#6a3c1e" stroke-width="0.25" />
<text x="570.4" y="51.9" font-size="8.2" text-anchor="middle" font-weight="bold" fill="#111" >SnS<tspan font-size="5.74" dy="1.64">2</tspan><tspan dy="-1.64">/G</tspan></text>
</g><g>
<line x1="616.95" y1="7.37" x2="612.03" y2="4.53" stroke="#dede58" stroke-width="0.75" />
<line x1="612.03" y1="4.53" x2="608" y2="2.2" stroke="#b5b3d0" stroke-width="0.6" />
<line x1="616.95" y1="7.37" x2="621.87" y2="4.53" stroke="#dede58" stroke-width="0.75" />
<line x1="621.87" y1="4.53" x2="625.9" y2="2.2" stroke="#b5b3d0" stroke-width="0.6" />
<line x1="616.95" y1="7.37" x2="616.95" y2="13.05" stroke="#dede58" stroke-width="0.75" />
<line x1="616.95" y1="13.05" x2="616.95" y2="17.7" stroke="#b5b3d0" stroke-width="0.6" />
<line x1="625.9" y1="12.53" x2="625.9" y2="6.85" stroke="#dada4a" stroke-width="0.75" />
<line x1="625.9" y1="6.85" x2="625.9" y2="2.2" stroke="#b5b3d0" stroke-width="0.6" />
<line x1="625.9" y1="12.53" x2="620.98" y2="15.38" stroke="#dada4a" stroke-width="0.75" />
<line x1="620.98" y1="15.38" x2="616.95" y2="17.7" stroke="#b5b3d0" stroke-width="0.6" />
<line x1="625.9" y1="12.53" x2="630.82" y2="15.38" stroke="#dada4a" stroke-width="0.75" />
<line x1="630.82" y1="15.38" x2="634.85" y2="17.7" stroke="#b5b3d0" stroke-width="0.6" />
<line x1="634.85" y1="7.37" x2="629.93" y2="4.53" stroke="#dede58" stroke-width="0.75" />
<line x1="629.93" y1="4.53" x2="625.9" y2="2.2" stroke="#b5b3d0" stroke-width="0.6" />
<line x1="634.85" y1="7.37" x2="639.77" y2="4.53" stroke="#dede58" stroke-width="0.75" />
<line x1="639.77" y1="4.53" x2="643.8" y2="2.2" stroke="#b5b3d0" stroke-width="0.6" />
<line x1="634.85" y1="7.37" x2="634.85" y2="13.05" stroke="#dede58" stroke-width="0.75" />
<line x1="634.85" y1="13.05" x2="634.85" y2="17.7" stroke="#b5b3d0" stroke-width="0.6" />
<line x1="643.8" y1="12.53" x2="643.8" y2="6.85" stroke="#dada4a" stroke-width="0.75" />
<line x1="643.8" y1="6.85" x2="643.8" y2="2.2" stroke="#b5b3d0" stroke-width="0.6" />
<line x1="643.8" y1="12.53" x2="638.88" y2="15.38" stroke="#dada4a" stroke-width="0.75" />
<line x1="638.88" y1="15.38" x2="634.85" y2="17.7" stroke="#b5b3d0" stroke-width="0.6" />
<line x1="643.8" y1="12.53" x2="648.72" y2="15.38" stroke="#dada4a" stroke-width="0.75" />
<line x1="648.72" y1="15.38" x2="652.75" y2="17.7" stroke="#b5b3d0" stroke-width="0.6" />
<line x1="625.9" y1="22.87" x2="620.98" y2="20.03" stroke="#dede58" stroke-width="0.75" />
<line x1="620.98" y1="20.03" x2="616.95" y2="17.7" stroke="#b5b3d0" stroke-width="0.6" />
<line x1="625.9" y1="22.87" x2="630.82" y2="20.03" stroke="#dede58" stroke-width="0.75" />
<line x1="630.82" y1="20.03" x2="634.85" y2="17.7" stroke="#b5b3d0" stroke-width="0.6" />
<line x1="625.9" y1="22.87" x2="625.9" y2="28.55" stroke="#dede58" stroke-width="0.75" />
<line x1="625.9" y1="28.55" x2="625.9" y2="33.2" stroke="#b5b3d0" stroke-width="0.6" />
<line x1="634.85" y1="28.04" x2="634.85" y2="22.35" stroke="#dada4a" stroke-width="0.75" />
<line x1="634.85" y1="22.35" x2="634.85" y2="17.7" stroke="#b5b3d0" stroke-width="0.6" />
<line x1="634.85" y1="28.04" x2="629.93" y2="30.88" stroke="#dada4a" stroke-width="0.75" />
<line x1="629.93" y1="30.88" x2="625.9" y2="33.2" stroke="#b5b3d0" stroke-width="0.6" />
<line x1="634.85" y1="28.04" x2="639.77" y2="30.88" stroke="#dada4a" stroke-width="0.75" />
<line x1="639.77" y1="30.88" x2="643.8" y2="33.2" stroke="#b5b3d0" stroke-width="0.6" />
<line x1="643.8" y1="22.87" x2="638.88" y2="20.03" stroke="#dede58" stroke-width="0.75" />
<line x1="638.88" y1="20.03" x2="634.85" y2="17.7" stroke="#b5b3d0" stroke-width="0.6" />
<line x1="643.8" y1="22.87" x2="648.72" y2="20.03" stroke="#dede58" stroke-width="0.75" />
<line x1="648.72" y1="20.03" x2="652.75" y2="17.7" stroke="#b5b3d0" stroke-width="0.6" />
<line x1="643.8" y1="22.87" x2="643.8" y2="28.55" stroke="#dede58" stroke-width="0.75" />
<line x1="643.8" y1="28.55" x2="643.8" y2="33.2" stroke="#b5b3d0" stroke-width="0.6" />
<line x1="652.75" y1="28.04" x2="652.75" y2="22.35" stroke="#dada4a" stroke-width="0.75" />
<line x1="652.75" y1="22.35" x2="652.75" y2="17.7" stroke="#b5b3d0" stroke-width="0.6" />
<line x1="652.75" y1="28.04" x2="647.83" y2="30.88" stroke="#dada4a" stroke-width="0.75" />
<line x1="647.83" y1="30.88" x2="643.8" y2="33.2" stroke="#b5b3d0" stroke-width="0.6" />
<line x1="652.75" y1="28.04" x2="657.67" y2="30.88" stroke="#dada4a" stroke-width="0.75" />
<line x1="657.67" y1="30.88" x2="661.7" y2="33.2" stroke="#b5b3d0" stroke-width="0.6" />
<circle cx="608" cy="2.2" r="3.05" fill="url(#gSnT)" stroke="#7f7ca8" stroke-width="0.3" />
<circle cx="625.9" cy="2.2" r="3.05" fill="url(#gSnT)" stroke="#7f7ca8" stroke-width="0.3" />
<circle cx="643.8" cy="2.2" r="3.05" fill="url(#gSnT)" stroke="#7f7ca8" stroke-width="0.3" />
<circle cx="616.95" cy="17.7" r="3.05" fill="url(#gSnT)" stroke="#7f7ca8" stroke-width="0.3" />
<circle cx="634.85" cy="17.7" r="3.05" fill="url(#gSnT)" stroke="#7f7ca8" stroke-width="0.3" />
<circle cx="652.75" cy="17.7" r="3.05" fill="url(#gSnT)" stroke="#7f7ca8" stroke-width="0.3" />
<circle cx="625.9" cy="33.2" r="3.05" fill="url(#gSnT)" stroke="#7f7ca8" stroke-width="0.3" />
<circle cx="643.8" cy="33.2" r="3.05" fill="url(#gSnT)" stroke="#7f7ca8" stroke-width="0.3" />
<circle cx="661.7" cy="33.2" r="3.05" fill="url(#gSnT)" stroke="#7f7ca8" stroke-width="0.3" />
<circle cx="672.44" cy="38.94" r="3.05" fill="url(#gSnT)" stroke="#7f7ca8" stroke-width="0.3" />
<line x1="652.75" y1="7.37" x2="647.83" y2="4.53" stroke="#dede58" stroke-width="0.75" />
<line x1="647.83" y1="4.53" x2="643.8" y2="2.2" stroke="#b5b3d0" stroke-width="0.6" />
<line x1="652.75" y1="7.37" x2="652.75" y2="13.05" stroke="#dede58" stroke-width="0.75" />
<line x1="652.75" y1="13.05" x2="652.75" y2="17.7" stroke="#b5b3d0" stroke-width="0.6" />
<line x1="661.7" y1="22.87" x2="656.78" y2="20.03" stroke="#dede58" stroke-width="0.75" />
<line x1="656.78" y1="20.03" x2="652.75" y2="17.7" stroke="#b5b3d0" stroke-width="0.6" />
<line x1="661.7" y1="22.87" x2="661.7" y2="28.55" stroke="#dede58" stroke-width="0.75" />
<line x1="661.7" y1="28.55" x2="661.7" y2="33.2" stroke="#b5b3d0" stroke-width="0.6" />
<line x1="634.85" y1="38.37" x2="629.93" y2="35.53" stroke="#dede58" stroke-width="0.75" />
<line x1="629.93" y1="35.53" x2="625.9" y2="33.2" stroke="#b5b3d0" stroke-width="0.6" />
<line x1="634.85" y1="38.37" x2="639.77" y2="35.53" stroke="#dede58" stroke-width="0.75" />
<line x1="639.77" y1="35.53" x2="643.8" y2="33.2" stroke="#b5b3d0" stroke-width="0.6" />
<line x1="652.75" y1="38.37" x2="647.83" y2="35.53" stroke="#dede58" stroke-width="0.75" />
<line x1="647.83" y1="35.53" x2="643.8" y2="33.2" stroke="#b5b3d0" stroke-width="0.6" />
<line x1="652.75" y1="38.37" x2="657.67" y2="35.53" stroke="#dede58" stroke-width="0.75" />
<line x1="657.67" y1="35.53" x2="661.7" y2="33.2" stroke="#b5b3d0" stroke-width="0.6" />
<circle cx="616" cy="28.5" r="2.9" fill="#1c7cc8" />
<circle cx="620" cy="28.5" r="2.9" fill="#1c7cc8" />
<circle cx="625" cy="28.5" r="2.9" fill="#1c7cc8" />
<circle cx="632.5" cy="28.5" r="2.9" fill="#1c7cc8" />
<circle cx="637" cy="28.5" r="2.9" fill="#1c7cc8" />
<circle cx="643" cy="28.5" r="2.9" fill="#1c7cc8" />
<circle cx="649" cy="28.5" r="2.9" fill="#1c7cc8" />
<circle cx="653.5" cy="28.5" r="2.9" fill="#1c7cc8" />
<circle cx="616" cy="28.5" r="1.74" fill="#2a9be0" />
<circle cx="620" cy="28.5" r="1.74" fill="#2a9be0" />
<circle cx="625" cy="28.5" r="1.74" fill="#2a9be0" />
<circle cx="632.5" cy="28.5" r="1.74" fill="#2a9be0" />
<circle cx="637" cy="28.5" r="1.74" fill="#2a9be0" />
<circle cx="643" cy="28.5" r="1.74" fill="#2a9be0" />
<circle cx="649" cy="28.5" r="1.74" fill="#2a9be0" />
<circle cx="653.5" cy="28.5" r="1.74" fill="#2a9be0" />
<text x="616" y="29.8" font-size="3.5" text-anchor="middle" font-weight="bold" fill="#0a2a4a" >1</text>
<text x="620.5" y="29.8" font-size="3.5" text-anchor="middle" font-weight="bold" fill="#0a2a4a" >2</text>
<text x="628.5" y="29.8" font-size="3.5" text-anchor="middle" font-weight="bold" fill="#0a2a4a" >3</text>
<text x="633.5" y="29.8" font-size="3.5" text-anchor="middle" font-weight="bold" fill="#0a2a4a" >4</text>
<text x="640.5" y="29.8" font-size="3.5" text-anchor="middle" font-weight="bold" fill="#0a2a4a" >5</text>
<text x="648.5" y="29.8" font-size="3.5" text-anchor="middle" font-weight="bold" fill="#0a2a4a" >6</text>
<text x="653.5" y="29.8" font-size="3.5" text-anchor="middle" font-weight="bold" fill="#0a2a4a" >7</text>
<line x1="616.95" y1="7.37" x2="613.19" y2="5.2" stroke="#dede58" stroke-width="0.75" />
<line x1="616.95" y1="7.37" x2="620.71" y2="5.2" stroke="#dede58" stroke-width="0.75" />
<line x1="616.95" y1="7.37" x2="616.95" y2="11.71" stroke="#dede58" stroke-width="0.75" />
<circle cx="616.95" cy="7.37" r="2.1" fill="#dede58" />
<line x1="625.9" y1="12.53" x2="625.9" y2="8.19" stroke="#dada4a" stroke-width="0.75" />
<line x1="625.9" y1="12.53" x2="622.14" y2="14.7" stroke="#dada4a" stroke-width="0.75" />
<line x1="625.9" y1="12.53" x2="629.66" y2="14.7" stroke="#dada4a" stroke-width="0.75" />
<circle cx="625.9" cy="12.53" r="2.1" fill="#dada4a" />
<line x1="634.85" y1="7.37" x2="631.09" y2="5.2" stroke="#dede58" stroke-width="0.75" />
<line x1="634.85" y1="7.37" x2="638.61" y2="5.2" stroke="#dede58" stroke-width="0.75" />
<line x1="634.85" y1="7.37" x2="634.85" y2="11.71" stroke="#dede58" stroke-width="0.75" />
<circle cx="634.85" cy="7.37" r="2.1" fill="#dede58" />
<line x1="643.8" y1="12.53" x2="643.8" y2="8.19" stroke="#dada4a" stroke-width="0.75" />
<line x1="643.8" y1="12.53" x2="640.04" y2="14.7" stroke="#dada4a" stroke-width="0.75" />
<line x1="643.8" y1="12.53" x2="647.56" y2="14.7" stroke="#dada4a" stroke-width="0.75" />
<circle cx="643.8" cy="12.53" r="2.1" fill="#dada4a" />
<line x1="625.9" y1="22.87" x2="622.14" y2="20.7" stroke="#dede58" stroke-width="0.75" />
<line x1="625.9" y1="22.87" x2="629.66" y2="20.7" stroke="#dede58" stroke-width="0.75" />
<line x1="625.9" y1="22.87" x2="625.9" y2="27.21" stroke="#dede58" stroke-width="0.75" />
<circle cx="625.9" cy="22.87" r="2.1" fill="#dede58" />
<line x1="634.85" y1="28.04" x2="634.85" y2="23.7" stroke="#dada4a" stroke-width="0.75" />
<line x1="634.85" y1="28.04" x2="631.09" y2="30.21" stroke="#dada4a" stroke-width="0.75" />
<line x1="634.85" y1="28.04" x2="638.61" y2="30.21" stroke="#dada4a" stroke-width="0.75" />
<circle cx="634.85" cy="28.04" r="2.1" fill="#dada4a" />
<line x1="643.8" y1="22.87" x2="640.04" y2="20.7" stroke="#dede58" stroke-width="0.75" />
<line x1="643.8" y1="22.87" x2="647.56" y2="20.7" stroke="#dede58" stroke-width="0.75" />
<line x1="643.8" y1="22.87" x2="643.8" y2="27.21" stroke="#dede58" stroke-width="0.75" />
<circle cx="643.8" cy="22.87" r="2.1" fill="#dede58" />
<line x1="652.75" y1="28.04" x2="652.75" y2="23.7" stroke="#dada4a" stroke-width="0.75" />
<line x1="652.75" y1="28.04" x2="648.99" y2="30.21" stroke="#dada4a" stroke-width="0.75" />
<line x1="652.75" y1="28.04" x2="656.51" y2="30.21" stroke="#dada4a" stroke-width="0.75" />
<circle cx="652.75" cy="28.04" r="2.1" fill="#dada4a" />
<line x1="652.75" y1="7.37" x2="648.99" y2="5.2" stroke="#dede58" stroke-width="0.75" />
<line x1="652.75" y1="7.37" x2="652.75" y2="11.71" stroke="#dede58" stroke-width="0.75" />
<circle cx="652.75" cy="7.37" r="2.1" fill="#dede58" />
<line x1="661.7" y1="22.87" x2="657.94" y2="20.7" stroke="#dede58" stroke-width="0.75" />
<line x1="661.7" y1="22.87" x2="661.7" y2="27.21" stroke="#dede58" stroke-width="0.75" />
<circle cx="661.7" cy="22.87" r="2.1" fill="#dede58" />
<line x1="634.85" y1="38.37" x2="631.09" y2="36.2" stroke="#dede58" stroke-width="0.75" />
<line x1="634.85" y1="38.37" x2="638.61" y2="36.2" stroke="#dede58" stroke-width="0.75" />
<circle cx="634.85" cy="38.37" r="2.1" fill="#dede58" />
<line x1="652.75" y1="38.37" x2="648.99" y2="36.2" stroke="#dede58" stroke-width="0.75" />
<line x1="652.75" y1="38.37" x2="656.51" y2="36.2" stroke="#dede58" stroke-width="0.75" />
<circle cx="652.75" cy="38.37" r="2.1" fill="#dede58" />
<line x1="618.4" y1="1.8" x2="618.4" y2="8.9" stroke="#94603a" stroke-width="0.95" />
<line x1="630.55" y1="1.8" x2="630.55" y2="8.9" stroke="#94603a" stroke-width="0.95" />
<line x1="642.7" y1="1.8" x2="642.7" y2="8.9" stroke="#94603a" stroke-width="0.95" />
<line x1="654.85" y1="1.8" x2="654.85" y2="8.9" stroke="#94603a" stroke-width="0.95" />
<line x1="618.4" y1="8.9" x2="612.32" y2="12.2" stroke="#94603a" stroke-width="0.95" />
<line x1="618.4" y1="8.9" x2="624.48" y2="12.2" stroke="#94603a" stroke-width="0.95" />
<line x1="630.55" y1="8.9" x2="624.48" y2="12.2" stroke="#94603a" stroke-width="0.95" />
<line x1="630.55" y1="8.9" x2="636.62" y2="12.2" stroke="#94603a" stroke-width="0.95" />
<line x1="642.7" y1="8.9" x2="636.62" y2="12.2" stroke="#94603a" stroke-width="0.95" />
<line x1="642.7" y1="8.9" x2="648.77" y2="12.2" stroke="#94603a" stroke-width="0.95" />
<line x1="654.85" y1="8.9" x2="648.77" y2="12.2" stroke="#94603a" stroke-width="0.95" />
<line x1="624.48" y1="12.2" x2="624.48" y2="19.3" stroke="#94603a" stroke-width="0.95" />
<line x1="636.62" y1="12.2" x2="636.62" y2="19.3" stroke="#94603a" stroke-width="0.95" />
<line x1="648.77" y1="12.2" x2="648.77" y2="19.3" stroke="#94603a" stroke-width="0.95" />
<line x1="624.48" y1="19.3" x2="618.4" y2="22.6" stroke="#94603a" stroke-width="0.95" />
<line x1="624.48" y1="19.3" x2="630.55" y2="22.6" stroke="#94603a" stroke-width="0.95" />
<line x1="636.62" y1="19.3" x2="630.55" y2="22.6" stroke="#94603a" stroke-width="0.95" />
<line x1="636.62" y1="19.3" x2="642.7" y2="22.6" stroke="#94603a" stroke-width="0.95" />
<line x1="648.77" y1="19.3" x2="642.7" y2="22.6" stroke="#94603a" stroke-width="0.95" />
<line x1="648.77" y1="19.3" x2="654.85" y2="22.6" stroke="#94603a" stroke-width="0.95" />
<line x1="660.92" y1="19.3" x2="654.85" y2="22.6" stroke="#94603a" stroke-width="0.95" />
<line x1="630.55" y1="22.6" x2="630.55" y2="29.7" stroke="#94603a" stroke-width="0.95" />
<line x1="642.7" y1="22.6" x2="642.7" y2="29.7" stroke="#94603a" stroke-width="0.95" />
<line x1="654.85" y1="22.6" x2="654.85" y2="29.7" stroke="#94603a" stroke-width="0.95" />
<line x1="630.55" y1="29.7" x2="624.48" y2="33" stroke="#94603a" stroke-width="0.95" />
<line x1="630.55" y1="29.7" x2="636.62" y2="33" stroke="#94603a" stroke-width="0.95" />
<line x1="642.7" y1="29.7" x2="636.62" y2="33" stroke="#94603a" stroke-width="0.95" />
<line x1="642.7" y1="29.7" x2="648.77" y2="33" stroke="#94603a" stroke-width="0.95" />
<line x1="654.85" y1="29.7" x2="648.77" y2="33" stroke="#94603a" stroke-width="0.95" />
<line x1="654.85" y1="29.7" x2="660.92" y2="33" stroke="#94603a" stroke-width="0.95" />
<line x1="667" y1="29.7" x2="660.92" y2="33" stroke="#94603a" stroke-width="0.95" />
<line x1="636.62" y1="33" x2="636.62" y2="40.1" stroke="#94603a" stroke-width="0.95" />
<line x1="648.77" y1="33" x2="648.77" y2="40.1" stroke="#94603a" stroke-width="0.95" />
<line x1="660.92" y1="33" x2="660.92" y2="40.1" stroke="#94603a" stroke-width="0.95" />
<circle cx="618.4" cy="1.8" r="1.35" fill="url(#gC)" stroke="#6a3c1e" stroke-width="0.25" />
<circle cx="630.55" cy="1.8" r="1.35" fill="url(#gC)" stroke="#6a3c1e" stroke-width="0.25" />
<circle cx="642.7" cy="1.8" r="1.35" fill="url(#gC)" stroke="#6a3c1e" stroke-width="0.25" />
<circle cx="654.85" cy="1.8" r="1.35" fill="url(#gC)" stroke="#6a3c1e" stroke-width="0.25" />
<circle cx="618.4" cy="8.9" r="1.35" fill="url(#gC)" stroke="#6a3c1e" stroke-width="0.25" />
<circle cx="630.55" cy="8.9" r="1.35" fill="url(#gC)" stroke="#6a3c1e" stroke-width="0.25" />
<circle cx="642.7" cy="8.9" r="1.35" fill="url(#gC)" stroke="#6a3c1e" stroke-width="0.25" />
<circle cx="654.85" cy="8.9" r="1.35" fill="url(#gC)" stroke="#6a3c1e" stroke-width="0.25" />
<circle cx="612.32" cy="12.2" r="1.35" fill="url(#gC)" stroke="#6a3c1e" stroke-width="0.25" />
<circle cx="624.48" cy="12.2" r="1.35" fill="url(#gC)" stroke="#6a3c1e" stroke-width="0.25" />
<circle cx="636.62" cy="12.2" r="1.35" fill="url(#gC)" stroke="#6a3c1e" stroke-width="0.25" />
<circle cx="648.77" cy="12.2" r="1.35" fill="url(#gC)" stroke="#6a3c1e" stroke-width="0.25" />
<circle cx="624.48" cy="19.3" r="1.35" fill="url(#gC)" stroke="#6a3c1e" stroke-width="0.25" />
<circle cx="636.62" cy="19.3" r="1.35" fill="url(#gC)" stroke="#6a3c1e" stroke-width="0.25" />
<circle cx="648.77" cy="19.3" r="1.35" fill="url(#gC)" stroke="#6a3c1e" stroke-width="0.25" />
<circle cx="660.92" cy="19.3" r="1.35" fill="url(#gC)" stroke="#6a3c1e" stroke-width="0.25" />
<circle cx="618.4" cy="22.6" r="1.35" fill="url(#gC)" stroke="#6a3c1e" stroke-width="0.25" />
<circle cx="630.55" cy="22.6" r="1.35" fill="url(#gC)" stroke="#6a3c1e" stroke-width="0.25" />
<circle cx="642.7" cy="22.6" r="1.35" fill="url(#gC)" stroke="#6a3c1e" stroke-width="0.25" />
<circle cx="654.85" cy="22.6" r="1.35" fill="url(#gC)" stroke="#6a3c1e" stroke-width="0.25" />
<circle cx="630.55" cy="29.7" r="1.35" fill="url(#gC)" stroke="#6a3c1e" stroke-width="0.25" />
<circle cx="642.7" cy="29.7" r="1.35" fill="url(#gC)" stroke="#6a3c1e" stroke-width="0.25" />
<circle cx="654.85" cy="29.7" r="1.35" fill="url(#gC)" stroke="#6a3c1e" stroke-width="0.25" />
<circle cx="667" cy="29.7" r="1.35" fill="url(#gC)" stroke="#6a3c1e" stroke-width="0.25" />
<circle cx="624.48" cy="33" r="1.35" fill="url(#gC)" stroke="#6a3c1e" stroke-width="0.25" />
<circle cx="636.62" cy="33" r="1.35" fill="url(#gC)" stroke="#6a3c1e" stroke-width="0.25" />
<circle cx="648.77" cy="33" r="1.35" fill="url(#gC)" stroke="#6a3c1e" stroke-width="0.25" />
<circle cx="660.92" cy="33" r="1.35" fill="url(#gC)" stroke="#6a3c1e" stroke-width="0.25" />
<circle cx="636.62" cy="40.1" r="1.35" fill="url(#gC)" stroke="#6a3c1e" stroke-width="0.25" />
<circle cx="648.77" cy="40.1" r="1.35" fill="url(#gC)" stroke="#6a3c1e" stroke-width="0.25" />
<circle cx="660.92" cy="40.1" r="1.35" fill="url(#gC)" stroke="#6a3c1e" stroke-width="0.25" />
<circle cx="621.44" cy="10.55" r="1.49" fill="#e8202e" />
<circle cx="633.59" cy="10.55" r="1.49" fill="#e8202e" />
<circle cx="645.74" cy="10.55" r="1.49" fill="#e8202e" />
<circle cx="627.51" cy="20.95" r="1.49" fill="#e8202e" />
<circle cx="639.66" cy="20.95" r="1.49" fill="#e8202e" />
<circle cx="651.81" cy="20.95" r="1.49" fill="#e8202e" />
<circle cx="633.59" cy="31.35" r="1.49" fill="#e8202e" />
<circle cx="645.74" cy="31.35" r="1.49" fill="#e8202e" />
<circle cx="657.89" cy="31.35" r="1.49" fill="#e8202e" />
<text x="641.4" y="51.9" font-size="8.2" text-anchor="middle" font-weight="bold" fill="#111" >SnS<tspan font-size="5.74" dy="1.64">2</tspan><tspan dy="-1.64">/GO</tspan></text>
</g>
<g>
<polygon points="495.5,264.5 537.6,264.5 558.65,300.96 516.55,300.96" fill="none" stroke="#9a9a9a" stroke-width="0.3" />
<line x1="506.02" y1="270.58" x2="500.24" y2="267.23" stroke="#dede58" stroke-width="0.75" />
<line x1="500.24" y1="267.23" x2="495.5" y2="264.5" stroke="#b5b3d0" stroke-width="0.6" />
<line x1="506.02" y1="270.58" x2="511.81" y2="267.23" stroke="#dede58" stroke-width="0.75" />
<line x1="511.81" y1="267.23" x2="516.55" y2="264.5" stroke="#b5b3d0" stroke-width="0.6" />
<line x1="506.02" y1="270.58" x2="506.02" y2="277.26" stroke="#dede58" stroke-width="0.75" />
<line x1="506.02" y1="277.26" x2="506.02" y2="282.73" stroke="#b5b3d0" stroke-width="0.6" />
<line x1="516.55" y1="276.65" x2="516.55" y2="269.97" stroke="#dada4a" stroke-width="0.75" />
<line x1="516.55" y1="269.97" x2="516.55" y2="264.5" stroke="#b5b3d0" stroke-width="0.6" />
<line x1="516.55" y1="276.65" x2="510.76" y2="280" stroke="#dada4a" stroke-width="0.75" />
<line x1="510.76" y1="280" x2="506.02" y2="282.73" stroke="#b5b3d0" stroke-width="0.6" />
<line x1="516.55" y1="276.65" x2="522.34" y2="280" stroke="#dada4a" stroke-width="0.75" />
<line x1="522.34" y1="280" x2="527.07" y2="282.73" stroke="#b5b3d0" stroke-width="0.6" />
<line x1="527.07" y1="270.58" x2="521.29" y2="267.23" stroke="#dede58" stroke-width="0.75" />
<line x1="521.29" y1="267.23" x2="516.55" y2="264.5" stroke="#b5b3d0" stroke-width="0.6" />
<line x1="527.07" y1="270.58" x2="532.86" y2="267.23" stroke="#dede58" stroke-width="0.75" />
<line x1="532.86" y1="267.23" x2="537.6" y2="264.5" stroke="#b5b3d0" stroke-width="0.6" />
<line x1="527.07" y1="270.58" x2="527.07" y2="277.26" stroke="#dede58" stroke-width="0.75" />
<line x1="527.07" y1="277.26" x2="527.07" y2="282.73" stroke="#b5b3d0" stroke-width="0.6" />
<line x1="537.6" y1="276.65" x2="537.6" y2="269.97" stroke="#dada4a" stroke-width="0.75" />
<line x1="537.6" y1="269.97" x2="537.6" y2="264.5" stroke="#b5b3d0" stroke-width="0.6" />
<line x1="537.6" y1="276.65" x2="531.81" y2="280" stroke="#dada4a" stroke-width="0.75" />
<line x1="531.81" y1="280" x2="527.07" y2="282.73" stroke="#b5b3d0" stroke-width="0.6" />
<line x1="537.6" y1="276.65" x2="543.39" y2="280" stroke="#dada4a" stroke-width="0.75" />
<line x1="543.39" y1="280" x2="548.12" y2="282.73" stroke="#b5b3d0" stroke-width="0.6" />
<line x1="516.55" y1="288.81" x2="510.76" y2="285.46" stroke="#dede58" stroke-width="0.75" />
<line x1="510.76" y1="285.46" x2="506.02" y2="282.73" stroke="#b5b3d0" stroke-width="0.6" />
<line x1="516.55" y1="288.81" x2="522.34" y2="285.46" stroke="#dede58" stroke-width="0.75" />
<line x1="522.34" y1="285.46" x2="527.07" y2="282.73" stroke="#b5b3d0" stroke-width="0.6" />
<line x1="516.55" y1="288.81" x2="516.55" y2="295.49" stroke="#dede58" stroke-width="0.75" />
<line x1="516.55" y1="295.49" x2="516.55" y2="300.96" stroke="#b5b3d0" stroke-width="0.6" />
<line x1="527.07" y1="294.88" x2="527.07" y2="288.2" stroke="#dada4a" stroke-width="0.75" />
<line x1="527.07" y1="288.2" x2="527.07" y2="282.73" stroke="#b5b3d0" stroke-width="0.6" />
<line x1="527.07" y1="294.88" x2="521.29" y2="298.23" stroke="#dada4a" stroke-width="0.75" />
<line x1="521.29" y1="298.23" x2="516.55" y2="300.96" stroke="#b5b3d0" stroke-width="0.6" />
<line x1="527.07" y1="294.88" x2="532.86" y2="298.23" stroke="#dada4a" stroke-width="0.75" />
<line x1="532.86" y1="298.23" x2="537.6" y2="300.96" stroke="#b5b3d0" stroke-width="0.6" />
<line x1="537.6" y1="288.81" x2="531.81" y2="285.46" stroke="#dede58" stroke-width="0.75" />
<line x1="531.81" y1="285.46" x2="527.07" y2="282.73" stroke="#b5b3d0" stroke-width="0.6" />
<line x1="537.6" y1="288.81" x2="543.39" y2="285.46" stroke="#dede58" stroke-width="0.75" />
<line x1="543.39" y1="285.46" x2="548.12" y2="282.73" stroke="#b5b3d0" stroke-width="0.6" />
<line x1="537.6" y1="288.81" x2="537.6" y2="295.49" stroke="#dede58" stroke-width="0.75" />
<line x1="537.6" y1="295.49" x2="537.6" y2="300.96" stroke="#b5b3d0" stroke-width="0.6" />
<line x1="548.12" y1="294.88" x2="548.12" y2="288.2" stroke="#dada4a" stroke-width="0.75" />
<line x1="548.12" y1="288.2" x2="548.12" y2="282.73" stroke="#b5b3d0" stroke-width="0.6" />
<line x1="548.12" y1="294.88" x2="542.34" y2="298.23" stroke="#dada4a" stroke-width="0.75" />
<line x1="542.34" y1="298.23" x2="537.6" y2="300.96" stroke="#b5b3d0" stroke-width="0.6" />
<line x1="548.12" y1="294.88" x2="553.91" y2="298.23" stroke="#dada4a" stroke-width="0.75" />
<line x1="553.91" y1="298.23" x2="558.65" y2="300.96" stroke="#b5b3d0" stroke-width="0.6" />
<circle cx="495.5" cy="264.5" r="3.6" fill="url(#gSnT)" stroke="#7f7ca8" stroke-width="0.3" />
<circle cx="516.55" cy="264.5" r="3.6" fill="url(#gSnT)" stroke="#7f7ca8" stroke-width="0.3" />
<circle cx="537.6" cy="264.5" r="3.6" fill="url(#gSnT)" stroke="#7f7ca8" stroke-width="0.3" />
<circle cx="506.02" cy="282.73" r="3.6" fill="url(#gSnT)" stroke="#7f7ca8" stroke-width="0.3" />
<circle cx="527.07" cy="282.73" r="3.6" fill="url(#gSnT)" stroke="#7f7ca8" stroke-width="0.3" />
<circle cx="548.12" cy="282.73" r="3.6" fill="url(#gSnT)" stroke="#7f7ca8" stroke-width="0.3" />
<circle cx="516.55" cy="300.96" r="3.6" fill="url(#gSnT)" stroke="#7f7ca8" stroke-width="0.3" />
<circle cx="537.6" cy="300.96" r="3.6" fill="url(#gSnT)" stroke="#7f7ca8" stroke-width="0.3" />
<circle cx="558.65" cy="300.96" r="3.6" fill="url(#gSnT)" stroke="#7f7ca8" stroke-width="0.3" />
<line x1="506.02" y1="270.58" x2="501.6" y2="268.02" stroke="#dede58" stroke-width="0.75" />
<line x1="506.02" y1="270.58" x2="510.45" y2="268.02" stroke="#dede58" stroke-width="0.75" />
<line x1="506.02" y1="270.58" x2="506.02" y2="275.68" stroke="#dede58" stroke-width="0.75" />
<circle cx="506.02" cy="270.58" r="2.1" fill="#dede58" />
<line x1="516.55" y1="276.65" x2="516.55" y2="271.55" stroke="#dada4a" stroke-width="0.75" />
<line x1="516.55" y1="276.65" x2="512.13" y2="279.21" stroke="#dada4a" stroke-width="0.75" />
<line x1="516.55" y1="276.65" x2="520.97" y2="279.21" stroke="#dada4a" stroke-width="0.75" />
<circle cx="516.55" cy="276.65" r="2.1" fill="#dada4a" />
<line x1="527.07" y1="270.58" x2="522.65" y2="268.02" stroke="#dede58" stroke-width="0.75" />
<line x1="527.07" y1="270.58" x2="531.5" y2="268.02" stroke="#dede58" stroke-width="0.75" />
<line x1="527.07" y1="270.58" x2="527.07" y2="275.68" stroke="#dede58" stroke-width="0.75" />
<circle cx="527.07" cy="270.58" r="2.1" fill="#dede58" />
<line x1="537.6" y1="276.65" x2="537.6" y2="271.55" stroke="#dada4a" stroke-width="0.75" />
<line x1="537.6" y1="276.65" x2="533.18" y2="279.21" stroke="#dada4a" stroke-width="0.75" />
<line x1="537.6" y1="276.65" x2="542.02" y2="279.21" stroke="#dada4a" stroke-width="0.75" />
<circle cx="537.6" cy="276.65" r="2.1" fill="#dada4a" />
<line x1="516.55" y1="288.81" x2="512.13" y2="286.25" stroke="#dede58" stroke-width="0.75" />
<line x1="516.55" y1="288.81" x2="520.97" y2="286.25" stroke="#dede58" stroke-width="0.75" />
<line x1="516.55" y1="288.81" x2="516.55" y2="293.91" stroke="#dede58" stroke-width="0.75" />
<circle cx="516.55" cy="288.81" r="2.1" fill="#dede58" />
<line x1="527.07" y1="294.88" x2="527.07" y2="289.78" stroke="#dada4a" stroke-width="0.75" />
<line x1="527.07" y1="294.88" x2="522.65" y2="297.44" stroke="#dada4a" stroke-width="0.75" />
<line x1="527.07" y1="294.88" x2="531.5" y2="297.44" stroke="#dada4a" stroke-width="0.75" />
<circle cx="527.07" cy="294.88" r="2.1" fill="#dada4a" />
<line x1="537.6" y1="288.81" x2="533.18" y2="286.25" stroke="#dede58" stroke-width="0.75" />
<line x1="537.6" y1="288.81" x2="542.02" y2="286.25" stroke="#dede58" stroke-width="0.75" />
<line x1="537.6" y1="288.81" x2="537.6" y2="293.91" stroke="#dede58" stroke-width="0.75" />
<circle cx="537.6" cy="288.81" r="2.1" fill="#dede58" />
<line x1="548.12" y1="294.88" x2="548.12" y2="289.78" stroke="#dada4a" stroke-width="0.75" />
<line x1="548.12" y1="294.88" x2="543.7" y2="297.44" stroke="#dada4a" stroke-width="0.75" />
<line x1="548.12" y1="294.88" x2="552.55" y2="297.44" stroke="#dada4a" stroke-width="0.75" />
<circle cx="548.12" cy="294.88" r="2.1" fill="#dada4a" />
<circle cx="515" cy="288.5" r="3.8" fill="#1c7cc8" />
<circle cx="522.2" cy="285.5" r="3.8" fill="#1c7cc8" />
<circle cx="527.7" cy="280.6" r="3.8" fill="#1c7cc8" />
<circle cx="533.6" cy="286.4" r="3.8" fill="#1c7cc8" />
<circle cx="538" cy="288.5" r="3.8" fill="#1c7cc8" />
<circle cx="515" cy="288.5" r="2.28" fill="#2a9be0" />
<circle cx="522.2" cy="285.5" r="2.28" fill="#2a9be0" />
<circle cx="527.7" cy="280.6" r="2.28" fill="#2a9be0" />
<circle cx="533.6" cy="286.4" r="2.28" fill="#2a9be0" />
<circle cx="538" cy="288.5" r="2.28" fill="#2a9be0" />
<text x="515" y="289.8" font-size="3.6" text-anchor="middle" font-weight="bold" fill="#0a2a4a" >1</text>
<text x="522.2" y="286.8" font-size="3.6" text-anchor="middle" font-weight="bold" fill="#0a2a4a" >2</text>
<text x="527.7" y="281.9" font-size="3.6" text-anchor="middle" font-weight="bold" fill="#0a2a4a" >3</text>
<text x="533.6" y="287.7" font-size="3.6" text-anchor="middle" font-weight="bold" fill="#0a2a4a" >4</text>
<text x="538" y="289.8" font-size="3.6" text-anchor="middle" font-weight="bold" fill="#0a2a4a" >5</text>
<line x1="502.94" y1="261.07" x2="502.94" y2="269.17" stroke="#94603a" stroke-width="1" />
<line x1="516.91" y1="261.07" x2="516.91" y2="269.17" stroke="#94603a" stroke-width="1" />
<line x1="530.89" y1="261.07" x2="530.89" y2="269.17" stroke="#94603a" stroke-width="1" />
<line x1="502.94" y1="269.17" x2="496.08" y2="273.18" stroke="#94603a" stroke-width="1" />
<line x1="502.94" y1="269.17" x2="510.02" y2="273.18" stroke="#94603a" stroke-width="1" />
<line x1="516.91" y1="269.17" x2="510.02" y2="273.18" stroke="#94603a" stroke-width="1" />
<line x1="516.91" y1="269.17" x2="524.03" y2="273.18" stroke="#94603a" stroke-width="1" />
<line x1="530.89" y1="269.17" x2="524.03" y2="273.18" stroke="#94603a" stroke-width="1" />
<line x1="530.89" y1="269.17" x2="537.96" y2="273.18" stroke="#94603a" stroke-width="1" />
<line x1="545.12" y1="269.17" x2="537.96" y2="273.18" stroke="#94603a" stroke-width="1" />
<line x1="510.02" y1="273.18" x2="510.02" y2="280.99" stroke="#94603a" stroke-width="1" />
<line x1="524.03" y1="273.18" x2="524.03" y2="280.99" stroke="#94603a" stroke-width="1" />
<line x1="537.96" y1="273.18" x2="537.96" y2="280.99" stroke="#94603a" stroke-width="1" />
<line x1="510.02" y1="280.99" x2="503.23" y2="285" stroke="#94603a" stroke-width="1" />
<line x1="510.02" y1="280.99" x2="517.17" y2="285" stroke="#94603a" stroke-width="1" />
<line x1="524.03" y1="280.99" x2="517.17" y2="285" stroke="#94603a" stroke-width="1" />
<line x1="524.03" y1="280.99" x2="531.11" y2="285" stroke="#94603a" stroke-width="1" />
<line x1="537.96" y1="280.99" x2="531.11" y2="285" stroke="#94603a" stroke-width="1" />
<line x1="537.96" y1="280.99" x2="545.33" y2="285" stroke="#94603a" stroke-width="1" />
<line x1="552.19" y1="280.99" x2="545.33" y2="285" stroke="#94603a" stroke-width="1" />
<line x1="517.17" y1="285" x2="517.17" y2="292.96" stroke="#94603a" stroke-width="1" />
<line x1="531.11" y1="285" x2="531.11" y2="292.96" stroke="#94603a" stroke-width="1" />
<line x1="545.33" y1="285" x2="545.33" y2="292.96" stroke="#94603a" stroke-width="1" />
<line x1="517.17" y1="292.96" x2="510.6" y2="296.97" stroke="#94603a" stroke-width="1" />
<line x1="517.17" y1="292.96" x2="524.54" y2="296.97" stroke="#94603a" stroke-width="1" />
<line x1="531.11" y1="292.96" x2="524.54" y2="296.97" stroke="#94603a" stroke-width="1" />
<line x1="531.11" y1="292.96" x2="538.55" y2="296.97" stroke="#94603a" stroke-width="1" />
<line x1="545.33" y1="292.96" x2="538.55" y2="296.97" stroke="#94603a" stroke-width="1" />
<line x1="545.33" y1="292.96" x2="552.48" y2="296.97" stroke="#94603a" stroke-width="1" />
<line x1="559.34" y1="292.96" x2="552.48" y2="296.97" stroke="#94603a" stroke-width="1" />
<line x1="524.54" y1="296.97" x2="524.54" y2="304.78" stroke="#94603a" stroke-width="1" />
<line x1="538.55" y1="296.97" x2="538.55" y2="304.78" stroke="#94603a" stroke-width="1" />
<line x1="552.48" y1="296.97" x2="552.48" y2="304.78" stroke="#94603a" stroke-width="1" />
<circle cx="502.94" cy="261.07" r="1.3" fill="url(#gC)" stroke="#6a3c1e" stroke-width="0.25" />
<circle cx="516.91" cy="261.07" r="1.3" fill="url(#gC)" stroke="#6a3c1e" stroke-width="0.25" />
<circle cx="530.89" cy="261.07" r="1.3" fill="url(#gC)" stroke="#6a3c1e" stroke-width="0.25" />
<circle cx="502.94" cy="269.17" r="1.3" fill="url(#gC)" stroke="#6a3c1e" stroke-width="0.25" />
<circle cx="516.91" cy="269.17" r="1.3" fill="url(#gC)" stroke="#6a3c1e" stroke-width="0.25" />
<circle cx="530.89" cy="269.17" r="1.3" fill="url(#gC)" stroke="#6a3c1e" stroke-width="0.25" />
<circle cx="545.12" cy="269.17" r="1.3" fill="url(#gC)" stroke="#6a3c1e" stroke-width="0.25" />
<circle cx="496.08" cy="273.18" r="1.3" fill="url(#gC)" stroke="#6a3c1e" stroke-width="0.25" />
<circle cx="510.02" cy="273.18" r="1.3" fill="url(#gC)" stroke="#6a3c1e" stroke-width="0.25" />
<circle cx="524.03" cy="273.18" r="1.3" fill="url(#gC)" stroke="#6a3c1e" stroke-width="0.25" />
<circle cx="537.96" cy="273.18" r="1.3" fill="url(#gC)" stroke="#6a3c1e" stroke-width="0.25" />
<circle cx="510.02" cy="280.99" r="1.3" fill="url(#gC)" stroke="#6a3c1e" stroke-width="0.25" />
<circle cx="524.03" cy="280.99" r="1.3" fill="url(#gC)" stroke="#6a3c1e" stroke-width="0.25" />
<circle cx="537.96" cy="280.99" r="1.3" fill="url(#gC)" stroke="#6a3c1e" stroke-width="0.25" />
<circle cx="552.19" cy="280.99" r="1.3" fill="url(#gC)" stroke="#6a3c1e" stroke-width="0.25" />
<circle cx="503.23" cy="285" r="1.3" fill="url(#gC)" stroke="#6a3c1e" stroke-width="0.25" />
<circle cx="517.17" cy="285" r="1.3" fill="url(#gC)" stroke="#6a3c1e" stroke-width="0.25" />
<circle cx="531.11" cy="285" r="1.3" fill="url(#gC)" stroke="#6a3c1e" stroke-width="0.25" />
<circle cx="545.33" cy="285" r="1.3" fill="url(#gC)" stroke="#6a3c1e" stroke-width="0.25" />
<circle cx="517.17" cy="292.96" r="1.3" fill="url(#gC)" stroke="#6a3c1e" stroke-width="0.25" />
<circle cx="531.11" cy="292.96" r="1.3" fill="url(#gC)" stroke="#6a3c1e" stroke-width="0.25" />
<circle cx="545.33" cy="292.96" r="1.3" fill="url(#gC)" stroke="#6a3c1e" stroke-width="0.25" />
<circle cx="559.34" cy="292.96" r="1.3" fill="url(#gC)" stroke="#6a3c1e" stroke-width="0.25" />
<circle cx="510.6" cy="296.97" r="1.3" fill="url(#gC)" stroke="#6a3c1e" stroke-width="0.25" />
<circle cx="524.54" cy="296.97" r="1.3" fill="url(#gC)" stroke="#6a3c1e" stroke-width="0.25" />
<circle cx="538.55" cy="296.97" r="1.3" fill="url(#gC)" stroke="#6a3c1e" stroke-width="0.25" />
<circle cx="552.48" cy="296.97" r="1.3" fill="url(#gC)" stroke="#6a3c1e" stroke-width="0.25" />
<circle cx="524.54" cy="304.78" r="1.3" fill="url(#gC)" stroke="#6a3c1e" stroke-width="0.25" />
<circle cx="538.55" cy="304.78" r="1.3" fill="url(#gC)" stroke="#6a3c1e" stroke-width="0.25" />
<circle cx="552.48" cy="304.78" r="1.3" fill="url(#gC)" stroke="#6a3c1e" stroke-width="0.25" />
<text x="529.9" y="314.4" font-size="6" text-anchor="middle" font-weight="bold" fill="#111" >SnS<tspan font-size="4.2" dy="1.2">2</tspan><tspan dy="-1.2">/G</tspan></text>
<line x1="503" y1="308.5" x2="509.5" y2="308.5" stroke="#e0182a" stroke-width="1.2" />
<polygon points="508.4,306.8 512,308.5 508.4,310.2" fill="#e0182a" />
<line x1="503" y1="308.5" x2="499" y2="301.57" stroke="#22b04a" stroke-width="1.2" />
<polygon points="497.2,298.45 500.47,300.72 497.53,302.42" fill="#22b04a" />
<circle cx="503" cy="308.5" r="1.3" fill="#1a1a8c" />
<text x="513.5" y="309.5" font-size="3" text-anchor="start" font-weight="bold" fill="#222" >a</text>
<text x="496.2" y="297.65" font-size="3" text-anchor="middle" font-weight="bold" fill="#222" >b</text>
</g><g>
<polygon points="566.6,264.5 608.7,264.5 629.75,300.96 587.65,300.96" fill="none" stroke="#9a9a9a" stroke-width="0.3" />
<line x1="577.12" y1="270.58" x2="571.34" y2="267.23" stroke="#dede58" stroke-width="0.75" />
<line x1="571.34" y1="267.23" x2="566.6" y2="264.5" stroke="#b5b3d0" stroke-width="0.6" />
<line x1="577.12" y1="270.58" x2="582.91" y2="267.23" stroke="#dede58" stroke-width="0.75" />
<line x1="582.91" y1="267.23" x2="587.65" y2="264.5" stroke="#b5b3d0" stroke-width="0.6" />
<line x1="577.12" y1="270.58" x2="577.12" y2="277.26" stroke="#dede58" stroke-width="0.75" />
<line x1="577.12" y1="277.26" x2="577.12" y2="282.73" stroke="#b5b3d0" stroke-width="0.6" />
<line x1="587.65" y1="276.65" x2="587.65" y2="269.97" stroke="#dada4a" stroke-width="0.75" />
<line x1="587.65" y1="269.97" x2="587.65" y2="264.5" stroke="#b5b3d0" stroke-width="0.6" />
<line x1="587.65" y1="276.65" x2="581.86" y2="280" stroke="#dada4a" stroke-width="0.75" />
<line x1="581.86" y1="280" x2="577.12" y2="282.73" stroke="#b5b3d0" stroke-width="0.6" />
<line x1="587.65" y1="276.65" x2="593.44" y2="280" stroke="#dada4a" stroke-width="0.75" />
<line x1="593.44" y1="280" x2="598.17" y2="282.73" stroke="#b5b3d0" stroke-width="0.6" />
<line x1="598.18" y1="270.58" x2="592.39" y2="267.23" stroke="#dede58" stroke-width="0.75" />
<line x1="592.39" y1="267.23" x2="587.65" y2="264.5" stroke="#b5b3d0" stroke-width="0.6" />
<line x1="598.18" y1="270.58" x2="603.96" y2="267.23" stroke="#dede58" stroke-width="0.75" />
<line x1="603.96" y1="267.23" x2="608.7" y2="264.5" stroke="#b5b3d0" stroke-width="0.6" />
<line x1="598.18" y1="270.58" x2="598.17" y2="277.26" stroke="#dede58" stroke-width="0.75" />
<line x1="598.17" y1="277.26" x2="598.17" y2="282.73" stroke="#b5b3d0" stroke-width="0.6" />
<line x1="608.7" y1="276.65" x2="608.7" y2="269.97" stroke="#dada4a" stroke-width="0.75" />
<line x1="608.7" y1="269.97" x2="608.7" y2="264.5" stroke="#b5b3d0" stroke-width="0.6" />
<line x1="608.7" y1="276.65" x2="602.91" y2="280" stroke="#dada4a" stroke-width="0.75" />
<line x1="602.91" y1="280" x2="598.17" y2="282.73" stroke="#b5b3d0" stroke-width="0.6" />
<line x1="608.7" y1="276.65" x2="614.49" y2="280" stroke="#dada4a" stroke-width="0.75" />
<line x1="614.49" y1="280" x2="619.23" y2="282.73" stroke="#b5b3d0" stroke-width="0.6" />
<line x1="587.65" y1="288.81" x2="581.86" y2="285.46" stroke="#dede58" stroke-width="0.75" />
<line x1="581.86" y1="285.46" x2="577.12" y2="282.73" stroke="#b5b3d0" stroke-width="0.6" />
<line x1="587.65" y1="288.81" x2="593.44" y2="285.46" stroke="#dede58" stroke-width="0.75" />
<line x1="593.44" y1="285.46" x2="598.17" y2="282.73" stroke="#b5b3d0" stroke-width="0.6" />
<line x1="587.65" y1="288.81" x2="587.65" y2="295.49" stroke="#dede58" stroke-width="0.75" />
<line x1="587.65" y1="295.49" x2="587.65" y2="300.96" stroke="#b5b3d0" stroke-width="0.6" />
<line x1="598.17" y1="294.88" x2="598.17" y2="288.2" stroke="#dada4a" stroke-width="0.75" />
<line x1="598.17" y1="288.2" x2="598.17" y2="282.73" stroke="#b5b3d0" stroke-width="0.6" />
<line x1="598.17" y1="294.88" x2="592.39" y2="298.23" stroke="#dada4a" stroke-width="0.75" />
<line x1="592.39" y1="298.23" x2="587.65" y2="300.96" stroke="#b5b3d0" stroke-width="0.6" />
<line x1="598.17" y1="294.88" x2="603.96" y2="298.23" stroke="#dada4a" stroke-width="0.75" />
<line x1="603.96" y1="298.23" x2="608.7" y2="300.96" stroke="#b5b3d0" stroke-width="0.6" />
<line x1="608.7" y1="288.81" x2="602.91" y2="285.46" stroke="#dede58" stroke-width="0.75" />
<line x1="602.91" y1="285.46" x2="598.17" y2="282.73" stroke="#b5b3d0" stroke-width="0.6" />
<line x1="608.7" y1="288.81" x2="614.49" y2="285.46" stroke="#dede58" stroke-width="0.75" />
<line x1="614.49" y1="285.46" x2="619.23" y2="282.73" stroke="#b5b3d0" stroke-width="0.6" />
<line x1="608.7" y1="288.81" x2="608.7" y2="295.49" stroke="#dede58" stroke-width="0.75" />
<line x1="608.7" y1="295.49" x2="608.7" y2="300.96" stroke="#b5b3d0" stroke-width="0.6" />
<line x1="619.23" y1="294.88" x2="619.23" y2="288.2" stroke="#dada4a" stroke-width="0.75" />
<line x1="619.23" y1="288.2" x2="619.23" y2="282.73" stroke="#b5b3d0" stroke-width="0.6" />
<line x1="619.23" y1="294.88" x2="613.44" y2="298.23" stroke="#dada4a" stroke-width="0.75" />
<line x1="613.44" y1="298.23" x2="608.7" y2="300.96" stroke="#b5b3d0" stroke-width="0.6" />
<line x1="619.23" y1="294.88" x2="625.01" y2="298.23" stroke="#dada4a" stroke-width="0.75" />
<line x1="625.01" y1="298.23" x2="629.75" y2="300.96" stroke="#b5b3d0" stroke-width="0.6" />
<circle cx="566.6" cy="264.5" r="3.6" fill="url(#gSnT)" stroke="#7f7ca8" stroke-width="0.3" />
<circle cx="587.65" cy="264.5" r="3.6" fill="url(#gSnT)" stroke="#7f7ca8" stroke-width="0.3" />
<circle cx="608.7" cy="264.5" r="3.6" fill="url(#gSnT)" stroke="#7f7ca8" stroke-width="0.3" />
<circle cx="577.12" cy="282.73" r="3.6" fill="url(#gSnT)" stroke="#7f7ca8" stroke-width="0.3" />
<circle cx="598.17" cy="282.73" r="3.6" fill="url(#gSnT)" stroke="#7f7ca8" stroke-width="0.3" />
<circle cx="619.23" cy="282.73" r="3.6" fill="url(#gSnT)" stroke="#7f7ca8" stroke-width="0.3" />
<circle cx="587.65" cy="300.96" r="3.6" fill="url(#gSnT)" stroke="#7f7ca8" stroke-width="0.3" />
<circle cx="608.7" cy="300.96" r="3.6" fill="url(#gSnT)" stroke="#7f7ca8" stroke-width="0.3" />
<circle cx="629.75" cy="300.96" r="3.6" fill="url(#gSnT)" stroke="#7f7ca8" stroke-width="0.3" />
<line x1="577.12" y1="270.58" x2="572.7" y2="268.02" stroke="#dede58" stroke-width="0.75" />
<line x1="577.12" y1="270.58" x2="581.55" y2="268.02" stroke="#dede58" stroke-width="0.75" />
<line x1="577.12" y1="270.58" x2="577.12" y2="275.68" stroke="#dede58" stroke-width="0.75" />
<circle cx="577.12" cy="270.58" r="2.1" fill="#dede58" />
<line x1="587.65" y1="276.65" x2="587.65" y2="271.55" stroke="#dada4a" stroke-width="0.75" />
<line x1="587.65" y1="276.65" x2="583.23" y2="279.21" stroke="#dada4a" stroke-width="0.75" />
<line x1="587.65" y1="276.65" x2="592.07" y2="279.21" stroke="#dada4a" stroke-width="0.75" />
<circle cx="587.65" cy="276.65" r="2.1" fill="#dada4a" />
<line x1="598.18" y1="270.58" x2="593.75" y2="268.02" stroke="#dede58" stroke-width="0.75" />
<line x1="598.18" y1="270.58" x2="602.6" y2="268.02" stroke="#dede58" stroke-width="0.75" />
<line x1="598.18" y1="270.58" x2="598.18" y2="275.68" stroke="#dede58" stroke-width="0.75" />
<circle cx="598.18" cy="270.58" r="2.1" fill="#dede58" />
<line x1="608.7" y1="276.65" x2="608.7" y2="271.55" stroke="#dada4a" stroke-width="0.75" />
<line x1="608.7" y1="276.65" x2="604.28" y2="279.21" stroke="#dada4a" stroke-width="0.75" />
<line x1="608.7" y1="276.65" x2="613.12" y2="279.21" stroke="#dada4a" stroke-width="0.75" />
<circle cx="608.7" cy="276.65" r="2.1" fill="#dada4a" />
<line x1="587.65" y1="288.81" x2="583.23" y2="286.25" stroke="#dede58" stroke-width="0.75" />
<line x1="587.65" y1="288.81" x2="592.07" y2="286.25" stroke="#dede58" stroke-width="0.75" />
<line x1="587.65" y1="288.81" x2="587.65" y2="293.91" stroke="#dede58" stroke-width="0.75" />
<circle cx="587.65" cy="288.81" r="2.1" fill="#dede58" />
<line x1="598.17" y1="294.88" x2="598.17" y2="289.78" stroke="#dada4a" stroke-width="0.75" />
<line x1="598.17" y1="294.88" x2="593.75" y2="297.44" stroke="#dada4a" stroke-width="0.75" />
<line x1="598.17" y1="294.88" x2="602.6" y2="297.44" stroke="#dada4a" stroke-width="0.75" />
<circle cx="598.17" cy="294.88" r="2.1" fill="#dada4a" />
<line x1="608.7" y1="288.81" x2="604.28" y2="286.25" stroke="#dede58" stroke-width="0.75" />
<line x1="608.7" y1="288.81" x2="613.12" y2="286.25" stroke="#dede58" stroke-width="0.75" />
<line x1="608.7" y1="288.81" x2="608.7" y2="293.91" stroke="#dede58" stroke-width="0.75" />
<circle cx="608.7" cy="288.81" r="2.1" fill="#dede58" />
<line x1="619.23" y1="294.88" x2="619.23" y2="289.78" stroke="#dada4a" stroke-width="0.75" />
<line x1="619.23" y1="294.88" x2="614.8" y2="297.44" stroke="#dada4a" stroke-width="0.75" />
<line x1="619.23" y1="294.88" x2="623.65" y2="297.44" stroke="#dada4a" stroke-width="0.75" />
<circle cx="619.23" cy="294.88" r="2.1" fill="#dada4a" />
<circle cx="586.1" cy="288.5" r="3.8" fill="#1c7cc8" />
<circle cx="593.3" cy="285.5" r="3.8" fill="#1c7cc8" />
<circle cx="598.8" cy="280.6" r="3.8" fill="#1c7cc8" />
<circle cx="604.7" cy="286.4" r="3.8" fill="#1c7cc8" />
<circle cx="609.1" cy="288.5" r="3.8" fill="#1c7cc8" />
<circle cx="586.1" cy="288.5" r="2.28" fill="#2a9be0" />
<circle cx="593.3" cy="285.5" r="2.28" fill="#2a9be0" />
<circle cx="598.8" cy="280.6" r="2.28" fill="#2a9be0" />
<circle cx="604.7" cy="286.4" r="2.28" fill="#2a9be0" />
<circle cx="609.1" cy="288.5" r="2.28" fill="#2a9be0" />
<text x="586.1" y="289.8" font-size="3.6" text-anchor="middle" font-weight="bold" fill="#0a2a4a" >1</text>
<text x="593.3" y="286.8" font-size="3.6" text-anchor="middle" font-weight="bold" fill="#0a2a4a" >2</text>
<text x="598.8" y="281.9" font-size="3.6" text-anchor="middle" font-weight="bold" fill="#0a2a4a" >3</text>
<text x="604.7" y="287.7" font-size="3.6" text-anchor="middle" font-weight="bold" fill="#0a2a4a" >4</text>
<text x="609.1" y="289.8" font-size="3.6" text-anchor="middle" font-weight="bold" fill="#0a2a4a" >5</text>
<line x1="574.04" y1="261.07" x2="574.04" y2="269.17" stroke="#94603a" stroke-width="1" />
<line x1="588.01" y1="261.07" x2="588.01" y2="269.17" stroke="#94603a" stroke-width="1" />
<line x1="601.99" y1="261.07" x2="601.99" y2="269.17" stroke="#94603a" stroke-width="1" />
<line x1="574.04" y1="269.17" x2="567.18" y2="273.18" stroke="#94603a" stroke-width="1" />
<line x1="574.04" y1="269.17" x2="581.12" y2="273.18" stroke="#94603a" stroke-width="1" />
<line x1="588.01" y1="269.17" x2="581.12" y2="273.18" stroke="#94603a" stroke-width="1" />
<line x1="588.01" y1="269.17" x2="595.13" y2="273.18" stroke="#94603a" stroke-width="1" />
<line x1="601.99" y1="269.17" x2="595.13" y2="273.18" stroke="#94603a" stroke-width="1" />
<line x1="601.99" y1="269.17" x2="609.06" y2="273.18" stroke="#94603a" stroke-width="1" />
<line x1="616.22" y1="269.17" x2="609.06" y2="273.18" stroke="#94603a" stroke-width="1" />
<line x1="581.12" y1="273.18" x2="581.12" y2="280.99" stroke="#94603a" stroke-width="1" />
<line x1="595.13" y1="273.18" x2="595.13" y2="280.99" stroke="#94603a" stroke-width="1" />
<line x1="609.06" y1="273.18" x2="609.06" y2="280.99" stroke="#94603a" stroke-width="1" />
<line x1="581.12" y1="280.99" x2="574.33" y2="285" stroke="#94603a" stroke-width="1" />
<line x1="581.12" y1="280.99" x2="588.27" y2="285" stroke="#94603a" stroke-width="1" />
<line x1="595.13" y1="280.99" x2="588.27" y2="285" stroke="#94603a" stroke-width="1" />
<line x1="595.13" y1="280.99" x2="602.21" y2="285" stroke="#94603a" stroke-width="1" />
<line x1="609.06" y1="280.99" x2="602.21" y2="285" stroke="#94603a" stroke-width="1" />
<line x1="609.06" y1="280.99" x2="616.43" y2="285" stroke="#94603a" stroke-width="1" />
<line x1="623.29" y1="280.99" x2="616.43" y2="285" stroke="#94603a" stroke-width="1" />
<line x1="588.27" y1="285" x2="588.27" y2="292.96" stroke="#94603a" stroke-width="1" />
<line x1="602.21" y1="285" x2="602.21" y2="292.96" stroke="#94603a" stroke-width="1" />
<line x1="616.43" y1="285" x2="616.43" y2="292.96" stroke="#94603a" stroke-width="1" />
<line x1="588.27" y1="292.96" x2="581.7" y2="296.97" stroke="#94603a" stroke-width="1" />
<line x1="588.27" y1="292.96" x2="595.64" y2="296.97" stroke="#94603a" stroke-width="1" />
<line x1="602.21" y1="292.96" x2="595.64" y2="296.97" stroke="#94603a" stroke-width="1" />
<line x1="602.21" y1="292.96" x2="609.65" y2="296.97" stroke="#94603a" stroke-width="1" />
<line x1="616.43" y1="292.96" x2="609.65" y2="296.97" stroke="#94603a" stroke-width="1" />
<line x1="616.43" y1="292.96" x2="623.58" y2="296.97" stroke="#94603a" stroke-width="1" />
<line x1="630.44" y1="292.96" x2="623.58" y2="296.97" stroke="#94603a" stroke-width="1" />
<line x1="595.64" y1="296.97" x2="595.64" y2="304.78" stroke="#94603a" stroke-width="1" />
<line x1="609.65" y1="296.97" x2="609.65" y2="304.78" stroke="#94603a" stroke-width="1" />
<line x1="623.58" y1="296.97" x2="623.58" y2="304.78" stroke="#94603a" stroke-width="1" />
<circle cx="574.04" cy="261.07" r="1.3" fill="url(#gC)" stroke="#6a3c1e" stroke-width="0.25" />
<circle cx="588.01" cy="261.07" r="1.3" fill="url(#gC)" stroke="#6a3c1e" stroke-width="0.25" />
<circle cx="601.99" cy="261.07" r="1.3" fill="url(#gC)" stroke="#6a3c1e" stroke-width="0.25" />
<circle cx="574.04" cy="269.17" r="1.3" fill="url(#gC)" stroke="#6a3c1e" stroke-width="0.25" />
<circle cx="588.01" cy="269.17" r="1.3" fill="url(#gC)" stroke="#6a3c1e" stroke-width="0.25" />
<circle cx="601.99" cy="269.17" r="1.3" fill="url(#gC)" stroke="#6a3c1e" stroke-width="0.25" />
<circle cx="616.22" cy="269.17" r="1.3" fill="url(#gC)" stroke="#6a3c1e" stroke-width="0.25" />
<circle cx="567.18" cy="273.18" r="1.3" fill="url(#gC)" stroke="#6a3c1e" stroke-width="0.25" />
<circle cx="581.12" cy="273.18" r="1.3" fill="url(#gC)" stroke="#6a3c1e" stroke-width="0.25" />
<circle cx="595.13" cy="273.18" r="1.3" fill="url(#gC)" stroke="#6a3c1e" stroke-width="0.25" />
<circle cx="609.06" cy="273.18" r="1.3" fill="url(#gC)" stroke="#6a3c1e" stroke-width="0.25" />
<circle cx="581.12" cy="280.99" r="1.3" fill="url(#gC)" stroke="#6a3c1e" stroke-width="0.25" />
<circle cx="595.13" cy="280.99" r="1.3" fill="url(#gC)" stroke="#6a3c1e" stroke-width="0.25" />
<circle cx="609.06" cy="280.99" r="1.3" fill="url(#gC)" stroke="#6a3c1e" stroke-width="0.25" />
<circle cx="623.29" cy="280.99" r="1.3" fill="url(#gC)" stroke="#6a3c1e" stroke-width="0.25" />
<circle cx="574.33" cy="285" r="1.3" fill="url(#gC)" stroke="#6a3c1e" stroke-width="0.25" />
<circle cx="588.27" cy="285" r="1.3" fill="url(#gC)" stroke="#6a3c1e" stroke-width="0.25" />
<circle cx="602.21" cy="285" r="1.3" fill="url(#gC)" stroke="#6a3c1e" stroke-width="0.25" />
<circle cx="616.43" cy="285" r="1.3" fill="url(#gC)" stroke="#6a3c1e" stroke-width="0.25" />
<circle cx="588.27" cy="292.96" r="1.3" fill="url(#gC)" stroke="#6a3c1e" stroke-width="0.25" />
<circle cx="602.21" cy="292.96" r="1.3" fill="url(#gC)" stroke="#6a3c1e" stroke-width="0.25" />
<circle cx="616.43" cy="292.96" r="1.3" fill="url(#gC)" stroke="#6a3c1e" stroke-width="0.25" />
<circle cx="630.44" cy="292.96" r="1.3" fill="url(#gC)" stroke="#6a3c1e" stroke-width="0.25" />
<circle cx="581.7" cy="296.97" r="1.3" fill="url(#gC)" stroke="#6a3c1e" stroke-width="0.25" />
<circle cx="595.64" cy="296.97" r="1.3" fill="url(#gC)" stroke="#6a3c1e" stroke-width="0.25" />
<circle cx="609.65" cy="296.97" r="1.3" fill="url(#gC)" stroke="#6a3c1e" stroke-width="0.25" />
<circle cx="623.58" cy="296.97" r="1.3" fill="url(#gC)" stroke="#6a3c1e" stroke-width="0.25" />
<circle cx="595.64" cy="304.78" r="1.3" fill="url(#gC)" stroke="#6a3c1e" stroke-width="0.25" />
<circle cx="609.65" cy="304.78" r="1.3" fill="url(#gC)" stroke="#6a3c1e" stroke-width="0.25" />
<circle cx="623.58" cy="304.78" r="1.3" fill="url(#gC)" stroke="#6a3c1e" stroke-width="0.25" />
<circle cx="577.54" cy="271.18" r="1.43" fill="#e8202e" />
<circle cx="591.51" cy="271.18" r="1.43" fill="#e8202e" />
<circle cx="605.48" cy="271.18" r="1.43" fill="#e8202e" />
<circle cx="584.61" cy="283" r="1.43" fill="#e8202e" />
<circle cx="598.62" cy="283" r="1.43" fill="#e8202e" />
<circle cx="612.56" cy="283" r="1.43" fill="#e8202e" />
<circle cx="591.76" cy="294.96" r="1.43" fill="#e8202e" />
<circle cx="605.7" cy="294.96" r="1.43" fill="#e8202e" />
<circle cx="619.93" cy="294.96" r="1.43" fill="#e8202e" />
<text x="603.2" y="314.4" font-size="6" text-anchor="middle" font-weight="bold" fill="#111" >SnS<tspan font-size="4.2" dy="1.2">2</tspan><tspan dy="-1.2">/GO</tspan></text>
</g>
</svg>
</body></html>
